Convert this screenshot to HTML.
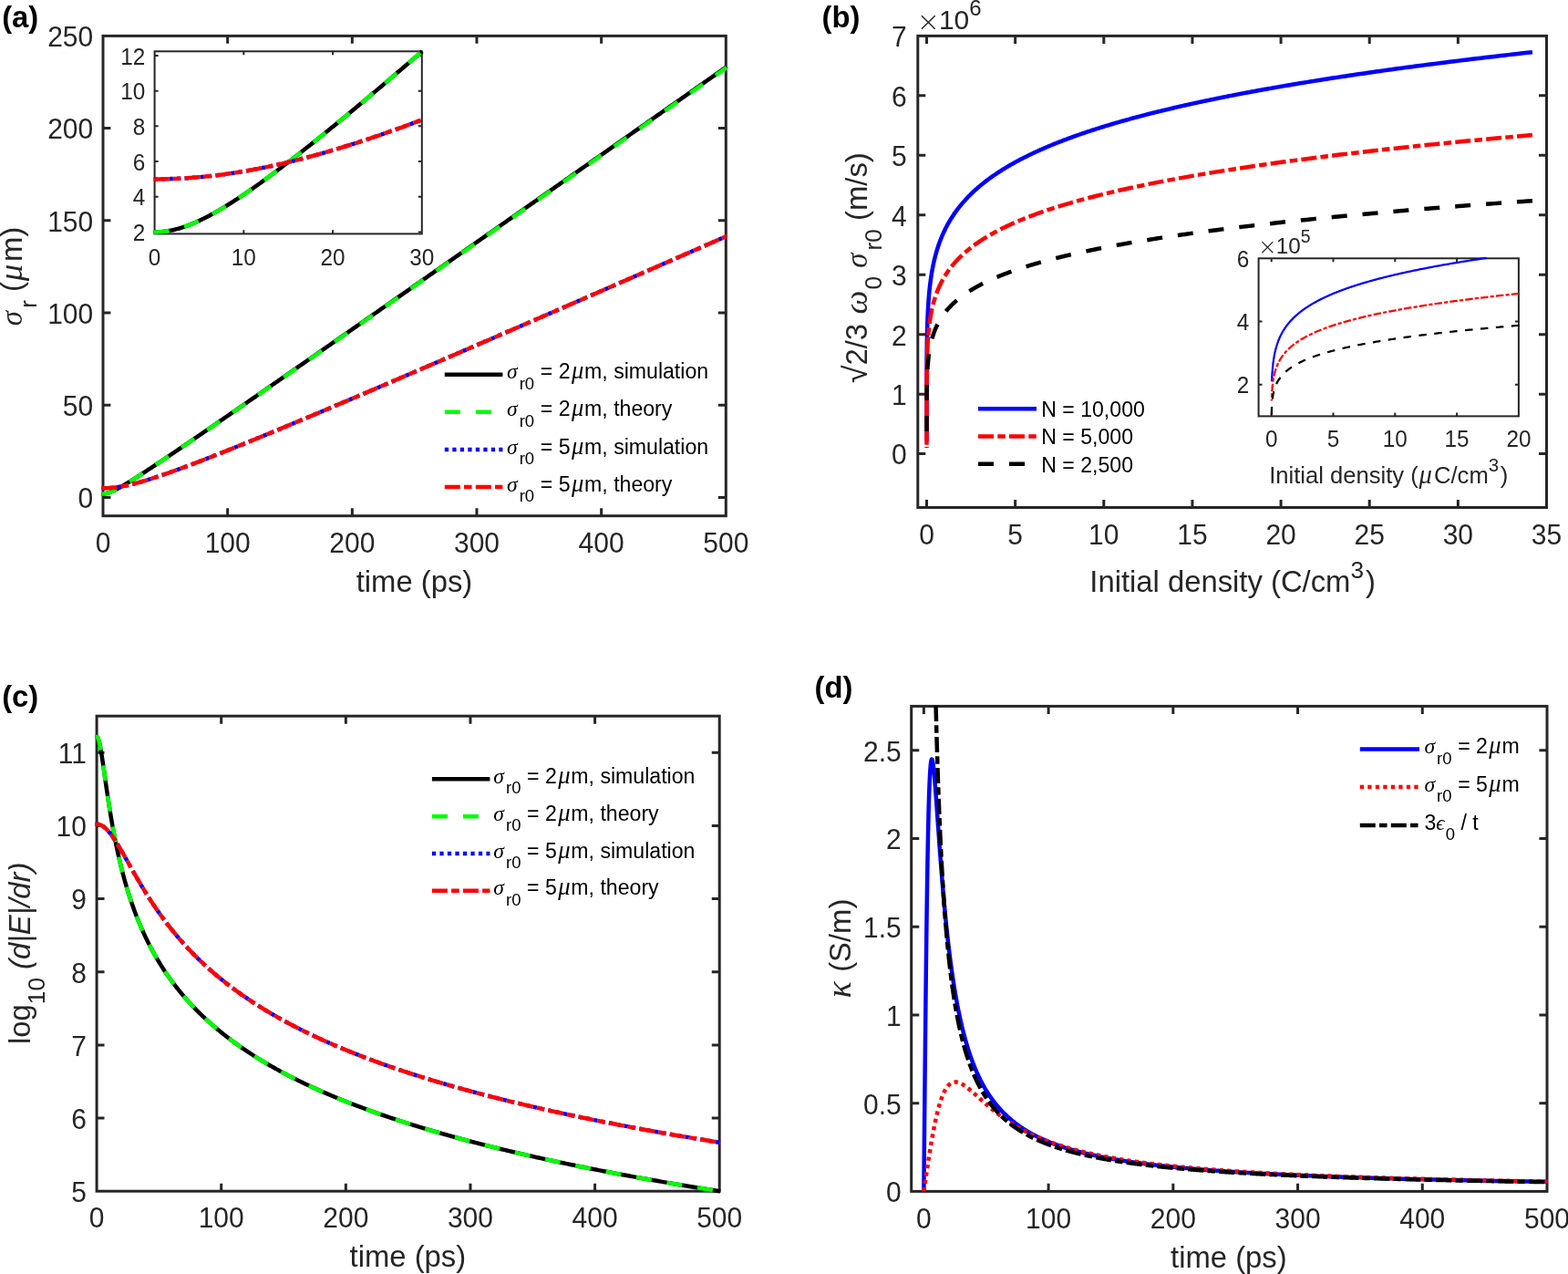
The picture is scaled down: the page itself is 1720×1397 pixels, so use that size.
<!DOCTYPE html>
<html lang="en">
<head>
<meta charset="utf-8">
<title>Coulomb explosion dynamics: four-panel figure</title>
<style>
html,body{margin:0;padding:0;background:#fff}
body{width:1720px;height:1397px;overflow:hidden}
svg{display:block;font-family:"Liberation Sans", sans-serif}
</style>
</head>
<body>
<svg width="1720" height="1397" viewBox="0 0 1720 1397">
<rect width="1720" height="1397" fill="#fff"/>
<path d="M249.66 565.7v-8.43M249.66 39.4v8.43M386.32 565.7v-8.43M386.32 39.4v8.43M522.98 565.7v-8.43M522.98 39.4v8.43M659.64 565.7v-8.43M659.64 39.4v8.43M113 545.46h8.43M796.3 545.46h-8.43M113 444.25h8.43M796.3 444.25h-8.43M113 343.03h8.43M796.3 343.03h-8.43M113 241.82h8.43M796.3 241.82h-8.43M113 140.61h8.43M796.3 140.61h-8.43" stroke="#262626" stroke-width="3" fill="none"/>
<rect x="113" y="39.4" width="683.3" height="526.3" fill="none" stroke="#262626" stroke-width="3"/>
<polyline points="111.5,541.41 113,541.41 113.15,541.41 113.29,541.41 113.44,541.4 113.58,541.4 113.73,541.39 113.88,541.39 114.02,541.38 114.17,541.37 114.32,541.36 114.46,541.34 114.61,541.33 114.76,541.31 114.91,541.3 115.05,541.28 115.2,541.26 115.35,541.24 115.5,541.22 115.65,541.2 115.8,541.17 115.95,541.15 116.1,541.12 116.25,541.09 116.4,541.06 116.56,541.03 116.71,541 116.86,540.97 117.02,540.93 117.17,540.9 117.33,540.86 117.48,540.82 117.64,540.78 117.8,540.74 117.96,540.7 118.11,540.65 118.27,540.61 118.43,540.56 118.59,540.51 118.76,540.46 118.92,540.41 119.08,540.36 119.25,540.31 119.41,540.25 119.58,540.2 119.74,540.14 119.91,540.08 120.08,540.02 120.25,539.96 120.42,539.9 120.59,539.84 120.76,539.77 120.94,539.71 121.11,539.64 121.29,539.57 121.46,539.5 121.64,539.43 121.82,539.36 122,539.28 122.18,539.21 122.36,539.13 122.55,539.05 122.73,538.97 122.92,538.89 123.1,538.81 123.29,538.73 123.48,538.64 123.67,538.56 123.86,538.47 124.05,538.38 124.25,538.29 124.44,538.2 124.64,538.11 124.83,538.01 125.03,537.92 125.23,537.82 125.43,537.72 125.64,537.63 125.84,537.53 126.05,537.42 126.25,537.32 126.46,537.22 126.67,537.11 126.88,537.01 127.09,536.9 127.3,536.79 127.52,536.68 127.73,536.56 127.95,536.45 128.17,536.34 128.39,536.22 128.61,536.1 128.83,535.99 129.06,535.87 129.28,535.74 129.51,535.62 129.74,535.5 129.97,535.37 130.2,535.25 130.43,535.12 130.66,534.99 130.9,534.86 131.14,534.73 131.37,534.59 131.61,534.46 131.86,534.32 132.1,534.19 132.34,534.05 132.59,533.91 132.84,533.77 133.08,533.63 133.34,533.48 133.59,533.34 133.84,533.19 134.1,533.05 134.35,532.9 134.61,532.75 134.87,532.6 135.13,532.44 135.39,532.29 135.66,532.13 135.92,531.98 136.19,531.82 136.46,531.66 136.73,531.5 137,531.34 137.27,531.18 137.55,531.01 137.82,530.85 138.1,530.68 138.38,530.51 138.66,530.34 138.95,530.17 139.23,530 139.52,529.82 139.81,529.65 140.09,529.47 140.39,529.29 140.68,529.12 140.97,528.94 141.27,528.75 141.56,528.57 141.86,528.39 142.16,528.2 142.47,528.02 142.77,527.83 143.08,527.64 143.38,527.45 143.69,527.26 144,527.06 144.31,526.87 144.63,526.67 144.94,526.47 145.26,526.28 145.58,526.08 145.9,525.88 146.22,525.67 146.54,525.47 146.87,525.26 147.2,525.06 147.52,524.85 147.85,524.64 148.19,524.43 148.52,524.22 148.86,524.01 149.19,523.79 149.53,523.58 149.87,523.36 150.21,523.14 150.56,522.92 150.9,522.7 151.25,522.48 151.6,522.26 151.95,522.03 152.3,521.81 152.65,521.58 153.01,521.35 153.37,521.12 153.72,520.89 154.08,520.66 154.45,520.42 154.81,520.19 155.18,519.95 155.54,519.71 155.91,519.47 156.28,519.23 156.66,518.99 157.03,518.75 157.41,518.51 157.78,518.26 158.16,518.01 158.54,517.76 158.93,517.51 159.31,517.26 159.7,517.01 160.08,516.76 160.47,516.5 160.86,516.25 161.26,515.99 161.65,515.73 162.05,515.47 162.45,515.21 162.85,514.95 163.25,514.68 163.65,514.42 164.06,514.15 164.46,513.88 164.87,513.61 165.28,513.34 165.69,513.07 166.11,512.8 166.52,512.52 166.94,512.25 167.36,511.97 167.78,511.69 168.2,511.41 168.63,511.13 169.05,510.85 169.48,510.57 169.91,510.28 170.34,510 170.77,509.71 171.21,509.42 171.65,509.13 172.08,508.84 172.52,508.54 172.97,508.25 173.41,507.96 173.85,507.66 174.3,507.36 174.75,507.06 175.2,506.76 175.65,506.46 176.11,506.16 176.56,505.85 177.02,505.55 177.48,505.24 177.94,504.93 178.4,504.62 178.87,504.31 179.33,504 179.8,503.68 180.27,503.37 180.74,503.05 181.22,502.73 181.69,502.41 182.17,502.09 182.65,501.77 183.13,501.45 183.61,501.13 184.09,500.8 184.58,500.47 185.07,500.14 185.56,499.82 186.05,499.48 186.54,499.15 187.03,498.82 187.53,498.48 188.03,498.15 188.53,497.81 189.03,497.47 189.53,497.13 190.04,496.79 190.55,496.45 191.05,496.1 191.57,495.76 192.08,495.41 192.59,495.07 193.11,494.72 193.63,494.37 194.14,494.01 194.67,493.66 195.19,493.31 195.71,492.95 196.24,492.59 196.77,492.24 197.3,491.88 197.83,491.52 198.36,491.15 198.9,490.79 199.44,490.42 199.98,490.06 200.52,489.69 201.06,489.32 201.6,488.95 202.15,488.58 202.7,488.21 203.25,487.83 203.8,487.46 204.35,487.08 204.91,486.7 205.47,486.33 206.03,485.94 206.59,485.56 207.15,485.18 207.71,484.8 208.28,484.41 208.85,484.02 209.42,483.63 209.99,483.24 210.56,482.85 211.13,482.46 211.71,482.07 212.29,481.67 212.87,481.28 213.45,480.88 214.04,480.48 214.62,480.08 215.21,479.68 215.8,479.27 216.39,478.87 216.98,478.47 217.58,478.06 218.17,477.65 218.77,477.24 219.37,476.83 219.97,476.42 220.58,476.01 221.18,475.59 221.79,475.17 222.4,474.76 223.01,474.34 223.62,473.92 224.24,473.5 224.86,473.08 225.47,472.65 226.09,472.23 226.72,471.8 227.34,471.37 227.96,470.94 228.59,470.51 229.22,470.08 229.85,469.65 230.48,469.21 231.12,468.78 231.75,468.34 232.39,467.9 233.03,467.46 233.67,467.02 234.32,466.58 234.96,466.14 235.61,465.69 236.26,465.25 236.91,464.8 237.56,464.35 238.22,463.9 238.87,463.45 239.53,463 240.19,462.54 240.85,462.09 241.51,461.63 242.18,461.17 242.85,460.71 243.52,460.25 244.19,459.79 244.86,459.33 245.53,458.87 246.21,458.4 246.89,457.93 247.57,457.46 248.25,456.99 248.93,456.52 249.62,456.05 250.3,455.58 250.99,455.1 251.68,454.63 252.37,454.15 253.07,453.67 253.76,453.19 254.46,452.71 255.16,452.23 255.86,451.74 256.57,451.26 257.27,450.77 257.98,450.28 258.69,449.79 259.4,449.3 260.11,448.81 260.82,448.32 261.54,447.82 262.26,447.33 262.98,446.83 263.7,446.33 264.42,445.83 265.15,445.33 265.87,444.83 266.6,444.32 267.33,443.82 268.07,443.31 268.8,442.81 269.54,442.3 270.27,441.79 271.01,441.27 271.76,440.76 272.5,440.25 273.24,439.73 273.99,439.22 274.74,438.7 275.49,438.18 276.24,437.66 277,437.14 277.75,436.61 278.51,436.09 279.27,435.56 280.03,435.03 280.79,434.51 281.56,433.98 282.33,433.44 283.1,432.91 283.87,432.38 284.64,431.84 285.41,431.31 286.19,430.77 286.97,430.23 287.75,429.69 288.53,429.15 289.31,428.6 290.1,428.06 290.88,427.51 291.67,426.97 292.46,426.42 293.26,425.87 294.05,425.32 294.85,424.77 295.64,424.21 296.44,423.66 297.24,423.1 298.05,422.55 298.85,421.99 299.66,421.43 300.47,420.87 301.28,420.3 302.09,419.74 302.91,419.17 303.72,418.61 304.54,418.04 305.36,417.47 306.18,416.9 307.01,416.33 307.83,415.75 308.66,415.18 309.49,414.6 310.32,414.03 311.15,413.45 311.99,412.87 312.82,412.29 313.66,411.71 314.5,411.12 315.34,410.54 316.19,409.95 317.03,409.36 317.88,408.78 318.73,408.19 319.58,407.59 320.43,407 321.29,406.41 322.14,405.81 323,405.21 323.86,404.62 324.72,404.02 325.59,403.42 326.45,402.81 327.32,402.21 328.19,401.61 329.06,401 329.93,400.39 330.81,399.79 331.68,399.18 332.56,398.56 333.44,397.95 334.33,397.34 335.21,396.72 336.09,396.11 336.98,395.49 337.87,394.87 338.76,394.25 339.66,393.63 340.55,393.01 341.45,392.38 342.35,391.76 343.25,391.13 344.15,390.5 345.05,389.87 345.96,389.24 346.87,388.61 347.78,387.98 348.69,387.34 349.6,386.7 350.52,386.07 351.43,385.43 352.35,384.79 353.27,384.15 354.19,383.51 355.12,382.86 356.04,382.22 356.97,381.57 357.9,380.92 358.83,380.27 359.77,379.62 360.7,378.97 361.64,378.32 362.58,377.66 363.52,377.01 364.46,376.35 365.41,375.69 366.35,375.03 367.3,374.37 368.25,373.71 369.2,373.05 370.16,372.38 371.11,371.72 372.07,371.05 373.03,370.38 373.99,369.71 374.95,369.04 375.91,368.37 376.88,367.69 377.85,367.02 378.82,366.34 379.79,365.66 380.77,364.98 381.74,364.3 382.72,363.62 383.7,362.94 384.68,362.25 385.66,361.57 386.65,360.88 387.63,360.19 388.62,359.5 389.61,358.81 390.6,358.12 391.6,357.42 392.59,356.73 393.59,356.03 394.59,355.34 395.59,354.64 396.59,353.94 397.6,353.24 398.61,352.53 399.62,351.83 400.63,351.12 401.64,350.42 402.65,349.71 403.67,349 404.69,348.29 405.71,347.58 406.73,346.86 407.75,346.15 408.78,345.43 409.8,344.72 410.83,344 411.86,343.28 412.89,342.56 413.93,341.83 414.97,341.11 416,340.38 417.04,339.66 418.09,338.93 419.13,338.2 420.17,337.47 421.22,336.74 422.27,336.01 423.32,335.27 424.37,334.54 425.43,333.8 426.49,333.06 427.54,332.32 428.6,331.58 429.67,330.84 430.73,330.1 431.79,329.35 432.86,328.61 433.93,327.86 435,327.11 436.08,326.36 437.15,325.61 438.23,324.86 439.31,324.1 440.39,323.35 441.47,322.59 442.55,321.83 443.64,321.07 444.73,320.31 445.82,319.55 446.91,318.79 448,318.02 449.09,317.26 450.19,316.49 451.29,315.72 452.39,314.95 453.49,314.18 454.6,313.41 455.7,312.64 456.81,311.86 457.92,311.09 459.03,310.31 460.15,309.53 461.26,308.75 462.38,307.97 463.5,307.18 464.62,306.4 465.74,305.62 466.87,304.83 467.99,304.04 469.12,303.25 470.25,302.46 471.38,301.67 472.52,300.88 473.65,300.08 474.79,299.29 475.93,298.49 477.07,297.69 478.21,296.89 479.36,296.09 480.5,295.29 481.65,294.48 482.8,293.68 483.95,292.87 485.11,292.06 486.26,291.26 487.42,290.45 488.58,289.63 489.74,288.82 490.91,288.01 492.07,287.19 493.24,286.37 494.41,285.56 495.58,284.74 496.75,283.92 497.92,283.09 499.1,282.27 500.28,281.45 501.46,280.62 502.64,279.79 503.82,278.96 505.01,278.14 506.2,277.3 507.38,276.47 508.58,275.64 509.77,274.8 510.96,273.97 512.16,273.13 513.36,272.29 514.56,271.45 515.76,270.61 516.96,269.76 518.17,268.92 519.38,268.07 520.58,267.23 521.8,266.38 523.01,265.53 524.22,264.68 525.44,263.83 526.66,262.97 527.88,262.12 529.1,261.26 530.33,260.41 531.55,259.55 532.78,258.69 534.01,257.83 535.24,256.96 536.47,256.1 537.71,255.23 538.94,254.37 540.18,253.5 541.42,252.63 542.67,251.76 543.91,250.89 545.16,250.01 546.4,249.14 547.65,248.26 548.91,247.39 550.16,246.51 551.42,245.63 552.67,244.75 553.93,243.87 555.19,242.98 556.46,242.1 557.72,241.21 558.99,240.32 560.25,239.44 561.52,238.55 562.8,237.65 564.07,236.76 565.35,235.87 566.62,234.97 567.9,234.07 569.18,233.18 570.47,232.28 571.75,231.38 573.04,230.48 574.33,229.57 575.62,228.67 576.91,227.76 578.2,226.85 579.5,225.95 580.8,225.04 582.1,224.13 583.4,223.21 584.7,222.3 586.01,221.38 587.31,220.47 588.62,219.55 589.93,218.63 591.25,217.71 592.56,216.79 593.88,215.87 595.19,214.94 596.51,214.02 597.84,213.09 599.16,212.16 600.49,211.23 601.81,210.3 603.14,209.37 604.47,208.44 605.81,207.5 607.14,206.57 608.48,205.63 609.82,204.69 611.16,203.75 612.5,202.81 613.84,201.87 615.19,200.92 616.53,199.98 617.88,199.03 619.24,198.08 620.59,197.13 621.94,196.18 623.3,195.23 624.66,194.28 626.02,193.32 627.38,192.37 628.75,191.41 630.11,190.45 631.48,189.49 632.85,188.53 634.22,187.57 635.59,186.61 636.97,185.64 638.35,184.68 639.73,183.71 641.11,182.74 642.49,181.77 643.87,180.8 645.26,179.83 646.65,178.85 648.04,177.88 649.43,176.9 650.82,175.92 652.22,174.94 653.62,173.96 655.02,172.98 656.42,172 657.82,171.01 659.23,170.03 660.63,169.04 662.04,168.05 663.45,167.06 664.86,166.07 666.28,165.08 667.69,164.09 669.11,163.09 670.53,162.1 671.95,161.1 673.38,160.1 674.8,159.1 676.23,158.1 677.66,157.09 679.09,156.09 680.52,155.08 681.95,154.08 683.39,153.07 684.83,152.06 686.27,151.05 687.71,150.04 689.15,149.02 690.6,148.01 692.05,146.99 693.5,145.98 694.95,144.96 696.4,143.94 697.85,142.92 699.31,141.9 700.77,140.87 702.23,139.85 703.69,138.82 705.16,137.79 706.62,136.76 708.09,135.73 709.56,134.7 711.03,133.67 712.5,132.63 713.98,131.6 715.46,130.56 716.93,129.52 718.41,128.48 719.9,127.44 721.38,126.4 722.87,125.36 724.36,124.31 725.84,123.27 727.34,122.22 728.83,121.17 730.33,120.12 731.82,119.07 733.32,118.02 734.82,116.96 736.33,115.91 737.83,114.85 739.34,113.79 740.84,112.74 742.35,111.68 743.87,110.61 745.38,109.55 746.9,108.49 748.41,107.42 749.93,106.35 751.45,105.29 752.98,104.22 754.5,103.14 756.03,102.07 757.56,101 759.09,99.92 760.62,98.85 762.15,97.77 763.69,96.69 765.23,95.61 766.77,94.53 768.31,93.45 769.85,92.36 771.4,91.28 772.95,90.19 774.49,89.1 776.05,88.01 777.6,86.92 779.15,85.83 780.71,84.74 782.27,83.64 783.83,82.55 785.39,81.45 786.95,80.35 788.52,79.25 790.09,78.15 791.65,77.05 793.23,75.95 794.8,74.84 796.3,73.79 797.2,73.15" fill="none" stroke="#000000" stroke-width="4.5" stroke-linejoin="round"/>
<polyline points="111.5,541.41 113,541.41 113.15,541.41 113.29,541.41 113.44,541.4 113.58,541.4 113.73,541.39 113.88,541.39 114.02,541.38 114.17,541.37 114.32,541.36 114.46,541.34 114.61,541.33 114.76,541.32 114.91,541.3 115.05,541.28 115.2,541.26 115.35,541.24 115.5,541.22 115.65,541.2 115.8,541.17 115.95,541.15 116.1,541.12 116.25,541.09 116.4,541.06 116.56,541.03 116.71,541 116.86,540.97 117.02,540.93 117.17,540.9 117.33,540.86 117.48,540.82 117.64,540.78 117.8,540.74 117.96,540.7 118.11,540.65 118.27,540.61 118.43,540.56 118.59,540.51 118.76,540.47 118.92,540.41 119.08,540.36 119.25,540.31 119.41,540.26 119.58,540.2 119.74,540.14 119.91,540.09 120.08,540.03 120.25,539.96 120.42,539.9 120.59,539.84 120.76,539.77 120.94,539.71 121.11,539.64 121.29,539.57 121.46,539.5 121.64,539.43 121.82,539.36 122,539.29 122.18,539.21 122.36,539.13 122.55,539.06 122.73,538.98 122.92,538.9 123.1,538.81 123.29,538.73 123.48,538.65 123.67,538.56 123.86,538.47 124.05,538.39 124.25,538.3 124.44,538.21 124.64,538.11 124.83,538.02 125.03,537.93 125.23,537.83 125.43,537.73 125.64,537.63 125.84,537.53 126.05,537.43 126.25,537.33 126.46,537.22 126.67,537.12 126.88,537.01 127.09,536.91 127.3,536.8 127.52,536.69 127.73,536.57 127.95,536.46 128.17,536.35 128.39,536.23 128.61,536.11 128.83,536 129.06,535.88 129.28,535.75 129.51,535.63 129.74,535.51 129.97,535.38 130.2,535.26 130.43,535.13 130.66,535 130.9,534.87 131.14,534.74 131.37,534.61 131.61,534.47 131.86,534.34 132.1,534.2 132.34,534.06 132.59,533.92 132.84,533.78 133.08,533.64 133.34,533.5 133.59,533.35 133.84,533.21 134.1,533.06 134.35,532.91 134.61,532.76 134.87,532.61 135.13,532.46 135.39,532.31 135.66,532.15 135.92,531.99 136.19,531.84 136.46,531.68 136.73,531.52 137,531.36 137.27,531.19 137.55,531.03 137.82,530.86 138.1,530.7 138.38,530.53 138.66,530.36 138.95,530.19 139.23,530.02 139.52,529.84 139.81,529.67 140.09,529.49 140.39,529.32 140.68,529.14 140.97,528.96 141.27,528.78 141.56,528.59 141.86,528.41 142.16,528.23 142.47,528.04 142.77,527.85 143.08,527.66 143.38,527.47 143.69,527.28 144,527.09 144.31,526.89 144.63,526.7 144.94,526.5 145.26,526.3 145.58,526.1 145.9,525.9 146.22,525.7 146.54,525.5 146.87,525.29 147.2,525.09 147.52,524.88 147.85,524.67 148.19,524.46 148.52,524.25 148.86,524.04 149.19,523.82 149.53,523.61 149.87,523.39 150.21,523.18 150.56,522.96 150.9,522.74 151.25,522.51 151.6,522.29 151.95,522.07 152.3,521.84 152.65,521.61 153.01,521.39 153.37,521.16 153.72,520.93 154.08,520.69 154.45,520.46 154.81,520.23 155.18,519.99 155.54,519.75 155.91,519.51 156.28,519.27 156.66,519.03 157.03,518.79 157.41,518.55 157.78,518.3 158.16,518.05 158.54,517.81 158.93,517.56 159.31,517.31 159.7,517.06 160.08,516.8 160.47,516.55 160.86,516.29 161.26,516.04 161.65,515.78 162.05,515.52 162.45,515.26 162.85,514.99 163.25,514.73 163.65,514.47 164.06,514.2 164.46,513.93 164.87,513.66 165.28,513.39 165.69,513.12 166.11,512.85 166.52,512.58 166.94,512.3 167.36,512.02 167.78,511.75 168.2,511.47 168.63,511.19 169.05,510.91 169.48,510.62 169.91,510.34 170.34,510.05 170.77,509.77 171.21,509.48 171.65,509.19 172.08,508.9 172.52,508.6 172.97,508.31 173.41,508.02 173.85,507.72 174.3,507.42 174.75,507.12 175.2,506.82 175.65,506.52 176.11,506.22 176.56,505.91 177.02,505.61 177.48,505.3 177.94,504.99 178.4,504.69 178.87,504.38 179.33,504.06 179.8,503.75 180.27,503.44 180.74,503.12 181.22,502.8 181.69,502.48 182.17,502.16 182.65,501.84 183.13,501.52 183.61,501.2 184.09,500.87 184.58,500.55 185.07,500.22 185.56,499.89 186.05,499.56 186.54,499.23 187.03,498.9 187.53,498.56 188.03,498.23 188.53,497.89 189.03,497.55 189.53,497.21 190.04,496.87 190.55,496.53 191.05,496.19 191.57,495.84 192.08,495.5 192.59,495.15 193.11,494.8 193.63,494.45 194.14,494.1 194.67,493.75 195.19,493.39 195.71,493.04 196.24,492.68 196.77,492.32 197.3,491.97 197.83,491.61 198.36,491.24 198.9,490.88 199.44,490.52 199.98,490.15 200.52,489.78 201.06,489.42 201.6,489.05 202.15,488.68 202.7,488.3 203.25,487.93 203.8,487.56 204.35,487.18 204.91,486.8 205.47,486.42 206.03,486.04 206.59,485.66 207.15,485.28 207.71,484.9 208.28,484.51 208.85,484.13 209.42,483.74 209.99,483.35 210.56,482.96 211.13,482.57 211.71,482.17 212.29,481.78 212.87,481.38 213.45,480.99 214.04,480.59 214.62,480.19 215.21,479.79 215.8,479.39 216.39,478.98 216.98,478.58 217.58,478.17 218.17,477.77 218.77,477.36 219.37,476.95 219.97,476.54 220.58,476.12 221.18,475.71 221.79,475.29 222.4,474.88 223.01,474.46 223.62,474.04 224.24,473.62 224.86,473.2 225.47,472.78 226.09,472.35 226.72,471.93 227.34,471.5 227.96,471.07 228.59,470.64 229.22,470.21 229.85,469.78 230.48,469.34 231.12,468.91 231.75,468.47 232.39,468.04 233.03,467.6 233.67,467.16 234.32,466.72 234.96,466.27 235.61,465.83 236.26,465.38 236.91,464.94 237.56,464.49 238.22,464.04 238.87,463.59 239.53,463.14 240.19,462.69 240.85,462.23 241.51,461.78 242.18,461.32 242.85,460.86 243.52,460.4 244.19,459.94 244.86,459.48 245.53,459.01 246.21,458.55 246.89,458.08 247.57,457.62 248.25,457.15 248.93,456.68 249.62,456.2 250.3,455.73 250.99,455.26 251.68,454.78 252.37,454.31 253.07,453.83 253.76,453.35 254.46,452.87 255.16,452.39 255.86,451.9 256.57,451.42 257.27,450.93 257.98,450.45 258.69,449.96 259.4,449.47 260.11,448.98 260.82,448.48 261.54,447.99 262.26,447.5 262.98,447 263.7,446.5 264.42,446 265.15,445.5 265.87,445 266.6,444.5 267.33,444 268.07,443.49 268.8,442.98 269.54,442.48 270.27,441.97 271.01,441.46 271.76,440.94 272.5,440.43 273.24,439.92 273.99,439.4 274.74,438.88 275.49,438.36 276.24,437.84 277,437.32 277.75,436.8 278.51,436.28 279.27,435.75 280.03,435.23 280.79,434.7 281.56,434.17 282.33,433.64 283.1,433.11 283.87,432.57 284.64,432.04 285.41,431.5 286.19,430.97 286.97,430.43 287.75,429.89 288.53,429.35 289.31,428.81 290.1,428.26 290.88,427.72 291.67,427.17 292.46,426.63 293.26,426.08 294.05,425.53 294.85,424.98 295.64,424.42 296.44,423.87 297.24,423.32 298.05,422.76 298.85,422.2 299.66,421.64 300.47,421.08 301.28,420.52 302.09,419.96 302.91,419.39 303.72,418.83 304.54,418.26 305.36,417.69 306.18,417.12 307.01,416.55 307.83,415.98 308.66,415.41 309.49,414.83 310.32,414.26 311.15,413.68 311.99,413.1 312.82,412.52 313.66,411.94 314.5,411.36 315.34,410.77 316.19,410.19 317.03,409.6 317.88,409.01 318.73,408.42 319.58,407.83 320.43,407.24 321.29,406.65 322.14,406.06 323,405.46 323.86,404.86 324.72,404.26 325.59,403.67 326.45,403.06 327.32,402.46 328.19,401.86 329.06,401.25 329.93,400.65 330.81,400.04 331.68,399.43 332.56,398.82 333.44,398.21 334.33,397.6 335.21,396.98 336.09,396.37 336.98,395.75 337.87,395.13 338.76,394.52 339.66,393.89 340.55,393.27 341.45,392.65 342.35,392.03 343.25,391.4 344.15,390.77 345.05,390.14 345.96,389.51 346.87,388.88 347.78,388.25 348.69,387.62 349.6,386.98 350.52,386.35 351.43,385.71 352.35,385.07 353.27,384.43 354.19,383.79 355.12,383.15 356.04,382.5 356.97,381.86 357.9,381.21 358.83,380.56 359.77,379.91 360.7,379.26 361.64,378.61 362.58,377.96 363.52,377.3 364.46,376.65 365.41,375.99 366.35,375.33 367.3,374.67 368.25,374.01 369.2,373.35 370.16,372.69 371.11,372.02 372.07,371.35 373.03,370.69 373.99,370.02 374.95,369.35 375.91,368.68 376.88,368 377.85,367.33 378.82,366.65 379.79,365.98 380.77,365.3 381.74,364.62 382.72,363.94 383.7,363.26 384.68,362.57 385.66,361.89 386.65,361.2 387.63,360.52 388.62,359.83 389.61,359.14 390.6,358.45 391.6,357.76 392.59,357.06 393.59,356.37 394.59,355.67 395.59,354.97 396.59,354.27 397.6,353.57 398.61,352.87 399.62,352.17 400.63,351.47 401.64,350.76 402.65,350.05 403.67,349.35 404.69,348.64 405.71,347.93 406.73,347.21 407.75,346.5 408.78,345.79 409.8,345.07 410.83,344.35 411.86,343.63 412.89,342.91 413.93,342.19 414.97,341.47 416,340.75 417.04,340.02 418.09,339.29 419.13,338.57 420.17,337.84 421.22,337.11 422.27,336.38 423.32,335.64 424.37,334.91 425.43,334.17 426.49,333.44 427.54,332.7 428.6,331.96 429.67,331.22 430.73,330.48 431.79,329.73 432.86,328.99 433.93,328.24 435,327.5 436.08,326.75 437.15,326 438.23,325.25 439.31,324.49 440.39,323.74 441.47,322.98 442.55,322.23 443.64,321.47 444.73,320.71 445.82,319.95 446.91,319.19 448,318.43 449.09,317.66 450.19,316.9 451.29,316.13 452.39,315.36 453.49,314.59 454.6,313.82 455.7,313.05 456.81,312.27 457.92,311.5 459.03,310.72 460.15,309.95 461.26,309.17 462.38,308.39 463.5,307.61 464.62,306.82 465.74,306.04 466.87,305.25 467.99,304.47 469.12,303.68 470.25,302.89 471.38,302.1 472.52,301.31 473.65,300.52 474.79,299.72 475.93,298.93 477.07,298.13 478.21,297.33 479.36,296.53 480.5,295.73 481.65,294.93 482.8,294.12 483.95,293.32 485.11,292.51 486.26,291.71 487.42,290.9 488.58,290.09 489.74,289.28 490.91,288.46 492.07,287.65 493.24,286.83 494.41,286.02 495.58,285.2 496.75,284.38 497.92,283.56 499.1,282.74 500.28,281.91 501.46,281.09 502.64,280.26 503.82,279.44 505.01,278.61 506.2,277.78 507.38,276.95 508.58,276.12 509.77,275.28 510.96,274.45 512.16,273.61 513.36,272.77 514.56,271.93 515.76,271.09 516.96,270.25 518.17,269.41 519.38,268.57 520.58,267.72 521.8,266.87 523.01,266.03 524.22,265.18 525.44,264.33 526.66,263.47 527.88,262.62 529.1,261.77 530.33,260.91 531.55,260.05 532.78,259.2 534.01,258.34 535.24,257.47 536.47,256.61 537.71,255.75 538.94,254.88 540.18,254.02 541.42,253.15 542.67,252.28 543.91,251.41 545.16,250.54 546.4,249.67 547.65,248.79 548.91,247.92 550.16,247.04 551.42,246.16 552.67,245.28 553.93,244.4 555.19,243.52 556.46,242.64 557.72,241.75 558.99,240.87 560.25,239.98 561.52,239.09 562.8,238.2 564.07,237.31 565.35,236.42 566.62,235.52 567.9,234.63 569.18,233.73 570.47,232.83 571.75,231.94 573.04,231.03 574.33,230.13 575.62,229.23 576.91,228.33 578.2,227.42 579.5,226.51 580.8,225.61 582.1,224.7 583.4,223.79 584.7,222.87 586.01,221.96 587.31,221.05 588.62,220.13 589.93,219.21 591.25,218.29 592.56,217.37 593.88,216.45 595.19,215.53 596.51,214.61 597.84,213.68 599.16,212.75 600.49,211.83 601.81,210.9 603.14,209.97 604.47,209.04 605.81,208.1 607.14,207.17 608.48,206.23 609.82,205.3 611.16,204.36 612.5,203.42 613.84,202.48 615.19,201.54 616.53,200.59 617.88,199.65 619.24,198.7 620.59,197.75 621.94,196.81 623.3,195.86 624.66,194.9 626.02,193.95 627.38,193 628.75,192.04 630.11,191.09 631.48,190.13 632.85,189.17 634.22,188.21 635.59,187.25 636.97,186.28 638.35,185.32 639.73,184.35 641.11,183.39 642.49,182.42 643.87,181.45 645.26,180.48 646.65,179.51 648.04,178.53 649.43,177.56 650.82,176.58 652.22,175.6 653.62,174.62 655.02,173.64 656.42,172.66 657.82,171.68 659.23,170.7 660.63,169.71 662.04,168.72 663.45,167.74 664.86,166.75 666.28,165.76 667.69,164.77 669.11,163.77 670.53,162.78 671.95,161.78 673.38,160.78 674.8,159.79 676.23,158.79 677.66,157.79 679.09,156.78 680.52,155.78 681.95,154.78 683.39,153.77 684.83,152.76 686.27,151.75 687.71,150.74 689.15,149.73 690.6,148.72 692.05,147.7 693.5,146.69 694.95,145.67 696.4,144.65 697.85,143.64 699.31,142.61 700.77,141.59 702.23,140.57 703.69,139.54 705.16,138.52 706.62,137.49 708.09,136.46 709.56,135.43 711.03,134.4 712.5,133.37 713.98,132.34 715.46,131.3 716.93,130.27 718.41,129.23 719.9,128.19 721.38,127.15 722.87,126.11 724.36,125.06 725.84,124.02 727.34,122.97 728.83,121.93 730.33,120.88 731.82,119.83 733.32,118.78 734.82,117.73 736.33,116.67 737.83,115.62 739.34,114.56 740.84,113.51 742.35,112.45 743.87,111.39 745.38,110.33 746.9,109.27 748.41,108.2 749.93,107.14 751.45,106.07 752.98,105 754.5,103.93 756.03,102.86 757.56,101.79 759.09,100.72 760.62,99.64 762.15,98.57 763.69,97.49 765.23,96.41 766.77,95.33 768.31,94.25 769.85,93.17 771.4,92.09 772.95,91 774.49,89.92 776.05,88.83 777.6,87.74 779.15,86.65 780.71,85.56 782.27,84.47 783.83,83.37 785.39,82.28 786.95,81.18 788.52,80.09 790.09,78.99 791.65,77.89 793.23,76.78 794.8,75.68 796.3,74.63 797.2,74" fill="none" stroke="#00ff00" stroke-width="4.5" stroke-linejoin="round" stroke-dasharray="17 17"/>
<polyline points="111.5,535.34 113,535.34 113.28,535.34 113.56,535.34 113.83,535.33 114.11,535.33 114.39,535.33 114.67,535.32 114.95,535.32 115.23,535.31 115.51,535.31 115.78,535.3 116.06,535.29 116.34,535.28 116.62,535.27 116.9,535.26 117.18,535.25 117.46,535.24 117.74,535.23 118.02,535.21 118.3,535.2 118.58,535.18 118.86,535.17 119.14,535.15 119.42,535.14 119.7,535.12 119.98,535.1 120.27,535.08 120.55,535.06 120.83,535.04 121.11,535.02 121.4,534.99 121.68,534.97 121.96,534.95 122.25,534.92 122.53,534.9 122.81,534.87 123.1,534.84 123.38,534.82 123.67,534.79 123.96,534.76 124.24,534.73 124.53,534.7 124.82,534.66 125.1,534.63 125.39,534.6 125.68,534.57 125.97,534.53 126.26,534.5 126.55,534.46 126.84,534.42 127.13,534.38 127.42,534.35 127.71,534.31 128,534.27 128.3,534.23 128.59,534.18 128.88,534.14 129.18,534.1 129.47,534.06 129.77,534.01 130.07,533.97 130.36,533.92 130.66,533.87 130.96,533.83 131.26,533.78 131.56,533.73 131.86,533.68 132.16,533.63 132.46,533.58 132.76,533.52 133.06,533.47 133.37,533.42 133.67,533.36 133.97,533.31 134.28,533.25 134.59,533.19 134.89,533.14 135.2,533.08 135.51,533.02 135.82,532.96 136.13,532.9 136.44,532.84 136.75,532.78 137.06,532.71 137.37,532.65 137.69,532.59 138,532.52 138.31,532.45 138.63,532.39 138.95,532.32 139.26,532.25 139.58,532.18 139.9,532.11 140.22,532.04 140.54,531.97 140.86,531.9 141.19,531.83 141.51,531.75 141.83,531.68 142.16,531.6 142.49,531.53 142.81,531.45 143.14,531.37 143.47,531.3 143.8,531.22 144.13,531.14 144.46,531.06 144.79,530.98 145.13,530.89 145.46,530.81 145.8,530.73 146.13,530.64 146.47,530.56 146.81,530.47 147.15,530.39 147.49,530.3 147.83,530.21 148.17,530.12 148.51,530.03 148.86,529.94 149.2,529.85 149.55,529.76 149.89,529.67 150.24,529.58 150.59,529.48 150.94,529.39 151.29,529.29 151.65,529.19 152,529.1 152.35,529 152.71,528.9 153.06,528.8 153.42,528.7 153.78,528.6 154.14,528.5 154.5,528.4 154.86,528.29 155.23,528.19 155.59,528.08 155.96,527.98 156.32,527.87 156.69,527.77 157.06,527.66 157.43,527.55 157.8,527.44 158.17,527.33 158.54,527.22 158.92,527.11 159.29,527 159.67,526.88 160.05,526.77 160.42,526.65 160.8,526.54 161.19,526.42 161.57,526.31 161.95,526.19 162.34,526.07 162.72,525.95 163.11,525.83 163.5,525.71 163.89,525.59 164.28,525.47 164.67,525.34 165.06,525.22 165.45,525.09 165.85,524.97 166.25,524.84 166.64,524.72 167.04,524.59 167.44,524.46 167.85,524.33 168.25,524.2 168.65,524.07 169.06,523.94 169.46,523.81 169.87,523.67 170.28,523.54 170.69,523.41 171.1,523.27 171.51,523.13 171.93,523 172.34,522.86 172.76,522.72 173.18,522.58 173.6,522.44 174.02,522.3 174.44,522.16 174.86,522.02 175.28,521.88 175.71,521.73 176.14,521.59 176.57,521.44 176.99,521.3 177.42,521.15 177.86,521 178.29,520.86 178.72,520.71 179.16,520.56 179.6,520.41 180.04,520.26 180.48,520.1 180.92,519.95 181.36,519.8 181.8,519.64 182.25,519.49 182.69,519.33 183.14,519.18 183.59,519.02 184.04,518.86 184.49,518.7 184.95,518.54 185.4,518.38 185.86,518.22 186.31,518.06 186.77,517.9 187.23,517.73 187.69,517.57 188.16,517.4 188.62,517.24 189.09,517.07 189.55,516.9 190.02,516.74 190.49,516.57 190.96,516.4 191.43,516.23 191.91,516.06 192.38,515.89 192.86,515.71 193.34,515.54 193.81,515.37 194.3,515.19 194.78,515.02 195.26,514.84 195.75,514.66 196.23,514.48 196.72,514.31 197.21,514.13 197.7,513.95 198.19,513.77 198.68,513.58 199.18,513.4 199.67,513.22 200.17,513.03 200.67,512.85 201.17,512.66 201.67,512.48 202.17,512.29 202.68,512.1 203.18,511.91 203.69,511.73 204.2,511.54 204.71,511.34 205.22,511.15 205.74,510.96 206.25,510.77 206.77,510.57 207.28,510.38 207.8,510.18 208.32,509.99 208.84,509.79 209.37,509.59 209.89,509.39 210.42,509.2 210.95,509 211.47,508.79 212,508.59 212.54,508.39 213.07,508.19 213.6,507.98 214.14,507.78 214.68,507.57 215.22,507.37 215.76,507.16 216.3,506.95 216.84,506.75 217.39,506.54 217.93,506.33 218.48,506.12 219.03,505.91 219.58,505.69 220.13,505.48 220.69,505.27 221.24,505.05 221.8,504.84 222.36,504.62 222.92,504.4 223.48,504.19 224.04,503.97 224.61,503.75 225.17,503.53 225.74,503.31 226.31,503.09 226.88,502.87 227.45,502.64 228.02,502.42 228.6,502.2 229.17,501.97 229.75,501.74 230.33,501.52 230.91,501.29 231.49,501.06 232.08,500.83 232.66,500.6 233.25,500.37 233.84,500.14 234.43,499.91 235.02,499.68 235.61,499.44 236.2,499.21 236.8,498.98 237.4,498.74 237.99,498.5 238.59,498.27 239.2,498.03 239.8,497.79 240.4,497.55 241.01,497.31 241.62,497.07 242.23,496.83 242.84,496.58 243.45,496.34 244.06,496.1 244.68,495.85 245.3,495.61 245.91,495.36 246.53,495.11 247.16,494.86 247.78,494.62 248.4,494.37 249.03,494.12 249.66,493.87 250.29,493.61 250.92,493.36 251.55,493.11 252.18,492.85 252.82,492.6 253.45,492.34 254.09,492.09 254.73,491.83 255.37,491.57 256.02,491.31 256.66,491.05 257.31,490.79 257.95,490.53 258.6,490.27 259.25,490.01 259.91,489.75 260.56,489.48 261.21,489.22 261.87,488.95 262.53,488.69 263.19,488.42 263.85,488.15 264.51,487.88 265.18,487.61 265.84,487.34 266.51,487.07 267.18,486.8 267.85,486.53 268.52,486.26 269.2,485.98 269.87,485.71 270.55,485.43 271.23,485.16 271.91,484.88 272.59,484.6 273.27,484.32 273.96,484.04 274.64,483.76 275.33,483.48 276.02,483.2 276.71,482.92 277.4,482.64 278.1,482.35 278.79,482.07 279.49,481.78 280.19,481.5 280.89,481.21 281.59,480.92 282.3,480.64 283,480.35 283.71,480.06 284.42,479.77 285.13,479.47 285.84,479.18 286.55,478.89 287.26,478.6 287.98,478.3 288.7,478.01 289.42,477.71 290.14,477.41 290.86,477.12 291.58,476.82 292.31,476.52 293.04,476.22 293.77,475.92 294.5,475.62 295.23,475.32 295.96,475.01 296.7,474.71 297.43,474.41 298.17,474.1 298.91,473.79 299.65,473.49 300.39,473.18 301.14,472.87 301.88,472.56 302.63,472.25 303.38,471.94 304.13,471.63 304.88,471.32 305.64,471.01 306.39,470.69 307.15,470.38 307.91,470.07 308.67,469.75 309.43,469.43 310.2,469.12 310.96,468.8 311.73,468.48 312.5,468.16 313.27,467.84 314.04,467.52 314.81,467.2 315.58,466.87 316.36,466.55 317.14,466.23 317.92,465.9 318.7,465.58 319.48,465.25 320.27,464.92 321.05,464.6 321.84,464.27 322.63,463.94 323.42,463.61 324.21,463.28 325,462.94 325.8,462.61 326.6,462.28 327.39,461.94 328.19,461.61 329,461.27 329.8,460.94 330.6,460.6 331.41,460.26 332.22,459.92 333.03,459.59 333.84,459.25 334.65,458.9 335.47,458.56 336.28,458.22 337.1,457.88 337.92,457.53 338.74,457.19 339.57,456.84 340.39,456.5 341.22,456.15 342.04,455.8 342.87,455.45 343.7,455.1 344.53,454.76 345.37,454.4 346.2,454.05 347.04,453.7 347.88,453.35 348.72,452.99 349.56,452.64 350.41,452.28 351.25,451.93 352.1,451.57 352.95,451.21 353.8,450.86 354.65,450.5 355.5,450.14 356.36,449.78 357.21,449.41 358.07,449.05 358.93,448.69 359.79,448.33 360.65,447.96 361.52,447.6 362.38,447.23 363.25,446.86 364.12,446.5 364.99,446.13 365.86,445.76 366.74,445.39 367.61,445.02 368.49,444.65 369.37,444.27 370.25,443.9 371.13,443.53 372.02,443.15 372.9,442.78 373.79,442.4 374.68,442.03 375.57,441.65 376.46,441.27 377.36,440.89 378.25,440.51 379.15,440.13 380.05,439.75 380.95,439.37 381.85,438.99 382.75,438.6 383.66,438.22 384.56,437.83 385.47,437.45 386.38,437.06 387.29,436.67 388.21,436.29 389.12,435.9 390.04,435.51 390.95,435.12 391.87,434.73 392.8,434.33 393.72,433.94 394.64,433.55 395.57,433.15 396.5,432.76 397.43,432.36 398.36,431.97 399.29,431.57 400.22,431.17 401.16,430.77 402.1,430.37 403.04,429.97 403.98,429.57 404.92,429.17 405.86,428.77 406.81,428.36 407.76,427.96 408.71,427.56 409.66,427.15 410.61,426.74 411.56,426.34 412.52,425.93 413.48,425.52 414.43,425.11 415.39,424.7 416.36,424.29 417.32,423.88 418.29,423.47 419.25,423.05 420.22,422.64 421.19,422.22 422.16,421.81 423.14,421.39 424.11,420.97 425.09,420.56 426.07,420.14 427.05,419.72 428.03,419.3 429.01,418.88 430,418.46 430.98,418.03 431.97,417.61 432.96,417.19 433.95,416.76 434.95,416.34 435.94,415.91 436.94,415.48 437.94,415.06 438.93,414.63 439.94,414.2 440.94,413.77 441.94,413.34 442.95,412.91 443.96,412.47 444.97,412.04 445.98,411.61 446.99,411.17 448.01,410.74 449.02,410.3 450.04,409.87 451.06,409.43 452.08,408.99 453.1,408.55 454.13,408.11 455.15,407.67 456.18,407.23 457.21,406.79 458.24,406.34 459.27,405.9 460.31,405.46 461.34,405.01 462.38,404.56 463.42,404.12 464.46,403.67 465.5,403.22 466.55,402.77 467.59,402.32 468.64,401.87 469.69,401.42 470.74,400.97 471.79,400.52 472.85,400.06 473.9,399.61 474.96,399.15 476.02,398.7 477.08,398.24 478.14,397.78 479.2,397.33 480.27,396.87 481.34,396.41 482.4,395.95 483.47,395.49 484.55,395.02 485.62,394.56 486.7,394.1 487.77,393.63 488.85,393.17 489.93,392.7 491.01,392.24 492.1,391.77 493.18,391.3 494.27,390.83 495.36,390.36 496.45,389.89 497.54,389.42 498.63,388.95 499.73,388.48 500.82,388 501.92,387.53 503.02,387.05 504.12,386.58 505.23,386.1 506.33,385.63 507.44,385.15 508.55,384.67 509.66,384.19 510.77,383.71 511.88,383.23 513,382.75 514.11,382.26 515.23,381.78 516.35,381.3 517.47,380.81 518.6,380.33 519.72,379.84 520.85,379.35 521.98,378.86 523.11,378.38 524.24,377.89 525.37,377.4 526.51,376.91 527.64,376.41 528.78,375.92 529.92,375.43 531.06,374.93 532.2,374.44 533.35,373.94 534.5,373.45 535.64,372.95 536.79,372.45 537.95,371.96 539.1,371.46 540.25,370.96 541.41,370.46 542.57,369.95 543.73,369.45 544.89,368.95 546.05,368.44 547.22,367.94 548.38,367.43 549.55,366.93 550.72,366.42 551.89,365.91 553.06,365.41 554.24,364.9 555.41,364.39 556.59,363.88 557.77,363.36 558.95,362.85 560.14,362.34 561.32,361.83 562.51,361.31 563.69,360.8 564.88,360.28 566.07,359.76 567.27,359.25 568.46,358.73 569.66,358.21 570.86,357.69 572.05,357.17 573.26,356.65 574.46,356.12 575.66,355.6 576.87,355.08 578.08,354.55 579.29,354.03 580.5,353.5 581.71,352.98 582.92,352.45 584.14,351.92 585.36,351.39 586.58,350.86 587.8,350.33 589.02,349.8 590.25,349.27 591.47,348.73 592.7,348.2 593.93,347.67 595.16,347.13 596.39,346.6 597.63,346.06 598.86,345.52 600.1,344.98 601.34,344.45 602.58,343.91 603.82,343.37 605.07,342.82 606.31,342.28 607.56,341.74 608.81,341.2 610.06,340.65 611.31,340.11 612.57,339.56 613.82,339.01 615.08,338.47 616.34,337.92 617.6,337.37 618.86,336.82 620.13,336.27 621.39,335.72 622.66,335.17 623.93,334.62 625.2,334.06 626.48,333.51 627.75,332.95 629.03,332.4 630.3,331.84 631.58,331.28 632.86,330.73 634.15,330.17 635.43,329.61 636.72,329.05 638,328.49 639.29,327.93 640.58,327.36 641.88,326.8 643.17,326.24 644.47,325.67 645.76,325.11 647.06,324.54 648.36,323.97 649.67,323.4 650.97,322.84 652.28,322.27 653.58,321.7 654.89,321.13 656.21,320.55 657.52,319.98 658.83,319.41 660.15,318.83 661.47,318.26 662.78,317.68 664.11,317.11 665.43,316.53 666.75,315.95 668.08,315.37 669.41,314.8 670.74,314.22 672.07,313.63 673.4,313.05 674.73,312.47 676.07,311.89 677.41,311.3 678.75,310.72 680.09,310.13 681.43,309.55 682.77,308.96 684.12,308.37 685.47,307.79 686.82,307.2 688.17,306.61 689.52,306.02 690.88,305.42 692.23,304.83 693.59,304.24 694.95,303.65 696.31,303.05 697.67,302.46 699.04,301.86 700.4,301.26 701.77,300.67 703.14,300.07 704.51,299.47 705.88,298.87 707.26,298.27 708.63,297.67 710.01,297.06 711.39,296.46 712.77,295.86 714.15,295.25 715.54,294.65 716.93,294.04 718.31,293.44 719.7,292.83 721.09,292.22 722.49,291.61 723.88,291 725.28,290.39 726.67,289.78 728.07,289.17 729.48,288.56 730.88,287.94 732.28,287.33 733.69,286.71 735.1,286.1 736.51,285.48 737.92,284.86 739.33,284.25 740.75,283.63 742.16,283.01 743.58,282.39 745,281.77 746.42,281.14 747.84,280.52 749.27,279.9 750.69,279.27 752.12,278.65 753.55,278.02 754.98,277.4 756.42,276.77 757.85,276.14 759.29,275.51 760.72,274.88 762.16,274.25 763.61,273.62 765.05,272.99 766.49,272.36 767.94,271.72 769.39,271.09 770.84,270.45 772.29,269.82 773.74,269.18 775.2,268.55 776.65,267.91 778.11,267.27 779.57,266.63 781.03,265.99 782.49,265.35 783.96,264.71 785.43,264.06 786.89,263.42 788.36,262.78 789.84,262.13 791.31,261.49 792.78,260.84 794.26,260.19 795.74,259.55 796.3,259.3 797.2,258.91" fill="none" stroke="#0000ff" stroke-width="4.5" stroke-linejoin="round" stroke-dasharray="4.25 4.25"/>
<polyline points="111.5,535.34 113,535.34 113.28,535.34 113.56,535.34 113.83,535.33 114.11,535.33 114.39,535.33 114.67,535.32 114.95,535.32 115.23,535.31 115.51,535.31 115.78,535.3 116.06,535.29 116.34,535.28 116.62,535.27 116.9,535.26 117.18,535.25 117.46,535.24 117.74,535.23 118.02,535.21 118.3,535.2 118.58,535.18 118.86,535.17 119.14,535.15 119.42,535.14 119.7,535.12 119.98,535.1 120.27,535.08 120.55,535.06 120.83,535.04 121.11,535.02 121.4,534.99 121.68,534.97 121.96,534.95 122.25,534.92 122.53,534.9 122.81,534.87 123.1,534.84 123.38,534.82 123.67,534.79 123.96,534.76 124.24,534.73 124.53,534.7 124.82,534.66 125.1,534.63 125.39,534.6 125.68,534.57 125.97,534.53 126.26,534.5 126.55,534.46 126.84,534.42 127.13,534.38 127.42,534.35 127.71,534.31 128,534.27 128.3,534.23 128.59,534.18 128.88,534.14 129.18,534.1 129.47,534.06 129.77,534.01 130.07,533.97 130.36,533.92 130.66,533.87 130.96,533.83 131.26,533.78 131.56,533.73 131.86,533.68 132.16,533.63 132.46,533.58 132.76,533.52 133.06,533.47 133.37,533.42 133.67,533.36 133.97,533.31 134.28,533.25 134.59,533.19 134.89,533.14 135.2,533.08 135.51,533.02 135.82,532.96 136.13,532.9 136.44,532.84 136.75,532.78 137.06,532.71 137.37,532.65 137.69,532.59 138,532.52 138.31,532.45 138.63,532.39 138.95,532.32 139.26,532.25 139.58,532.18 139.9,532.11 140.22,532.04 140.54,531.97 140.86,531.9 141.19,531.83 141.51,531.75 141.83,531.68 142.16,531.6 142.49,531.53 142.81,531.45 143.14,531.37 143.47,531.3 143.8,531.22 144.13,531.14 144.46,531.06 144.79,530.98 145.13,530.89 145.46,530.81 145.8,530.73 146.13,530.64 146.47,530.56 146.81,530.47 147.15,530.39 147.49,530.3 147.83,530.21 148.17,530.12 148.51,530.03 148.86,529.94 149.2,529.85 149.55,529.76 149.89,529.67 150.24,529.58 150.59,529.48 150.94,529.39 151.29,529.29 151.65,529.19 152,529.1 152.35,529 152.71,528.9 153.06,528.8 153.42,528.7 153.78,528.6 154.14,528.5 154.5,528.4 154.86,528.29 155.23,528.19 155.59,528.08 155.96,527.98 156.32,527.87 156.69,527.77 157.06,527.66 157.43,527.55 157.8,527.44 158.17,527.33 158.54,527.22 158.92,527.11 159.29,527 159.67,526.88 160.05,526.77 160.42,526.65 160.8,526.54 161.19,526.42 161.57,526.31 161.95,526.19 162.34,526.07 162.72,525.95 163.11,525.83 163.5,525.71 163.89,525.59 164.28,525.47 164.67,525.34 165.06,525.22 165.45,525.09 165.85,524.97 166.25,524.84 166.64,524.72 167.04,524.59 167.44,524.46 167.85,524.33 168.25,524.2 168.65,524.07 169.06,523.94 169.46,523.81 169.87,523.67 170.28,523.54 170.69,523.41 171.1,523.27 171.51,523.13 171.93,523 172.34,522.86 172.76,522.72 173.18,522.58 173.6,522.44 174.02,522.3 174.44,522.16 174.86,522.02 175.28,521.88 175.71,521.73 176.14,521.59 176.57,521.44 176.99,521.3 177.42,521.15 177.86,521 178.29,520.86 178.72,520.71 179.16,520.56 179.6,520.41 180.04,520.26 180.48,520.1 180.92,519.95 181.36,519.8 181.8,519.64 182.25,519.49 182.69,519.33 183.14,519.18 183.59,519.02 184.04,518.86 184.49,518.7 184.95,518.54 185.4,518.38 185.86,518.22 186.31,518.06 186.77,517.9 187.23,517.73 187.69,517.57 188.16,517.4 188.62,517.24 189.09,517.07 189.55,516.9 190.02,516.74 190.49,516.57 190.96,516.4 191.43,516.23 191.91,516.06 192.38,515.89 192.86,515.71 193.34,515.54 193.81,515.37 194.3,515.19 194.78,515.02 195.26,514.84 195.75,514.66 196.23,514.48 196.72,514.31 197.21,514.13 197.7,513.95 198.19,513.77 198.68,513.58 199.18,513.4 199.67,513.22 200.17,513.03 200.67,512.85 201.17,512.66 201.67,512.48 202.17,512.29 202.68,512.1 203.18,511.91 203.69,511.73 204.2,511.54 204.71,511.34 205.22,511.15 205.74,510.96 206.25,510.77 206.77,510.57 207.28,510.38 207.8,510.18 208.32,509.99 208.84,509.79 209.37,509.59 209.89,509.39 210.42,509.2 210.95,509 211.47,508.79 212,508.59 212.54,508.39 213.07,508.19 213.6,507.98 214.14,507.78 214.68,507.57 215.22,507.37 215.76,507.16 216.3,506.95 216.84,506.75 217.39,506.54 217.93,506.33 218.48,506.12 219.03,505.91 219.58,505.69 220.13,505.48 220.69,505.27 221.24,505.05 221.8,504.84 222.36,504.62 222.92,504.4 223.48,504.19 224.04,503.97 224.61,503.75 225.17,503.53 225.74,503.31 226.31,503.09 226.88,502.87 227.45,502.64 228.02,502.42 228.6,502.2 229.17,501.97 229.75,501.74 230.33,501.52 230.91,501.29 231.49,501.06 232.08,500.83 232.66,500.6 233.25,500.37 233.84,500.14 234.43,499.91 235.02,499.68 235.61,499.44 236.2,499.21 236.8,498.98 237.4,498.74 237.99,498.5 238.59,498.27 239.2,498.03 239.8,497.79 240.4,497.55 241.01,497.31 241.62,497.07 242.23,496.83 242.84,496.58 243.45,496.34 244.06,496.1 244.68,495.85 245.3,495.61 245.91,495.36 246.53,495.11 247.16,494.86 247.78,494.62 248.4,494.37 249.03,494.12 249.66,493.87 250.29,493.61 250.92,493.36 251.55,493.11 252.18,492.85 252.82,492.6 253.45,492.34 254.09,492.09 254.73,491.83 255.37,491.57 256.02,491.31 256.66,491.05 257.31,490.79 257.95,490.53 258.6,490.27 259.25,490.01 259.91,489.75 260.56,489.48 261.21,489.22 261.87,488.95 262.53,488.69 263.19,488.42 263.85,488.15 264.51,487.88 265.18,487.61 265.84,487.34 266.51,487.07 267.18,486.8 267.85,486.53 268.52,486.26 269.2,485.98 269.87,485.71 270.55,485.43 271.23,485.16 271.91,484.88 272.59,484.6 273.27,484.32 273.96,484.04 274.64,483.76 275.33,483.48 276.02,483.2 276.71,482.92 277.4,482.64 278.1,482.35 278.79,482.07 279.49,481.78 280.19,481.5 280.89,481.21 281.59,480.92 282.3,480.64 283,480.35 283.71,480.06 284.42,479.77 285.13,479.47 285.84,479.18 286.55,478.89 287.26,478.6 287.98,478.3 288.7,478.01 289.42,477.71 290.14,477.41 290.86,477.12 291.58,476.82 292.31,476.52 293.04,476.22 293.77,475.92 294.5,475.62 295.23,475.32 295.96,475.01 296.7,474.71 297.43,474.41 298.17,474.1 298.91,473.79 299.65,473.49 300.39,473.18 301.14,472.87 301.88,472.56 302.63,472.25 303.38,471.94 304.13,471.63 304.88,471.32 305.64,471.01 306.39,470.69 307.15,470.38 307.91,470.07 308.67,469.75 309.43,469.43 310.2,469.12 310.96,468.8 311.73,468.48 312.5,468.16 313.27,467.84 314.04,467.52 314.81,467.2 315.58,466.87 316.36,466.55 317.14,466.23 317.92,465.9 318.7,465.58 319.48,465.25 320.27,464.92 321.05,464.6 321.84,464.27 322.63,463.94 323.42,463.61 324.21,463.28 325,462.94 325.8,462.61 326.6,462.28 327.39,461.94 328.19,461.61 329,461.27 329.8,460.94 330.6,460.6 331.41,460.26 332.22,459.92 333.03,459.59 333.84,459.25 334.65,458.9 335.47,458.56 336.28,458.22 337.1,457.88 337.92,457.53 338.74,457.19 339.57,456.84 340.39,456.5 341.22,456.15 342.04,455.8 342.87,455.45 343.7,455.1 344.53,454.76 345.37,454.4 346.2,454.05 347.04,453.7 347.88,453.35 348.72,452.99 349.56,452.64 350.41,452.28 351.25,451.93 352.1,451.57 352.95,451.21 353.8,450.86 354.65,450.5 355.5,450.14 356.36,449.78 357.21,449.41 358.07,449.05 358.93,448.69 359.79,448.33 360.65,447.96 361.52,447.6 362.38,447.23 363.25,446.86 364.12,446.5 364.99,446.13 365.86,445.76 366.74,445.39 367.61,445.02 368.49,444.65 369.37,444.27 370.25,443.9 371.13,443.53 372.02,443.15 372.9,442.78 373.79,442.4 374.68,442.03 375.57,441.65 376.46,441.27 377.36,440.89 378.25,440.51 379.15,440.13 380.05,439.75 380.95,439.37 381.85,438.99 382.75,438.6 383.66,438.22 384.56,437.83 385.47,437.45 386.38,437.06 387.29,436.67 388.21,436.29 389.12,435.9 390.04,435.51 390.95,435.12 391.87,434.73 392.8,434.33 393.72,433.94 394.64,433.55 395.57,433.15 396.5,432.76 397.43,432.36 398.36,431.97 399.29,431.57 400.22,431.17 401.16,430.77 402.1,430.37 403.04,429.97 403.98,429.57 404.92,429.17 405.86,428.77 406.81,428.36 407.76,427.96 408.71,427.56 409.66,427.15 410.61,426.74 411.56,426.34 412.52,425.93 413.48,425.52 414.43,425.11 415.39,424.7 416.36,424.29 417.32,423.88 418.29,423.47 419.25,423.05 420.22,422.64 421.19,422.22 422.16,421.81 423.14,421.39 424.11,420.97 425.09,420.56 426.07,420.14 427.05,419.72 428.03,419.3 429.01,418.88 430,418.46 430.98,418.03 431.97,417.61 432.96,417.19 433.95,416.76 434.95,416.34 435.94,415.91 436.94,415.48 437.94,415.06 438.93,414.63 439.94,414.2 440.94,413.77 441.94,413.34 442.95,412.91 443.96,412.47 444.97,412.04 445.98,411.61 446.99,411.17 448.01,410.74 449.02,410.3 450.04,409.87 451.06,409.43 452.08,408.99 453.1,408.55 454.13,408.11 455.15,407.67 456.18,407.23 457.21,406.79 458.24,406.34 459.27,405.9 460.31,405.46 461.34,405.01 462.38,404.56 463.42,404.12 464.46,403.67 465.5,403.22 466.55,402.77 467.59,402.32 468.64,401.87 469.69,401.42 470.74,400.97 471.79,400.52 472.85,400.06 473.9,399.61 474.96,399.15 476.02,398.7 477.08,398.24 478.14,397.78 479.2,397.33 480.27,396.87 481.34,396.41 482.4,395.95 483.47,395.49 484.55,395.02 485.62,394.56 486.7,394.1 487.77,393.63 488.85,393.17 489.93,392.7 491.01,392.24 492.1,391.77 493.18,391.3 494.27,390.83 495.36,390.36 496.45,389.89 497.54,389.42 498.63,388.95 499.73,388.48 500.82,388 501.92,387.53 503.02,387.05 504.12,386.58 505.23,386.1 506.33,385.63 507.44,385.15 508.55,384.67 509.66,384.19 510.77,383.71 511.88,383.23 513,382.75 514.11,382.26 515.23,381.78 516.35,381.3 517.47,380.81 518.6,380.33 519.72,379.84 520.85,379.35 521.98,378.86 523.11,378.38 524.24,377.89 525.37,377.4 526.51,376.91 527.64,376.41 528.78,375.92 529.92,375.43 531.06,374.93 532.2,374.44 533.35,373.94 534.5,373.45 535.64,372.95 536.79,372.45 537.95,371.96 539.1,371.46 540.25,370.96 541.41,370.46 542.57,369.95 543.73,369.45 544.89,368.95 546.05,368.44 547.22,367.94 548.38,367.43 549.55,366.93 550.72,366.42 551.89,365.91 553.06,365.41 554.24,364.9 555.41,364.39 556.59,363.88 557.77,363.36 558.95,362.85 560.14,362.34 561.32,361.83 562.51,361.31 563.69,360.8 564.88,360.28 566.07,359.76 567.27,359.25 568.46,358.73 569.66,358.21 570.86,357.69 572.05,357.17 573.26,356.65 574.46,356.12 575.66,355.6 576.87,355.08 578.08,354.55 579.29,354.03 580.5,353.5 581.71,352.98 582.92,352.45 584.14,351.92 585.36,351.39 586.58,350.86 587.8,350.33 589.02,349.8 590.25,349.27 591.47,348.73 592.7,348.2 593.93,347.67 595.16,347.13 596.39,346.6 597.63,346.06 598.86,345.52 600.1,344.98 601.34,344.45 602.58,343.91 603.82,343.37 605.07,342.82 606.31,342.28 607.56,341.74 608.81,341.2 610.06,340.65 611.31,340.11 612.57,339.56 613.82,339.01 615.08,338.47 616.34,337.92 617.6,337.37 618.86,336.82 620.13,336.27 621.39,335.72 622.66,335.17 623.93,334.62 625.2,334.06 626.48,333.51 627.75,332.95 629.03,332.4 630.3,331.84 631.58,331.28 632.86,330.73 634.15,330.17 635.43,329.61 636.72,329.05 638,328.49 639.29,327.93 640.58,327.36 641.88,326.8 643.17,326.24 644.47,325.67 645.76,325.11 647.06,324.54 648.36,323.97 649.67,323.4 650.97,322.84 652.28,322.27 653.58,321.7 654.89,321.13 656.21,320.55 657.52,319.98 658.83,319.41 660.15,318.83 661.47,318.26 662.78,317.68 664.11,317.11 665.43,316.53 666.75,315.95 668.08,315.37 669.41,314.8 670.74,314.22 672.07,313.63 673.4,313.05 674.73,312.47 676.07,311.89 677.41,311.3 678.75,310.72 680.09,310.13 681.43,309.55 682.77,308.96 684.12,308.37 685.47,307.79 686.82,307.2 688.17,306.61 689.52,306.02 690.88,305.42 692.23,304.83 693.59,304.24 694.95,303.65 696.31,303.05 697.67,302.46 699.04,301.86 700.4,301.26 701.77,300.67 703.14,300.07 704.51,299.47 705.88,298.87 707.26,298.27 708.63,297.67 710.01,297.06 711.39,296.46 712.77,295.86 714.15,295.25 715.54,294.65 716.93,294.04 718.31,293.44 719.7,292.83 721.09,292.22 722.49,291.61 723.88,291 725.28,290.39 726.67,289.78 728.07,289.17 729.48,288.56 730.88,287.94 732.28,287.33 733.69,286.71 735.1,286.1 736.51,285.48 737.92,284.86 739.33,284.25 740.75,283.63 742.16,283.01 743.58,282.39 745,281.77 746.42,281.14 747.84,280.52 749.27,279.9 750.69,279.27 752.12,278.65 753.55,278.02 754.98,277.4 756.42,276.77 757.85,276.14 759.29,275.51 760.72,274.88 762.16,274.25 763.61,273.62 765.05,272.99 766.49,272.36 767.94,271.72 769.39,271.09 770.84,270.45 772.29,269.82 773.74,269.18 775.2,268.55 776.65,267.91 778.11,267.27 779.57,266.63 781.03,265.99 782.49,265.35 783.96,264.71 785.43,264.06 786.89,263.42 788.36,262.78 789.84,262.13 791.31,261.49 792.78,260.84 794.26,260.19 795.74,259.55 796.3,259.3 797.2,258.91" fill="none" stroke="#ff0000" stroke-width="4.5" stroke-linejoin="round" stroke-dasharray="17 4.25 8.5 4.25"/>
<text transform="translate(113 606.1) scale(1 1.045)" font-size="30" text-anchor="middle" fill="#262626">0</text>
<text transform="translate(249.66 606.1) scale(1 1.045)" font-size="30" text-anchor="middle" fill="#262626">100</text>
<text transform="translate(386.32 606.1) scale(1 1.045)" font-size="30" text-anchor="middle" fill="#262626">200</text>
<text transform="translate(522.98 606.1) scale(1 1.045)" font-size="30" text-anchor="middle" fill="#262626">300</text>
<text transform="translate(659.64 606.1) scale(1 1.045)" font-size="30" text-anchor="middle" fill="#262626">400</text>
<text transform="translate(796.3 606.1) scale(1 1.045)" font-size="30" text-anchor="middle" fill="#262626">500</text>
<text transform="translate(102.2 557.31) scale(1 1.045)" font-size="30" text-anchor="end" fill="#262626">0</text>
<text transform="translate(102.2 456.1) scale(1 1.045)" font-size="30" text-anchor="end" fill="#262626">50</text>
<text transform="translate(102.2 354.88) scale(1 1.045)" font-size="30" text-anchor="end" fill="#262626">100</text>
<text transform="translate(102.2 253.67) scale(1 1.045)" font-size="30" text-anchor="end" fill="#262626">150</text>
<text transform="translate(102.2 152.46) scale(1 1.045)" font-size="30" text-anchor="end" fill="#262626">200</text>
<text transform="translate(102.2 51.25) scale(1 1.045)" font-size="30" text-anchor="end" fill="#262626">250</text>
<text x="454.5" y="649" font-size="32.8" text-anchor="middle" fill="#262626" xml:space="preserve">time (ps)</text>
<text x="23.5" y="303" font-size="32.8" text-anchor="middle" fill="#262626" transform="rotate(-90 23.5 303)" xml:space="preserve"><tspan font-style="italic" font-family='"Liberation Serif", "DejaVu Serif", serif' font-size="32.8">σ</tspan><tspan dy="16.4" dx="3.28" font-size="26.24">r</tspan><tspan dy="-16.4"> (</tspan><tspan dx="0.82" font-style="italic" font-family='"Liberation Serif", "DejaVu Serif", serif' font-size="36.74">μ</tspan><tspan dx="2.79">m)</tspan></text>
<text x="2.2" y="30.4" font-size="32.8" text-anchor="start" fill="#000" font-weight="bold" xml:space="preserve">(a)</text>
<path d="M487.8 410.7H551.4" stroke="#000000" stroke-width="4.5" fill="none"/>
<text x="556" y="415.32" font-size="23.1" text-anchor="start" fill="#000" xml:space="preserve"><tspan font-style="italic" font-family='"Liberation Serif", "DejaVu Serif", serif' font-size="23.56">σ</tspan><tspan dy="11.55" dx="2.08" font-size="18.48">r0</tspan><tspan dy="-11.55" dx="0.23"> = 2</tspan><tspan dx="1.39" font-style="italic" font-family='"Liberation Serif", "DejaVu Serif", serif' font-size="26.57">μ</tspan><tspan dx="0.81">m, simulation</tspan></text>
<path d="M487.8 451.8H551.4" stroke="#00ff00" stroke-width="4.5" fill="none" stroke-dasharray="17 17"/>
<text x="556" y="456.42" font-size="23.1" text-anchor="start" fill="#000" xml:space="preserve"><tspan font-style="italic" font-family='"Liberation Serif", "DejaVu Serif", serif' font-size="23.56">σ</tspan><tspan dy="11.55" dx="2.08" font-size="18.48">r0</tspan><tspan dy="-11.55" dx="0.23"> = 2</tspan><tspan dx="1.39" font-style="italic" font-family='"Liberation Serif", "DejaVu Serif", serif' font-size="26.57">μ</tspan><tspan dx="0.81">m, theory</tspan></text>
<path d="M487.8 492.9H551.4" stroke="#0000ff" stroke-width="4.5" fill="none" stroke-dasharray="4.25 4.25"/>
<text x="556" y="497.52" font-size="23.1" text-anchor="start" fill="#000" xml:space="preserve"><tspan font-style="italic" font-family='"Liberation Serif", "DejaVu Serif", serif' font-size="23.56">σ</tspan><tspan dy="11.55" dx="2.08" font-size="18.48">r0</tspan><tspan dy="-11.55" dx="0.23"> = 5</tspan><tspan dx="1.39" font-style="italic" font-family='"Liberation Serif", "DejaVu Serif", serif' font-size="26.57">μ</tspan><tspan dx="0.81">m, simulation</tspan></text>
<path d="M487.8 533.9H551.4" stroke="#ff0000" stroke-width="4.5" fill="none" stroke-dasharray="17 4.25 8.5 4.25"/>
<text x="556" y="538.52" font-size="23.1" text-anchor="start" fill="#000" xml:space="preserve"><tspan font-style="italic" font-family='"Liberation Serif", "DejaVu Serif", serif' font-size="23.56">σ</tspan><tspan dy="11.55" dx="2.08" font-size="18.48">r0</tspan><tspan dy="-11.55" dx="0.23"> = 5</tspan><tspan dx="1.39" font-style="italic" font-family='"Liberation Serif", "DejaVu Serif", serif' font-size="26.57">μ</tspan><tspan dx="0.81">m, theory</tspan></text>
<rect x="169.6" y="56.3" width="293.2" height="200.1" fill="#fff"/>
<path d="M267.33 256.4v-4.03M267.33 56.3v4.03M365.07 256.4v-4.03M365.07 56.3v4.03M169.6 254.46h4.03M462.8 254.46h-4.03M169.6 215.76h4.03M462.8 215.76h-4.03M169.6 177.06h4.03M462.8 177.06h-4.03M169.6 138.35h4.03M462.8 138.35h-4.03M169.6 99.65h4.03M462.8 99.65h-4.03M169.6 60.94h4.03M462.8 60.94h-4.03" stroke="#262626" stroke-width="2" fill="none"/>
<rect x="169.6" y="56.3" width="293.2" height="200.1" fill="none" stroke="#262626" stroke-width="2"/>
<polyline points="168.6,254.46 169.6,254.46 170.64,254.46 171.69,254.44 172.73,254.41 173.78,254.36 174.82,254.31 175.87,254.24 176.92,254.16 177.97,254.06 179.02,253.96 180.07,253.84 181.12,253.71 182.18,253.56 183.23,253.41 184.29,253.24 185.35,253.06 186.42,252.86 187.49,252.66 188.55,252.44 189.63,252.2 190.7,251.96 191.78,251.7 192.86,251.43 193.95,251.15 195.04,250.86 196.13,250.55 197.23,250.23 198.33,249.9 199.44,249.56 200.55,249.2 201.66,248.83 202.78,248.45 203.91,248.05 205.04,247.65 206.17,247.23 207.31,246.79 208.46,246.35 209.61,245.89 210.77,245.42 211.93,244.94 213.1,244.45 214.27,243.94 215.45,243.42 216.64,242.89 217.83,242.34 219.03,241.78 220.24,241.21 221.45,240.63 222.67,240.04 223.9,239.43 225.13,238.81 226.37,238.18 227.62,237.53 228.87,236.88 230.14,236.21 231.41,235.52 232.69,234.83 233.97,234.12 235.26,233.4 236.57,232.67 237.87,231.92 239.19,231.16 240.52,230.39 241.85,229.61 243.19,228.82 244.54,228.01 245.9,227.19 247.27,226.36 248.65,225.51 250.03,224.65 251.42,223.78 252.83,222.9 254.24,222 255.66,221.1 257.09,220.18 258.52,219.24 259.97,218.3 261.43,217.34 262.89,216.37 264.37,215.39 265.85,214.39 267.35,213.38 268.85,212.36 270.37,211.33 271.89,210.28 273.42,209.22 274.96,208.15 276.52,207.07 278.08,205.97 279.65,204.87 281.23,203.74 282.82,202.61 284.43,201.47 286.04,200.31 287.66,199.14 289.29,197.95 290.93,196.76 292.59,195.55 294.25,194.33 295.92,193.09 297.61,191.85 299.3,190.59 301.01,189.32 302.72,188.03 304.45,186.74 306.19,185.43 307.93,184.11 309.69,182.77 311.46,181.43 313.24,180.07 315.03,178.7 316.83,177.31 318.64,175.92 320.46,174.51 322.3,173.09 324.14,171.65 326,170.21 327.86,168.75 329.74,167.28 331.63,165.79 333.53,164.3 335.44,162.79 337.36,161.26 339.29,159.73 341.24,158.18 343.19,156.62 345.16,155.05 347.14,153.47 349.13,151.87 351.13,150.26 353.14,148.64 355.16,147.01 357.19,145.36 359.24,143.7 361.3,142.03 363.37,140.34 365.45,138.65 367.54,136.94 369.64,135.22 371.76,133.48 373.88,131.73 376.02,129.97 378.17,128.2 380.33,126.42 382.5,124.62 384.69,122.81 386.88,120.99 389.09,119.15 391.31,117.31 393.54,115.45 395.79,113.58 398.04,111.69 400.31,109.79 402.59,107.88 404.88,105.96 407.18,104.03 409.49,102.08 411.82,100.12 414.15,98.15 416.5,96.16 418.87,94.16 421.24,92.15 423.62,90.13 426.02,88.1 428.43,86.05 430.85,83.99 433.28,81.92 435.73,79.83 438.19,77.73 440.66,75.62 443.14,73.5 445.63,71.36 448.13,69.22 450.65,67.06 453.18,64.88 455.72,62.7 458.28,60.5 460.84,58.29 463.2,56.26" fill="none" stroke="#000000" stroke-width="4.5" stroke-linejoin="round"/>
<polyline points="168.6,254.46 169.6,254.46 170.64,254.46 171.69,254.44 172.73,254.41 173.78,254.36 174.82,254.31 175.87,254.24 176.92,254.16 177.97,254.06 179.02,253.96 180.07,253.84 181.12,253.71 182.18,253.56 183.23,253.41 184.29,253.24 185.35,253.06 186.42,252.86 187.49,252.66 188.55,252.44 189.63,252.2 190.7,251.96 191.78,251.7 192.86,251.43 193.95,251.15 195.04,250.86 196.13,250.55 197.23,250.23 198.33,249.9 199.44,249.56 200.55,249.2 201.66,248.83 202.78,248.45 203.91,248.05 205.04,247.65 206.17,247.23 207.31,246.79 208.46,246.35 209.61,245.89 210.77,245.42 211.93,244.94 213.1,244.45 214.27,243.94 215.45,243.42 216.64,242.89 217.83,242.34 219.03,241.78 220.24,241.21 221.45,240.63 222.67,240.04 223.9,239.43 225.13,238.81 226.37,238.18 227.62,237.53 228.87,236.88 230.14,236.21 231.41,235.52 232.69,234.83 233.97,234.12 235.26,233.4 236.57,232.67 237.87,231.92 239.19,231.16 240.52,230.39 241.85,229.61 243.19,228.82 244.54,228.01 245.9,227.19 247.27,226.36 248.65,225.51 250.03,224.65 251.42,223.78 252.83,222.9 254.24,222 255.66,221.1 257.09,220.18 258.52,219.24 259.97,218.3 261.43,217.34 262.89,216.37 264.37,215.39 265.85,214.39 267.35,213.38 268.85,212.36 270.37,211.33 271.89,210.28 273.42,209.22 274.96,208.15 276.52,207.07 278.08,205.97 279.65,204.87 281.23,203.74 282.82,202.61 284.43,201.47 286.04,200.31 287.66,199.14 289.29,197.95 290.93,196.76 292.59,195.55 294.25,194.33 295.92,193.09 297.61,191.85 299.3,190.59 301.01,189.32 302.72,188.03 304.45,186.74 306.19,185.43 307.93,184.11 309.69,182.77 311.46,181.43 313.24,180.07 315.03,178.7 316.83,177.31 318.64,175.92 320.46,174.51 322.3,173.09 324.14,171.65 326,170.21 327.86,168.75 329.74,167.28 331.63,165.79 333.53,164.3 335.44,162.79 337.36,161.26 339.29,159.73 341.24,158.18 343.19,156.62 345.16,155.05 347.14,153.47 349.13,151.87 351.13,150.26 353.14,148.64 355.16,147.01 357.19,145.36 359.24,143.7 361.3,142.03 363.37,140.34 365.45,138.65 367.54,136.94 369.64,135.22 371.76,133.48 373.88,131.73 376.02,129.97 378.17,128.2 380.33,126.42 382.5,124.62 384.69,122.81 386.88,120.99 389.09,119.15 391.31,117.31 393.54,115.45 395.79,113.58 398.04,111.69 400.31,109.79 402.59,107.88 404.88,105.96 407.18,104.03 409.49,102.08 411.82,100.12 414.15,98.15 416.5,96.16 418.87,94.16 421.24,92.15 423.62,90.13 426.02,88.1 428.43,86.05 430.85,83.99 433.28,81.92 435.73,79.83 438.19,77.73 440.66,75.62 443.14,73.5 445.63,71.36 448.13,69.22 450.65,67.06 453.18,64.88 455.72,62.7 458.28,60.5 460.84,58.29 463.2,56.26" fill="none" stroke="#00ff00" stroke-width="4.5" stroke-linejoin="round" stroke-dasharray="17 17"/>
<polyline points="168.6,196.41 169.6,196.41 171.59,196.41 173.58,196.39 175.57,196.38 177.56,196.35 179.55,196.32 181.54,196.28 183.54,196.23 185.53,196.18 187.52,196.11 189.51,196.04 191.51,195.97 193.5,195.88 195.5,195.79 197.5,195.7 199.49,195.59 201.49,195.48 203.49,195.36 205.49,195.23 207.5,195.09 209.5,194.95 211.51,194.8 213.51,194.65 215.52,194.48 217.53,194.31 219.55,194.13 221.56,193.95 223.58,193.75 225.6,193.55 227.62,193.35 229.64,193.13 231.66,192.91 233.69,192.68 235.72,192.44 237.75,192.2 239.79,191.95 241.82,191.69 243.86,191.42 245.9,191.15 247.95,190.87 250,190.58 252.05,190.29 254.1,189.99 256.16,189.68 258.22,189.36 260.28,189.04 262.35,188.7 264.42,188.37 266.49,188.02 268.56,187.67 270.64,187.31 272.73,186.94 274.81,186.56 276.91,186.18 279,185.79 281.1,185.4 283.2,184.99 285.31,184.58 287.42,184.16 289.53,183.74 291.65,183.3 293.77,182.86 295.9,182.41 298.03,181.96 300.17,181.5 302.31,181.03 304.45,180.55 306.6,180.07 308.76,179.57 310.91,179.08 313.08,178.57 315.25,178.06 317.42,177.54 319.6,177.01 321.78,176.47 323.97,175.93 326.16,175.38 328.36,174.82 330.56,174.26 332.77,173.69 334.99,173.11 337.21,172.52 339.43,171.93 341.66,171.33 343.9,170.72 346.14,170.1 348.39,169.48 350.64,168.85 352.9,168.22 355.16,167.57 357.43,166.92 359.71,166.26 361.99,165.59 364.28,164.92 366.57,164.24 368.87,163.55 371.18,162.86 373.49,162.15 375.81,161.44 378.14,160.73 380.47,160 382.8,159.27 385.15,158.53 387.5,157.78 389.86,157.03 392.22,156.27 394.59,155.5 396.97,154.73 399.35,153.94 401.74,153.15 404.14,152.36 406.54,151.55 408.96,150.74 411.37,149.92 413.8,149.09 416.23,148.26 418.67,147.42 421.12,146.57 423.57,145.72 426.03,144.85 428.5,143.98 430.97,143.11 433.45,142.22 435.94,141.33 438.44,140.43 440.94,139.52 443.45,138.61 445.97,137.69 448.5,136.76 451.03,135.82 453.58,134.88 456.13,133.93 458.68,132.97 461.25,132.01 463.2,131.27" fill="none" stroke="#0000ff" stroke-width="4.5" stroke-linejoin="round" stroke-dasharray="4.25 4.25"/>
<polyline points="168.6,196.41 169.6,196.41 171.59,196.41 173.58,196.39 175.57,196.38 177.56,196.35 179.55,196.32 181.54,196.28 183.54,196.23 185.53,196.18 187.52,196.11 189.51,196.04 191.51,195.97 193.5,195.88 195.5,195.79 197.5,195.7 199.49,195.59 201.49,195.48 203.49,195.36 205.49,195.23 207.5,195.09 209.5,194.95 211.51,194.8 213.51,194.65 215.52,194.48 217.53,194.31 219.55,194.13 221.56,193.95 223.58,193.75 225.6,193.55 227.62,193.35 229.64,193.13 231.66,192.91 233.69,192.68 235.72,192.44 237.75,192.2 239.79,191.95 241.82,191.69 243.86,191.42 245.9,191.15 247.95,190.87 250,190.58 252.05,190.29 254.1,189.99 256.16,189.68 258.22,189.36 260.28,189.04 262.35,188.7 264.42,188.37 266.49,188.02 268.56,187.67 270.64,187.31 272.73,186.94 274.81,186.56 276.91,186.18 279,185.79 281.1,185.4 283.2,184.99 285.31,184.58 287.42,184.16 289.53,183.74 291.65,183.3 293.77,182.86 295.9,182.41 298.03,181.96 300.17,181.5 302.31,181.03 304.45,180.55 306.6,180.07 308.76,179.57 310.91,179.08 313.08,178.57 315.25,178.06 317.42,177.54 319.6,177.01 321.78,176.47 323.97,175.93 326.16,175.38 328.36,174.82 330.56,174.26 332.77,173.69 334.99,173.11 337.21,172.52 339.43,171.93 341.66,171.33 343.9,170.72 346.14,170.1 348.39,169.48 350.64,168.85 352.9,168.22 355.16,167.57 357.43,166.92 359.71,166.26 361.99,165.59 364.28,164.92 366.57,164.24 368.87,163.55 371.18,162.86 373.49,162.15 375.81,161.44 378.14,160.73 380.47,160 382.8,159.27 385.15,158.53 387.5,157.78 389.86,157.03 392.22,156.27 394.59,155.5 396.97,154.73 399.35,153.94 401.74,153.15 404.14,152.36 406.54,151.55 408.96,150.74 411.37,149.92 413.8,149.09 416.23,148.26 418.67,147.42 421.12,146.57 423.57,145.72 426.03,144.85 428.5,143.98 430.97,143.11 433.45,142.22 435.94,141.33 438.44,140.43 440.94,139.52 443.45,138.61 445.97,137.69 448.5,136.76 451.03,135.82 453.58,134.88 456.13,133.93 458.68,132.97 461.25,132.01 463.2,131.27" fill="none" stroke="#ff0000" stroke-width="4.5" stroke-linejoin="round" stroke-dasharray="17 4.25 8.5 4.25"/>
<text transform="translate(169.6 291.3) scale(1 1.045)" font-size="24.3" text-anchor="middle" fill="#262626">0</text>
<text transform="translate(267.33 291.3) scale(1 1.045)" font-size="24.3" text-anchor="middle" fill="#262626">10</text>
<text transform="translate(365.07 291.3) scale(1 1.045)" font-size="24.3" text-anchor="middle" fill="#262626">20</text>
<text transform="translate(462.8 291.3) scale(1 1.045)" font-size="24.3" text-anchor="middle" fill="#262626">30</text>
<text transform="translate(159.2 264.06) scale(1 1.045)" font-size="24.3" text-anchor="end" fill="#262626">2</text>
<text transform="translate(159.2 225.36) scale(1 1.045)" font-size="24.3" text-anchor="end" fill="#262626">4</text>
<text transform="translate(159.2 186.66) scale(1 1.045)" font-size="24.3" text-anchor="end" fill="#262626">6</text>
<text transform="translate(159.2 147.95) scale(1 1.045)" font-size="24.3" text-anchor="end" fill="#262626">8</text>
<text transform="translate(159.2 109.25) scale(1 1.045)" font-size="24.3" text-anchor="end" fill="#262626">10</text>
<text transform="translate(159.2 70.54) scale(1 1.045)" font-size="24.3" text-anchor="end" fill="#262626">12</text>
<path d="M1016.51 556.5v-8.5M1016.51 39.4v8.5M1113.65 556.5v-8.5M1113.65 39.4v8.5M1210.8 556.5v-8.5M1210.8 39.4v8.5M1307.94 556.5v-8.5M1307.94 39.4v8.5M1405.08 556.5v-8.5M1405.08 39.4v8.5M1502.22 556.5v-8.5M1502.22 39.4v8.5M1599.36 556.5v-8.5M1599.36 39.4v8.5M1006.8 497.59h8.5M1696.5 497.59h-8.5M1006.8 432.13h8.5M1696.5 432.13h-8.5M1006.8 366.68h8.5M1696.5 366.68h-8.5M1006.8 301.22h8.5M1696.5 301.22h-8.5M1006.8 235.77h8.5M1696.5 235.77h-8.5M1006.8 170.31h8.5M1696.5 170.31h-8.5M1006.8 104.86h8.5M1696.5 104.86h-8.5" stroke="#262626" stroke-width="3" fill="none"/>
<rect x="1006.8" y="39.4" width="689.7" height="517.1" fill="none" stroke="#262626" stroke-width="3"/>
<polyline points="1680.96,57.19 1675.66,57.77 1670.39,58.36 1665.15,58.95 1659.95,59.54 1654.78,60.13 1649.63,60.72 1644.52,61.31 1639.44,61.9 1634.39,62.49 1629.38,63.08 1624.39,63.67 1619.43,64.26 1614.5,64.85 1609.61,65.45 1604.74,66.04 1599.9,66.63 1595.1,67.23 1590.32,67.82 1585.57,68.41 1580.86,69.01 1576.17,69.61 1571.51,70.2 1566.88,70.8 1562.28,71.39 1557.71,71.99 1553.16,72.59 1548.65,73.19 1544.16,73.79 1539.71,74.38 1535.28,74.98 1530.88,75.58 1526.5,76.18 1522.16,76.78 1517.84,77.38 1513.55,77.99 1509.29,78.59 1505.06,79.19 1500.85,79.79 1496.67,80.4 1492.52,81 1488.39,81.6 1484.29,82.21 1480.22,82.81 1476.17,83.42 1472.16,84.02 1468.16,84.63 1464.2,85.24 1460.26,85.84 1456.34,86.45 1452.46,87.06 1448.59,87.67 1444.76,88.28 1440.95,88.89 1437.16,89.5 1433.4,90.11 1429.67,90.72 1425.96,91.33 1422.27,91.94 1418.61,92.55 1414.98,93.16 1411.37,93.78 1407.78,94.39 1404.22,95 1400.68,95.62 1397.17,96.23 1393.68,96.85 1390.22,97.46 1386.78,98.08 1383.36,98.7 1379.97,99.31 1376.6,99.93 1373.26,100.55 1369.93,101.17 1366.63,101.79 1363.36,102.41 1360.1,103.03 1356.87,103.65 1353.67,104.27 1350.48,104.89 1347.32,105.51 1344.18,106.14 1341.07,106.76 1337.97,107.38 1334.9,108.01 1331.85,108.63 1328.82,109.26 1325.81,109.88 1322.83,110.51 1319.86,111.13 1316.92,111.76 1314,112.39 1311.1,113.02 1308.23,113.65 1305.37,114.28 1302.54,114.91 1299.72,115.54 1296.93,116.17 1294.15,116.8 1291.4,117.43 1288.67,118.06 1285.96,118.69 1283.27,119.33 1280.6,119.96 1277.95,120.6 1275.32,121.23 1272.7,121.87 1270.11,122.5 1267.54,123.14 1264.99,123.78 1262.46,124.41 1259.95,125.05 1257.45,125.69 1254.98,126.33 1252.52,126.97 1250.09,127.61 1247.67,128.25 1245.27,128.89 1242.89,129.53 1240.53,130.18 1238.19,130.82 1235.86,131.46 1233.56,132.11 1231.27,132.75 1229,133.4 1226.75,134.04 1224.51,134.69 1222.3,135.34 1220.1,135.99 1217.92,136.63 1215.76,137.28 1213.61,137.93 1211.48,138.58 1209.37,139.23 1207.28,139.88 1205.2,140.54 1203.14,141.19 1201.1,141.84 1199.08,142.5 1197.07,143.15 1195.08,143.81 1193.1,144.46 1191.14,145.12 1189.2,145.77 1187.27,146.43 1185.36,147.09 1183.47,147.75 1181.59,148.41 1179.72,149.07 1177.88,149.73 1176.05,150.39 1174.23,151.05 1172.43,151.71 1170.65,152.37 1168.88,153.04 1167.12,153.7 1165.39,154.37 1163.66,155.03 1161.95,155.7 1160.26,156.37 1158.58,157.03 1156.92,157.7 1155.27,158.37 1153.63,159.04 1152.01,159.71 1150.41,160.38 1148.82,161.05 1147.24,161.72 1145.67,162.4 1144.13,163.07 1142.59,163.74 1141.07,164.42 1139.56,165.09 1138.07,165.77 1136.59,166.45 1135.12,167.12 1133.67,167.8 1132.23,168.48 1130.8,169.16 1129.39,169.84 1127.99,170.52 1126.6,171.2 1125.23,171.89 1123.87,172.57 1122.52,173.25 1121.18,173.94 1119.86,174.62 1118.55,175.31 1117.25,176 1115.97,176.68 1114.69,177.37 1113.43,178.06 1112.19,178.75 1110.95,179.44 1109.72,180.13 1108.51,180.82 1107.31,181.52 1106.12,182.21 1104.95,182.91 1103.78,183.6 1102.63,184.3 1101.48,184.99 1100.35,185.69 1099.23,186.39 1098.12,187.09 1097.03,187.79 1095.94,188.49 1094.87,189.19 1093.8,189.89 1092.75,190.59 1091.71,191.3 1090.67,192 1089.65,192.71 1088.64,193.41 1087.64,194.12 1086.65,194.83 1085.67,195.54 1084.7,196.25 1083.75,196.96 1082.8,197.67 1081.86,198.38 1080.93,199.09 1080.01,199.81 1079.1,200.52 1078.2,201.24 1077.31,201.95 1076.44,202.67 1075.57,203.39 1074.7,204.11 1073.85,204.83 1073.01,205.55 1072.18,206.27 1071.36,206.99 1070.54,207.71 1069.74,208.44 1068.94,209.16 1068.15,209.89 1067.38,210.62 1066.61,211.34 1065.85,212.07 1065.1,212.8 1064.35,213.53 1063.62,214.27 1062.89,215 1062.17,215.73 1061.47,216.47 1060.76,217.2 1060.07,217.94 1059.39,218.68 1058.71,219.41 1058.04,220.15 1057.38,220.89 1056.73,221.63 1056.08,222.38 1055.45,223.12 1054.82,223.86 1054.2,224.61 1053.58,225.36 1052.98,226.1 1052.38,226.85 1051.79,227.6 1051.2,228.35 1050.62,229.1 1050.05,229.86 1049.49,230.61 1048.94,231.36 1048.39,232.12 1047.85,232.88 1047.31,233.64 1046.79,234.39 1046.26,235.15 1045.75,235.92 1045.24,236.68 1044.74,237.44 1044.25,238.21 1043.76,238.97 1043.28,239.74 1042.8,240.51 1042.34,241.28 1041.87,242.05 1041.42,242.82 1040.97,243.59 1040.52,244.36 1040.09,245.14 1039.66,245.91 1039.23,246.69 1038.81,247.47 1038.4,248.25 1037.99,249.03 1037.59,249.81 1037.19,250.6 1036.8,251.38 1036.41,252.17 1036.03,252.96 1035.66,253.74 1035.29,254.53 1034.93,255.32 1034.57,256.12 1034.21,256.91 1033.87,257.71 1033.52,258.5 1033.19,259.3 1032.85,260.1 1032.53,260.9 1032.2,261.7 1031.89,262.5 1031.57,263.31 1031.26,264.11 1030.96,264.92 1030.66,265.73 1030.37,266.54 1030.08,267.35 1029.79,268.16 1029.51,268.98 1029.24,269.79 1028.97,270.61 1028.7,271.43 1028.44,272.25 1028.18,273.07 1027.92,273.89 1027.67,274.72 1027.43,275.55 1027.19,276.37 1026.95,277.2 1026.71,278.03 1026.48,278.87 1026.26,279.7 1026.04,280.54 1025.82,281.37 1025.6,282.21 1025.39,283.05 1025.19,283.89 1024.98,284.74 1024.78,285.58 1024.59,286.43 1024.39,287.28 1024.2,288.13 1024.02,288.98 1023.84,289.84 1023.66,290.69 1023.48,291.55 1023.31,292.41 1023.14,293.27 1022.97,294.13 1022.81,295 1022.65,295.87 1022.49,296.73 1022.34,297.6 1022.19,298.48 1022.04,299.35 1021.9,300.23 1021.75,301.11 1021.61,301.99 1021.48,302.87 1021.34,303.75 1021.21,304.64 1021.09,305.53 1020.96,306.42 1020.84,307.31 1020.72,308.2 1020.6,309.1 1020.48,310 1020.37,310.9 1020.26,311.8 1020.15,312.71 1020.05,313.61 1019.94,314.52 1019.84,315.44 1019.74,316.35 1019.64,317.27 1019.55,318.19 1019.46,319.11 1019.37,320.03 1019.28,320.96 1019.19,321.88 1019.11,322.82 1019.03,323.75 1018.95,324.68 1018.87,325.62 1018.79,326.56 1018.72,327.51 1018.65,328.45 1018.58,329.4 1018.51,330.35 1018.44,331.31 1018.37,332.27 1018.31,333.23 1018.25,334.19 1018.19,335.15 1018.13,336.12 1018.07,337.09 1018.01,338.07 1017.96,339.04 1017.91,340.02 1017.86,341.01 1017.81,341.99 1017.76,342.98 1017.71,343.98 1017.66,344.97 1017.62,345.97 1017.58,346.97 1017.54,347.98 1017.49,348.99 1017.46,350 1017.42,351.02 1017.38,352.04 1017.34,353.06 1017.31,354.09 1017.28,355.12 1017.24,356.15 1017.21,357.19 1017.18,358.23 1017.15,359.28 1017.12,360.33 1017.1,361.38 1017.07,362.44 1017.04,363.5 1017.02,364.57 1016.99,365.64 1016.97,366.71 1016.95,367.79 1016.93,368.88 1016.91,369.97 1016.89,371.06 1016.87,372.16 1016.85,373.26 1016.83,374.37 1016.82,375.48 1016.8,376.6 1016.78,377.72 1016.77,378.85 1016.76,379.98 1016.74,381.12 1016.73,382.27 1016.72,383.42 1016.7,384.57 1016.69,385.73 1016.68,386.9 1016.67,388.08 1016.66,389.26 1016.65,390.44 1016.64,391.64 1016.63,392.84 1016.63,394.05 1016.62,395.26 1016.61,396.48 1016.6,397.71 1016.6,398.95 1016.59,400.19 1016.59,401.45 1016.58,402.71 1016.58,403.98 1016.57,405.25 1016.57,406.54 1016.56,407.84 1016.56,409.14 1016.55,410.46 1016.55,411.78 1016.55,413.12 1016.54,414.47 1016.54,415.82 1016.54,417.19 1016.54,418.57 1016.53,419.96 1016.53,421.37 1016.53,422.79 1016.53,424.22 1016.53,425.66 1016.53,427.12 1016.52,428.6 1016.52,430.09 1016.52,431.6 1016.52,433.13 1016.52,434.67 1016.52,436.23 1016.52,437.82 1016.52,439.42 1016.52,441.05 1016.52,442.7 1016.52,444.37 1016.52,446.08 1016.52,447.81 1016.52,449.57 1016.51,451.36 1016.51,453.19 1016.51,455.06 1016.51,456.97 1016.51,458.93 1016.51,460.93 1016.51,462.99 1016.51,465.11 1016.51,467.3 1016.51,469.56 1016.51,471.91 1016.51,474.34 1016.51,476.84 1016.51,479.37 1016.51,481.68 1016.51,483.27 1016.51,483.81 1016.51,483.85" fill="none" stroke="#0000ff" stroke-width="4.5" stroke-linejoin="round"/>
<polyline points="1680.96,148.04 1675.66,148.51 1670.39,148.97 1665.15,149.44 1659.95,149.91 1654.78,150.38 1649.63,150.84 1644.52,151.31 1639.44,151.78 1634.39,152.25 1629.38,152.72 1624.39,153.19 1619.43,153.66 1614.5,154.13 1609.61,154.6 1604.74,155.07 1599.9,155.54 1595.1,156.01 1590.32,156.48 1585.57,156.95 1580.86,157.43 1576.17,157.9 1571.51,158.37 1566.88,158.84 1562.28,159.32 1557.71,159.79 1553.16,160.27 1548.65,160.74 1544.16,161.22 1539.71,161.69 1535.28,162.17 1530.88,162.64 1526.5,163.12 1522.16,163.6 1517.84,164.07 1513.55,164.55 1509.29,165.03 1505.06,165.51 1500.85,165.98 1496.67,166.46 1492.52,166.94 1488.39,167.42 1484.29,167.9 1480.22,168.38 1476.17,168.86 1472.16,169.34 1468.16,169.82 1464.2,170.3 1460.26,170.79 1456.34,171.27 1452.46,171.75 1448.59,172.23 1444.76,172.72 1440.95,173.2 1437.16,173.68 1433.4,174.17 1429.67,174.65 1425.96,175.14 1422.27,175.62 1418.61,176.11 1414.98,176.6 1411.37,177.08 1407.78,177.57 1404.22,178.06 1400.68,178.54 1397.17,179.03 1393.68,179.52 1390.22,180.01 1386.78,180.5 1383.36,180.99 1379.97,181.48 1376.6,181.97 1373.26,182.46 1369.93,182.95 1366.63,183.44 1363.36,183.93 1360.1,184.43 1356.87,184.92 1353.67,185.41 1350.48,185.91 1347.32,186.4 1344.18,186.89 1341.07,187.39 1337.97,187.88 1334.9,188.38 1331.85,188.87 1328.82,189.37 1325.81,189.87 1322.83,190.36 1319.86,190.86 1316.92,191.36 1314,191.86 1311.1,192.35 1308.23,192.85 1305.37,193.35 1302.54,193.85 1299.72,194.35 1296.93,194.85 1294.15,195.35 1291.4,195.86 1288.67,196.36 1285.96,196.86 1283.27,197.36 1280.6,197.87 1277.95,198.37 1275.32,198.87 1272.7,199.38 1270.11,199.88 1267.54,200.39 1264.99,200.89 1262.46,201.4 1259.95,201.91 1257.45,202.41 1254.98,202.92 1252.52,203.43 1250.09,203.94 1247.67,204.45 1245.27,204.95 1242.89,205.46 1240.53,205.97 1238.19,206.48 1235.86,207 1233.56,207.51 1231.27,208.02 1229,208.53 1226.75,209.04 1224.51,209.56 1222.3,210.07 1220.1,210.58 1217.92,211.1 1215.76,211.61 1213.61,212.13 1211.48,212.65 1209.37,213.16 1207.28,213.68 1205.2,214.2 1203.14,214.71 1201.1,215.23 1199.08,215.75 1197.07,216.27 1195.08,216.79 1193.1,217.31 1191.14,217.83 1189.2,218.35 1187.27,218.87 1185.36,219.4 1183.47,219.92 1181.59,220.44 1179.72,220.97 1177.88,221.49 1176.05,222.01 1174.23,222.54 1172.43,223.07 1170.65,223.59 1168.88,224.12 1167.12,224.65 1165.39,225.17 1163.66,225.7 1161.95,226.23 1160.26,226.76 1158.58,227.29 1156.92,227.82 1155.27,228.35 1153.63,228.88 1152.01,229.41 1150.41,229.95 1148.82,230.48 1147.24,231.01 1145.67,231.55 1144.13,232.08 1142.59,232.62 1141.07,233.15 1139.56,233.69 1138.07,234.22 1136.59,234.76 1135.12,235.3 1133.67,235.84 1132.23,236.38 1130.8,236.92 1129.39,237.46 1127.99,238 1126.6,238.54 1125.23,239.08 1123.87,239.62 1122.52,240.16 1121.18,240.71 1119.86,241.25 1118.55,241.8 1117.25,242.34 1115.97,242.89 1114.69,243.43 1113.43,243.98 1112.19,244.53 1110.95,245.08 1109.72,245.62 1108.51,246.17 1107.31,246.72 1106.12,247.27 1104.95,247.82 1103.78,248.38 1102.63,248.93 1101.48,249.48 1100.35,250.03 1099.23,250.59 1098.12,251.14 1097.03,251.7 1095.94,252.26 1094.87,252.81 1093.8,253.37 1092.75,253.93 1091.71,254.49 1090.67,255.04 1089.65,255.6 1088.64,256.16 1087.64,256.73 1086.65,257.29 1085.67,257.85 1084.7,258.41 1083.75,258.98 1082.8,259.54 1081.86,260.11 1080.93,260.67 1080.01,261.24 1079.1,261.81 1078.2,262.37 1077.31,262.94 1076.44,263.51 1075.57,264.08 1074.7,264.65 1073.85,265.22 1073.01,265.8 1072.18,266.37 1071.36,266.94 1070.54,267.52 1069.74,268.09 1068.94,268.67 1068.15,269.24 1067.38,269.82 1066.61,270.4 1065.85,270.98 1065.1,271.55 1064.35,272.13 1063.62,272.72 1062.89,273.3 1062.17,273.88 1061.47,274.46 1060.76,275.05 1060.07,275.63 1059.39,276.22 1058.71,276.8 1058.04,277.39 1057.38,277.98 1056.73,278.56 1056.08,279.15 1055.45,279.74 1054.82,280.33 1054.2,280.93 1053.58,281.52 1052.98,282.11 1052.38,282.71 1051.79,283.3 1051.2,283.9 1050.62,284.49 1050.05,285.09 1049.49,285.69 1048.94,286.29 1048.39,286.89 1047.85,287.49 1047.31,288.09 1046.79,288.69 1046.26,289.29 1045.75,289.9 1045.24,290.5 1044.74,291.11 1044.25,291.72 1043.76,292.32 1043.28,292.93 1042.8,293.54 1042.34,294.15 1041.87,294.76 1041.42,295.38 1040.97,295.99 1040.52,296.6 1040.09,297.22 1039.66,297.84 1039.23,298.45 1038.81,299.07 1038.4,299.69 1037.99,300.31 1037.59,300.93 1037.19,301.55 1036.8,302.17 1036.41,302.8 1036.03,303.42 1035.66,304.05 1035.29,304.68 1034.93,305.3 1034.57,305.93 1034.21,306.56 1033.87,307.19 1033.52,307.83 1033.19,308.46 1032.85,309.09 1032.53,309.73 1032.2,310.36 1031.89,311 1031.57,311.64 1031.26,312.28 1030.96,312.92 1030.66,313.56 1030.37,314.21 1030.08,314.85 1029.79,315.49 1029.51,316.14 1029.24,316.79 1028.97,317.44 1028.7,318.09 1028.44,318.74 1028.18,319.39 1027.92,320.04 1027.67,320.7 1027.43,321.35 1027.19,322.01 1026.95,322.67 1026.71,323.33 1026.48,323.99 1026.26,324.65 1026.04,325.31 1025.82,325.98 1025.6,326.64 1025.39,327.31 1025.19,327.98 1024.98,328.65 1024.78,329.32 1024.59,329.99 1024.39,330.67 1024.2,331.34 1024.02,332.02 1023.84,332.7 1023.66,333.38 1023.48,334.06 1023.31,334.74 1023.14,335.42 1022.97,336.11 1022.81,336.79 1022.65,337.48 1022.49,338.17 1022.34,338.86 1022.19,339.55 1022.04,340.25 1021.9,340.94 1021.75,341.64 1021.61,342.34 1021.48,343.04 1021.34,343.74 1021.21,344.44 1021.09,345.15 1020.96,345.86 1020.84,346.56 1020.72,347.27 1020.6,347.98 1020.48,348.7 1020.37,349.41 1020.26,350.13 1020.15,350.85 1020.05,351.57 1019.94,352.29 1019.84,353.01 1019.74,353.74 1019.64,354.47 1019.55,355.2 1019.46,355.93 1019.37,356.66 1019.28,357.4 1019.19,358.13 1019.11,358.87 1019.03,359.61 1018.95,360.36 1018.87,361.1 1018.79,361.85 1018.72,362.6 1018.65,363.35 1018.58,364.1 1018.51,364.86 1018.44,365.61 1018.37,366.37 1018.31,367.13 1018.25,367.9 1018.19,368.66 1018.13,369.43" fill="none" stroke="#ff0000" stroke-width="4.5" stroke-linejoin="round" stroke-dasharray="17 4.25 8.5 4.25"/>
<polyline points="1018.13,369.43 1018.07,370.2 1018.01,370.98 1017.96,371.75 1017.91,372.53 1017.86,373.31 1017.81,374.09 1017.76,374.88 1017.71,375.67 1017.66,376.46 1017.62,377.25 1017.58,378.05 1017.54,378.84 1017.49,379.65 1017.46,380.45 1017.42,381.26 1017.38,382.06 1017.34,382.88 1017.31,383.69 1017.28,384.51 1017.24,385.33 1017.21,386.15 1017.18,386.98 1017.15,387.81 1017.12,388.64 1017.1,389.48 1017.07,390.32 1017.04,391.16 1017.02,392.01 1016.99,392.86 1016.97,393.71 1016.95,394.57 1016.93,395.43 1016.91,396.29 1016.89,397.16 1016.87,398.03 1016.85,398.91 1016.83,399.79 1016.82,400.67 1016.8,401.56 1016.78,402.45 1016.77,403.34 1016.76,404.24 1016.74,405.15 1016.73,406.06 1016.72,406.97 1016.7,407.89 1016.69,408.81 1016.68,409.74 1016.67,410.67 1016.66,411.61 1016.65,412.55 1016.64,413.5 1016.63,414.45 1016.63,415.41 1016.62,416.37 1016.61,417.34 1016.6,418.32 1016.6,419.3 1016.59,420.29 1016.59,421.28 1016.58,422.28 1016.58,423.29 1016.57,424.3 1016.57,425.33 1016.56,426.35 1016.56,427.39 1016.55,428.43 1016.55,429.49 1016.55,430.55 1016.54,431.61 1016.54,432.69 1016.54,433.78 1016.54,434.87 1016.53,435.98 1016.53,437.09 1016.53,438.22 1016.53,439.36 1016.53,440.5 1016.53,441.66 1016.52,442.83 1016.52,444.02 1016.52,445.21 1016.52,446.43 1016.52,447.65 1016.52,448.89 1016.52,450.15 1016.52,451.42 1016.52,452.71 1016.52,454.02 1016.52,455.35 1016.52,456.71 1016.52,458.08 1016.52,459.48 1016.51,460.9 1016.51,462.35 1016.51,463.84 1016.51,465.35 1016.51,466.91 1016.51,468.5 1016.51,470.14 1016.51,471.82 1016.51,473.56 1016.51,475.37 1016.51,477.24 1016.51,479.2 1016.51,481.24 1016.51,483.36 1016.51,485.45 1016.51,487.13 1016.51,487.82 1016.51,487.87" fill="none" stroke="#ff0000" stroke-width="4.5" stroke-linejoin="round"/>
<polyline points="1680.96,220.15 1675.66,220.52 1670.39,220.89 1665.15,221.26 1659.95,221.63 1654.78,222.01 1649.63,222.38 1644.52,222.75 1639.44,223.12 1634.39,223.49 1629.38,223.86 1624.39,224.24 1619.43,224.61 1614.5,224.98 1609.61,225.36 1604.74,225.73 1599.9,226.1 1595.1,226.48 1590.32,226.85 1585.57,227.23 1580.86,227.6 1576.17,227.98 1571.51,228.35 1566.88,228.73 1562.28,229.1 1557.71,229.48 1553.16,229.86 1548.65,230.23 1544.16,230.61 1539.71,230.99 1535.28,231.36 1530.88,231.74 1526.5,232.12 1522.16,232.5 1517.84,232.88 1513.55,233.26 1509.29,233.64 1505.06,234.01 1500.85,234.39 1496.67,234.77 1492.52,235.15 1488.39,235.53 1484.29,235.92 1480.22,236.3 1476.17,236.68 1472.16,237.06 1468.16,237.44 1464.2,237.82 1460.26,238.21 1456.34,238.59 1452.46,238.97 1448.59,239.35 1444.76,239.74 1440.95,240.12 1437.16,240.51 1433.4,240.89 1429.67,241.28 1425.96,241.66 1422.27,242.05 1418.61,242.43 1414.98,242.82 1411.37,243.2 1407.78,243.59 1404.22,243.98 1400.68,244.36 1397.17,244.75 1393.68,245.14 1390.22,245.53 1386.78,245.91 1383.36,246.3 1379.97,246.69 1376.6,247.08 1373.26,247.47 1369.93,247.86 1366.63,248.25 1363.36,248.64 1360.1,249.03 1356.87,249.42 1353.67,249.81 1350.48,250.21 1347.32,250.6 1344.18,250.99 1341.07,251.38 1337.97,251.77 1334.9,252.17 1331.85,252.56 1328.82,252.96 1325.81,253.35 1322.83,253.74 1319.86,254.14 1316.92,254.53 1314,254.93 1311.1,255.32 1308.23,255.72 1305.37,256.12 1302.54,256.51 1299.72,256.91 1296.93,257.31 1294.15,257.71 1291.4,258.1 1288.67,258.5 1285.96,258.9 1283.27,259.3 1280.6,259.7 1277.95,260.1 1275.32,260.5 1272.7,260.9 1270.11,261.3 1267.54,261.7 1264.99,262.1 1262.46,262.5 1259.95,262.91 1257.45,263.31 1254.98,263.71 1252.52,264.11 1250.09,264.52 1247.67,264.92 1245.27,265.33 1242.89,265.73 1240.53,266.13 1238.19,266.54 1235.86,266.95 1233.56,267.35 1231.27,267.76 1229,268.16 1226.75,268.57 1224.51,268.98 1222.3,269.39 1220.1,269.79 1217.92,270.2 1215.76,270.61 1213.61,271.02 1211.48,271.43 1209.37,271.84 1207.28,272.25 1205.2,272.66 1203.14,273.07 1201.1,273.48 1199.08,273.89 1197.07,274.31 1195.08,274.72 1193.1,275.13 1191.14,275.55 1189.2,275.96 1187.27,276.37 1185.36,276.79 1183.47,277.2 1181.59,277.62 1179.72,278.03 1177.88,278.45 1176.05,278.87 1174.23,279.28 1172.43,279.7 1170.65,280.12 1168.88,280.54 1167.12,280.95 1165.39,281.37 1163.66,281.79 1161.95,282.21 1160.26,282.63 1158.58,283.05 1156.92,283.47 1155.27,283.89 1153.63,284.32 1152.01,284.74 1150.41,285.16 1148.82,285.58 1147.24,286.01 1145.67,286.43 1144.13,286.86 1142.59,287.28 1141.07,287.7 1139.56,288.13 1138.07,288.56 1136.59,288.98 1135.12,289.41 1133.67,289.84 1132.23,290.26 1130.8,290.69 1129.39,291.12 1127.99,291.55 1126.6,291.98 1125.23,292.41 1123.87,292.84 1122.52,293.27 1121.18,293.7 1119.86,294.13 1118.55,294.57 1117.25,295 1115.97,295.43 1114.69,295.87 1113.43,296.3 1112.19,296.73 1110.95,297.17 1109.72,297.6 1108.51,298.04 1107.31,298.48 1106.12,298.91 1104.95,299.35 1103.78,299.79 1102.63,300.23 1101.48,300.67 1100.35,301.11 1099.23,301.55 1098.12,301.99 1097.03,302.43 1095.94,302.87 1094.87,303.31 1093.8,303.75 1092.75,304.19 1091.71,304.64 1090.67,305.08 1089.65,305.53 1088.64,305.97 1087.64,306.42 1086.65,306.86 1085.67,307.31 1084.7,307.76 1083.75,308.2 1082.8,308.65 1081.86,309.1 1080.93,309.55 1080.01,310 1079.1,310.45 1078.2,310.9 1077.31,311.35 1076.44,311.8 1075.57,312.25 1074.7,312.71 1073.85,313.16 1073.01,313.61 1072.18,314.07 1071.36,314.52 1070.54,314.98 1069.74,315.44 1068.94,315.89 1068.15,316.35 1067.38,316.81 1066.61,317.27 1065.85,317.73 1065.1,318.19 1064.35,318.65 1063.62,319.11 1062.89,319.57 1062.17,320.03 1061.47,320.49 1060.76,320.96 1060.07,321.42 1059.39,321.88 1058.71,322.35 1058.04,322.82 1057.38,323.28 1056.73,323.75 1056.08,324.22 1055.45,324.68 1054.82,325.15 1054.2,325.62 1053.58,326.09 1052.98,326.56 1052.38,327.04 1051.79,327.51 1051.2,327.98 1050.62,328.45 1050.05,328.93 1049.49,329.4 1048.94,329.88 1048.39,330.35 1047.85,330.83 1047.31,331.31 1046.79,331.79 1046.26,332.27 1045.75,332.75 1045.24,333.23 1044.74,333.71 1044.25,334.19 1043.76,334.67 1043.28,335.15 1042.8,335.64 1042.34,336.12 1041.87,336.61 1041.42,337.09 1040.97,337.58 1040.52,338.07 1040.09,338.56 1039.66,339.04 1039.23,339.53 1038.81,340.02 1038.4,340.52 1037.99,341.01 1037.59,341.5 1037.19,341.99 1036.8,342.49 1036.41,342.98 1036.03,343.48 1035.66,343.98 1035.29,344.47 1034.93,344.97 1034.57,345.47 1034.21,345.97 1033.87,346.47 1033.52,346.97 1033.19,347.48 1032.85,347.98 1032.53,348.48 1032.2,348.99 1031.89,349.49 1031.57,350 1031.26,350.51 1030.96,351.02 1030.66,351.53 1030.37,352.04 1030.08,352.55 1029.79,353.06 1029.51,353.57 1029.24,354.09 1028.97,354.6 1028.7,355.12 1028.44,355.63 1028.18,356.15 1027.92,356.67 1027.67,357.19 1027.43,357.71 1027.19,358.23 1026.95,358.75 1026.71,359.28 1026.48,359.8 1026.26,360.33 1026.04,360.85 1025.82,361.38 1025.6,361.91 1025.39,362.44 1025.19,362.97 1024.98,363.5 1024.78,364.03 1024.59,364.57 1024.39,365.1 1024.2,365.64 1024.02,366.18 1023.84,366.71 1023.66,367.25 1023.48,367.79 1023.31,368.33 1023.14,368.88 1022.97,369.42 1022.81,369.97 1022.65,370.51 1022.49,371.06 1022.34,371.61 1022.19,372.16 1022.04,372.71 1021.9,373.26 1021.75,373.81 1021.61,374.37 1021.48,374.92 1021.34,375.48 1021.21,376.04 1021.09,376.6 1020.96,377.16 1020.84,377.72 1020.72,378.28 1020.6,378.85 1020.48,379.41 1020.37,379.98 1020.26,380.55 1020.15,381.12 1020.05,381.69 1019.94,382.27 1019.84,382.84 1019.74,383.42 1019.64,383.99 1019.55,384.57 1019.46,385.15 1019.37,385.73 1019.28,386.32 1019.19,386.9 1019.11,387.49 1019.03,388.08 1018.95,388.67 1018.87,389.26 1018.79,389.85 1018.72,390.44 1018.65,391.04 1018.58,391.64 1018.51,392.24 1018.44,392.84 1018.37,393.44 1018.31,394.05 1018.25,394.65 1018.19,395.26 1018.13,395.87 1018.07,396.48 1018.01,397.1 1017.96,397.71 1017.91,398.33 1017.86,398.95 1017.81,399.57 1017.76,400.19 1017.71,400.82 1017.66,401.45 1017.62,402.08 1017.58,402.71 1017.54,403.34 1017.49,403.98 1017.46,404.62 1017.42,405.26 1017.38,405.9 1017.34,406.54 1017.31,407.19 1017.28,407.84 1017.24,408.49 1017.21,409.14 1017.18,409.8 1017.15,410.46 1017.12,411.12 1017.1,411.78 1017.07,412.45 1017.04,413.12 1017.02,413.79 1016.99,414.47 1016.97,415.14 1016.95,415.82 1016.93,416.51 1016.91,417.19 1016.89,417.88 1016.87,418.57 1016.85,419.27 1016.83,419.96 1016.82,420.67 1016.8,421.37 1016.78,422.08 1016.77,422.79 1016.76,423.5 1016.74,424.22 1016.73,424.94 1016.72,425.66 1016.7,426.39 1016.69,427.13 1016.68,427.86 1016.67,428.6 1016.66,429.34 1016.65,430.09 1016.64,430.84 1016.63,431.6 1016.63,432.36 1016.62,433.13 1016.61,433.9 1016.6,434.67 1016.6,435.45 1016.59,436.23 1016.59,437.02 1016.58,437.82 1016.58,438.62 1016.57,439.42 1016.57,440.23 1016.56,441.05 1016.56,441.87 1016.55,442.7 1016.55,443.54 1016.55,444.38 1016.54,445.22 1016.54,446.08 1016.54,446.94 1016.54,447.81 1016.53,448.69 1016.53,449.57 1016.53,450.47 1016.53,451.37 1016.53,452.28 1016.53,453.2 1016.52,454.13 1016.52,455.07 1016.52,456.02 1016.52,456.98 1016.52,457.95 1016.52,458.94 1016.52,459.94 1016.52,460.95 1016.52,461.97 1016.52,463.01 1016.52,464.07 1016.52,465.14 1016.52,466.23 1016.52,467.34 1016.51,468.47 1016.51,469.62 1016.51,470.8 1016.51,472.01 1016.51,473.24 1016.51,474.5 1016.51,475.8 1016.51,477.14 1016.51,478.53 1016.51,479.96 1016.51,481.46 1016.51,483.02 1016.51,484.66 1016.51,486.39 1016.51,488.18 1016.51,489.81 1016.51,490.64 1016.51,490.72" fill="none" stroke="#000000" stroke-width="4.5" stroke-linejoin="round" stroke-dasharray="17 17"/>
<text transform="translate(1016.51 596.5) scale(1 1.045)" font-size="30" text-anchor="middle" fill="#262626">0</text>
<text transform="translate(1113.65 596.5) scale(1 1.045)" font-size="30" text-anchor="middle" fill="#262626">5</text>
<text transform="translate(1210.8 596.5) scale(1 1.045)" font-size="30" text-anchor="middle" fill="#262626">10</text>
<text transform="translate(1307.94 596.5) scale(1 1.045)" font-size="30" text-anchor="middle" fill="#262626">15</text>
<text transform="translate(1405.08 596.5) scale(1 1.045)" font-size="30" text-anchor="middle" fill="#262626">20</text>
<text transform="translate(1502.22 596.5) scale(1 1.045)" font-size="30" text-anchor="middle" fill="#262626">25</text>
<text transform="translate(1599.36 596.5) scale(1 1.045)" font-size="30" text-anchor="middle" fill="#262626">30</text>
<text transform="translate(1696.5 596.5) scale(1 1.045)" font-size="30" text-anchor="middle" fill="#262626">35</text>
<text transform="translate(994.6 509.44) scale(1 1.045)" font-size="30" text-anchor="end" fill="#262626">0</text>
<text transform="translate(994.6 443.98) scale(1 1.045)" font-size="30" text-anchor="end" fill="#262626">1</text>
<text transform="translate(994.6 378.53) scale(1 1.045)" font-size="30" text-anchor="end" fill="#262626">2</text>
<text transform="translate(994.6 313.07) scale(1 1.045)" font-size="30" text-anchor="end" fill="#262626">3</text>
<text transform="translate(994.6 247.62) scale(1 1.045)" font-size="30" text-anchor="end" fill="#262626">4</text>
<text transform="translate(994.6 182.16) scale(1 1.045)" font-size="30" text-anchor="end" fill="#262626">5</text>
<text transform="translate(994.6 116.71) scale(1 1.045)" font-size="30" text-anchor="end" fill="#262626">6</text>
<text transform="translate(994.6 51.25) scale(1 1.045)" font-size="30" text-anchor="end" fill="#262626">7</text>
<text x="1005.45" y="33.7" font-size="30.6" fill="#262626" font-weight="200" style='font-family:"DejaVu Sans",sans-serif'>×</text>
<text x="1029.9" y="31.9" font-size="30" text-anchor="start" fill="#262626" xml:space="preserve"><tspan>10</tspan><tspan dy="-15" font-size="24">6</tspan></text>
<text x="1352.1" y="648.6" font-size="32.8" text-anchor="middle" fill="#262626" xml:space="preserve"><tspan>Initial density (C/cm</tspan><tspan dy="-14.92" font-size="26.24">3</tspan><tspan dy="14.92" dx="1.97">)</tspan></text>
<text x="951.1" y="293.8" font-size="32.8" text-anchor="middle" fill="#262626" transform="rotate(-90 951.1 293.8)" xml:space="preserve"><tspan font-size="36.08">√</tspan><tspan>2/3 </tspan><tspan dx="1.31" font-style="italic" font-family='"Liberation Serif", "DejaVu Serif", serif' font-size="36.74">ω</tspan><tspan dy="16.4" dx="0.98" font-size="26.24">0</tspan><tspan dy="-16.4"> </tspan><tspan font-style="italic" font-family='"Liberation Serif", "DejaVu Serif", serif' font-size="32.8">σ</tspan><tspan dy="16.4" dx="3.28" font-size="26.24">r0</tspan><tspan dy="-16.4"> (m/s)</tspan></text>
<text x="901.5" y="30.2" font-size="32.8" text-anchor="start" fill="#000" font-weight="bold" xml:space="preserve">(b)</text>
<path d="M1073 448.2H1137" stroke="#0000ff" stroke-width="4.5" fill="none"/>
<text x="1142.2" y="457.09" font-size="23.1" text-anchor="start" fill="#000" xml:space="preserve"><tspan>N = 10,000</tspan></text>
<path d="M1073 478.5H1137" stroke="#ff0000" stroke-width="4.5" fill="none" stroke-dasharray="17 4.25 8.5 4.25"/>
<text x="1142.2" y="487.39" font-size="23.1" text-anchor="start" fill="#000" xml:space="preserve"><tspan>N = 5,000</tspan></text>
<path d="M1073 508.7H1137" stroke="#000000" stroke-width="4.5" fill="none" stroke-dasharray="17 17"/>
<text x="1142.2" y="517.59" font-size="23.1" text-anchor="start" fill="#000" xml:space="preserve"><tspan>N = 2,500</tspan></text>
<rect x="1380.6" y="283.3" width="285.3" height="173.1" fill="#fff"/>
<path d="M1394.7 456.4v-3.95M1394.7 283.3v3.95M1462.5 456.4v-3.95M1462.5 283.3v3.95M1530.3 456.4v-3.95M1530.3 283.3v3.95M1598.1 456.4v-3.95M1598.1 283.3v3.95M1380.6 421.78h3.95M1665.9 421.78h-3.95M1380.6 352.54h3.95M1665.9 352.54h-3.95" stroke="#262626" stroke-width="2" fill="none"/>
<rect x="1380.6" y="283.3" width="285.3" height="173.1" fill="none" stroke="#262626" stroke-width="2"/>
<polyline points="1630.63,282.9 1628.91,283.15 1626.96,283.44 1625.03,283.73 1623.11,284.02 1621.2,284.31 1619.3,284.6 1617.41,284.89 1615.54,285.18 1613.68,285.47 1611.83,285.76 1609.99,286.05 1608.16,286.34 1606.35,286.63 1604.54,286.93 1602.75,287.22 1600.97,287.51 1599.2,287.8 1597.45,288.09 1595.7,288.38 1593.97,288.68 1592.24,288.97 1590.53,289.26 1588.83,289.56 1587.14,289.85 1585.46,290.14 1583.79,290.44 1582.14,290.73 1580.49,291.02 1578.85,291.32 1577.23,291.61 1575.62,291.91 1574.01,292.2 1572.42,292.5 1570.84,292.79 1569.27,293.09 1567.71,293.39 1566.16,293.68 1564.62,293.98 1563.09,294.28 1561.58,294.57 1560.07,294.87 1558.57,295.17 1557.08,295.46 1555.61,295.76 1554.14,296.06 1552.68,296.36 1551.23,296.66 1549.8,296.95 1548.37,297.25 1546.95,297.55 1545.55,297.85 1544.15,298.15 1542.76,298.45 1541.38,298.75 1540.01,299.05 1538.65,299.35 1537.31,299.65 1535.97,299.95 1534.64,300.25 1533.31,300.55 1532,300.86 1530.7,301.16 1529.41,301.46 1528.13,301.76 1526.85,302.06 1525.59,302.37 1524.33,302.67 1523.08,302.97 1521.85,303.28 1520.62,303.58 1519.4,303.88 1518.19,304.19 1516.98,304.49 1515.79,304.8 1514.61,305.1 1513.43,305.41 1512.26,305.71 1511.11,306.02 1509.96,306.32 1508.81,306.63 1507.68,306.94 1506.56,307.24 1505.44,307.55 1504.34,307.86 1503.24,308.16 1502.15,308.47 1501.06,308.78 1499.99,309.09 1498.92,309.39 1497.87,309.7 1496.82,310.01 1495.77,310.32 1494.74,310.63 1493.72,310.94 1492.7,311.25 1491.69,311.56 1490.69,311.87 1489.69,312.18 1488.71,312.49 1487.73,312.8 1486.76,313.11 1485.79,313.43 1484.84,313.74 1483.89,314.05 1482.95,314.36 1482.02,314.67 1481.09,314.99 1480.17,315.3 1479.26,315.61 1478.36,315.93 1477.46,316.24 1476.57,316.56 1475.69,316.87 1474.82,317.19 1473.95,317.5 1473.09,317.82 1472.24,318.13 1471.39,318.45 1470.55,318.76 1469.72,319.08 1468.89,319.4 1468.08,319.71 1467.26,320.03 1466.46,320.35 1465.66,320.67 1464.87,320.98 1464.08,321.3 1463.31,321.62 1462.54,321.94 1461.77,322.26 1461.01,322.58 1460.26,322.9 1459.51,323.22 1458.78,323.54 1458.04,323.86 1457.32,324.18 1456.6,324.5 1455.88,324.82 1455.18,325.15 1454.47,325.47 1453.78,325.79 1453.09,326.11 1452.41,326.44 1451.73,326.76 1451.06,327.08 1450.4,327.41 1449.74,327.73 1449.08,328.06 1448.44,328.38 1447.79,328.71 1447.16,329.03 1446.53,329.36 1445.91,329.68 1445.29,330.01 1444.68,330.34 1444.07,330.66 1443.47,330.99 1442.87,331.32 1442.28,331.65 1441.7,331.97 1441.12,332.3 1440.54,332.63 1439.97,332.96 1439.41,333.29 1438.85,333.62 1438.3,333.95 1437.75,334.28 1437.21,334.61 1436.67,334.94 1436.14,335.27 1435.62,335.6 1435.09,335.94 1434.58,336.27 1434.07,336.6 1433.56,336.93 1433.06,337.27 1432.56,337.6 1432.07,337.93 1431.58,338.27 1431.1,338.6 1430.62,338.94 1430.15,339.27 1429.68,339.61 1429.22,339.95 1428.76,340.28 1428.31,340.62 1427.86,340.95 1427.42,341.29 1426.98,341.63 1426.54,341.97 1426.11,342.31 1425.68,342.64 1425.26,342.98 1424.84,343.32 1424.43,343.66 1424.02,344 1423.62,344.34 1423.21,344.68 1422.82,345.02 1422.43,345.36 1422.04,345.71 1421.65,346.05 1421.28,346.39 1420.9,346.73 1420.53,347.08 1420.16,347.42 1419.8,347.76 1419.44,348.11 1419.08,348.45 1418.73,348.8 1418.38,349.14 1418.04,349.49 1417.7,349.83 1417.36,350.18 1417.03,350.53 1416.7,350.87 1416.38,351.22 1416.06,351.57 1415.74,351.91 1415.42,352.26 1415.11,352.61 1414.81,352.96 1414.5,353.31 1414.2,353.66 1413.91,354.01 1413.61,354.36 1413.33,354.71 1413.04,355.06 1412.76,355.41 1412.48,355.77 1412.2,356.12 1411.93,356.47 1411.66,356.82 1411.39,357.18 1411.13,357.53 1410.87,357.88 1410.61,358.24 1410.36,358.59 1410.11,358.95 1409.86,359.3 1409.62,359.66 1409.38,360.01 1409.14,360.37 1408.91,360.73 1408.67,361.08 1408.45,361.44 1408.22,361.8 1408,362.16 1407.78,362.52 1407.56,362.88 1407.34,363.23 1407.13,363.59 1406.92,363.95 1406.72,364.31 1406.51,364.68 1406.31,365.04 1406.11,365.4 1405.92,365.76 1405.72,366.12 1405.53,366.48 1405.35,366.85 1405.16,367.21 1404.98,367.57 1404.8,367.94 1404.62,368.3 1404.44,368.66 1404.27,369.03 1404.1,369.39 1403.93,369.76 1403.77,370.12 1403.6,370.49 1403.44,370.86 1403.28,371.22 1403.13,371.59 1402.97,371.96 1402.82,372.32 1402.67,372.69 1402.52,373.06 1402.38,373.43 1402.24,373.8 1402.09,374.16 1401.96,374.53 1401.82,374.9 1401.68,375.27 1401.55,375.64 1401.42,376.01 1401.29,376.38 1401.17,376.75 1401.04,377.12 1400.92,377.49 1400.8,377.86 1400.68,378.24 1400.56,378.61 1400.45,378.98 1400.33,379.35 1400.22,379.72 1400.11,380.09 1400,380.47 1399.9,380.84 1399.79,381.21 1399.69,381.58 1399.59,381.96 1399.49,382.33 1399.39,382.7 1399.3,383.07 1399.2,383.45 1399.11,383.82 1399.02,384.19 1398.93,384.57 1398.84,384.94 1398.75,385.31 1398.67,385.68 1398.58,386.06 1398.5,386.43 1398.42,386.8 1398.34,387.17 1398.27,387.55 1398.19,387.92 1398.11,388.29 1398.04,388.66 1397.97,389.04 1397.9,389.41 1397.83,389.78 1397.76,390.15 1397.69,390.52 1397.63,390.89 1397.56,391.26 1397.5,391.63 1397.44,392 1397.38,392.37 1397.32,392.73 1397.26,393.1 1397.2,393.47 1397.15,393.83 1397.09,394.2 1397.04,394.57 1396.99,394.93 1396.94,395.29 1396.89,395.66 1396.84,396.02 1396.79,396.38 1396.74,396.74 1396.7,397.1 1396.65,397.46 1396.61,397.81 1396.56,398.17 1396.52,398.53 1396.48,398.88 1396.44,399.23 1396.4,399.58 1396.36,399.93 1396.32,400.28 1396.29,400.63 1396.25,400.97 1396.21,401.32 1396.18,401.66 1396.15,402 1396.11,402.34 1396.08,402.67 1396.05,403.01 1396.02,403.34 1395.99,403.67 1395.96,404 1395.93,404.33 1395.91,404.65 1395.88,404.97 1395.85,405.29 1395.83,405.61 1395.8,405.92 1395.78,406.23 1395.76,406.54 1395.73,406.85 1395.71,407.15 1395.69,407.45 1395.67,407.74 1395.65,408.04 1395.63,408.33 1395.61,408.61 1395.59,408.9 1395.57,409.18 1395.56,409.45 1395.54,409.72 1395.52,409.99 1395.51,410.26 1395.49,410.52 1395.48,410.77 1395.46,411.03 1395.45,411.28 1395.44,411.52 1395.42,411.76 1395.41,411.99 1395.4,412.23 1395.39,412.45 1395.37,412.67 1395.36,412.89 1395.35,413.1 1395.34,413.31 1395.33,413.52 1395.32,413.71 1395.31,413.91 1395.3,414.1 1395.3,414.28 1395.29,414.46 1395.28,414.64 1395.27,414.81 1395.26,414.97 1395.26,415.13 1395.25,415.29 1395.24,415.44 1395.24,415.58 1395.23,415.72 1395.23,415.86 1395.22,415.99 1395.22,416.12 1395.21,416.24 1395.21,416.36 1395.2,416.47 1395.2,416.58 1395.19,416.68 1395.19,416.78 1395.18,416.88 1395.18,416.97 1395.18,417.06 1395.17,417.14 1395.17,417.22 1395.17,417.29 1395.17,417.37 1395.16,417.43 1395.16,417.5 1395.16,417.56 1395.16,417.62 1395.15,417.67 1395.15,417.72 1395.15,417.77 1395.15,417.82 1395.15,417.86 1395.15,417.9 1395.14,417.94 1395.14,417.97 1395.14,418.01 1395.14,418.04 1395.14,418.07 1395.14,418.09 1395.14,418.12 1395.14,418.14 1395.14,418.16 1395.14,418.18 1395.14,418.19 1395.13,418.21 1395.13,418.22 1395.13,418.24 1395.13,418.25 1395.13,418.26 1395.13,418.27 1395.13,418.28 1395.13,418.28 1395.13,418.29 1395.13,418.3 1395.13,418.3 1395.13,418.3 1395.13,418.31 1395.13,418.31 1395.13,418.31 1395.13,418.32 1395.13,418.32 1395.13,418.32 1395.13,418.32 1395.13,418.32 1395.13,418.32 1395.13,418.32 1395.13,418.32 1395.13,418.32 1395.13,418.32 1395.13,418.32 1395.13,418.32 1395.13,418.32 1395.13,418.32 1395.13,418.32 1395.13,418.32 1395.13,418.32" fill="none" stroke="#0000ff" stroke-width="2.25" stroke-linejoin="round"/>
<polyline points="1666.3,321.91 1666.07,321.94 1663.9,322.16 1661.73,322.39 1659.59,322.62 1657.45,322.84 1655.33,323.07 1653.21,323.3 1651.12,323.53 1649.03,323.75 1646.96,323.98 1644.9,324.21 1642.85,324.44 1640.82,324.67 1638.8,324.9 1636.79,325.12 1634.79,325.35 1632.81,325.58 1630.83,325.81 1628.87,326.04 1626.93,326.27 1624.99,326.5 1623.07,326.73 1621.16,326.96 1619.26,327.19 1617.37,327.42 1615.49,327.65 1613.63,327.88 1611.78,328.11 1609.94,328.34 1608.11,328.57 1606.3,328.81 1604.49,329.04 1602.7,329.27 1600.92,329.5 1599.15,329.73 1597.39,329.96 1595.64,330.2 1593.9,330.43 1592.18,330.66 1590.47,330.89 1588.76,331.13 1587.07,331.36 1585.39,331.59 1583.72,331.83 1582.07,332.06 1580.42,332.29 1578.78,332.53 1577.16,332.76 1575.54,333 1573.94,333.23 1572.35,333.47 1570.76,333.7 1569.19,333.93 1567.63,334.17 1566.08,334.41 1564.54,334.64 1563.01,334.88 1561.49,335.11 1559.98,335.35 1558.48,335.58 1556.99,335.82 1555.51,336.06 1554.05,336.29 1552.59,336.53 1551.14,336.77 1549.7,337.01 1548.27,337.24 1546.86,337.48 1545.45,337.72 1544.05,337.96 1542.66,338.19 1541.28,338.43 1539.91,338.67 1538.55,338.91 1537.2,339.15 1535.86,339.39 1534.53,339.63 1533.21,339.87 1531.89,340.11 1530.59,340.35 1529.3,340.59 1528.01,340.83 1526.74,341.07 1525.47,341.31 1524.22,341.55 1522.97,341.79 1521.73,342.03 1520.5,342.27 1519.28,342.51 1518.07,342.76 1516.86,343 1515.67,343.24 1514.48,343.48 1513.31,343.72 1512.14,343.97 1510.98,344.21 1509.83,344.45 1508.69,344.7 1507.55,344.94 1506.43,345.18 1505.31,345.43 1504.21,345.67 1503.11,345.92 1502.01,346.16 1500.93,346.4 1499.86,346.65 1498.79,346.89 1497.73,347.14 1496.68,347.39 1495.64,347.63 1494.6,347.88 1493.58,348.12 1492.56,348.37 1491.55,348.62 1490.55,348.86 1489.55,349.11 1488.56,349.36 1487.58,349.6 1486.61,349.85 1485.65,350.1 1484.69,350.35 1483.74,350.6 1482.8,350.85 1481.87,351.09 1480.94,351.34 1480.02,351.59 1479.11,351.84 1478.21,352.09 1477.31,352.34 1476.42,352.59 1475.54,352.84 1474.66,353.09 1473.8,353.34 1472.94,353.59 1472.08,353.84 1471.23,354.1 1470.4,354.35 1469.56,354.6 1468.74,354.85 1467.92,355.1 1467.11,355.36 1466.3,355.61 1465.5,355.86 1464.71,356.11 1463.92,356.37 1463.15,356.62 1462.37,356.88 1461.61,357.13 1460.85,357.38 1460.1,357.64 1459.35,357.89 1458.61,358.15 1457.88,358.4 1457.15,358.66 1456.43,358.91 1455.72,359.17 1455.01,359.43 1454.31,359.68 1453.61,359.94 1452.92,360.2 1452.24,360.45 1451.56,360.71 1450.89,360.97 1450.22,361.23 1449.56,361.49 1448.91,361.74 1448.26,362 1447.62,362.26 1446.99,362.52 1446.36,362.78 1445.73,363.04 1445.11,363.3 1444.5,363.56 1443.89,363.82 1443.29,364.08 1442.69,364.34 1442.1,364.6 1441.52,364.86 1440.94,365.13 1440.36,365.39 1439.79,365.65 1439.23,365.91 1438.67,366.18 1438.12,366.44 1437.57,366.7 1437.03,366.97 1436.49,367.23 1435.96,367.49 1435.43,367.76 1434.91,368.02 1434.39,368.29 1433.88,368.55 1433.38,368.82 1432.87,369.08 1432.38,369.35 1431.88,369.62 1431.4,369.88 1430.91,370.15 1430.44,370.42 1429.96,370.69 1429.5,370.95 1429.03,371.22 1428.57,371.49 1428.12,371.76 1427.67,372.03 1427.23,372.3 1426.79,372.57 1426.35,372.83 1425.92,373.1 1425.49,373.38 1425.07,373.65 1424.65,373.92 1424.24,374.19 1423.83,374.46 1423.42,374.73 1423.02,375 1422.63,375.28 1422.23,375.55 1421.85,375.82 1421.46,376.09 1421.08,376.37 1420.71,376.64 1420.33,376.92 1419.97,377.19 1419.6,377.46 1419.24,377.74 1418.89,378.02 1418.53,378.29 1418.19,378.57 1417.84,378.84 1417.5,379.12 1417.17,379.4 1416.83,379.67 1416.5,379.95 1416.18,380.23 1415.86,380.51 1415.54,380.79 1415.23,381.07 1414.91,381.34 1414.61,381.62 1414.3,381.9 1414,382.18 1413.71,382.46 1413.41,382.74 1413.13,383.03 1412.84,383.31 1412.56,383.59 1412.28,383.87 1412,384.15 1411.73,384.44 1411.46,384.72 1411.19,385 1410.93,385.29 1410.67,385.57 1410.41,385.86 1410.16,386.14 1409.91,386.42 1409.66,386.71 1409.42,387 1409.18,387.28 1408.94,387.57 1408.7,387.86 1408.47,388.14 1408.24,388.43 1408.01,388.72 1407.79,389.01 1407.57,389.29 1407.35,389.58 1407.14,389.87 1406.93,390.16 1406.72,390.45 1406.51,390.74 1406.31,391.03 1406.11,391.32 1405.91,391.62 1405.71,391.91 1405.52,392.2 1405.33,392.49 1405.14,392.78 1404.95,393.08 1404.77,393.37 1404.59,393.66 1404.41,393.96 1404.24,394.25 1404.06,394.55 1403.89,394.84 1403.73,395.14 1403.56,395.43 1403.4,395.73 1403.24,396.03 1403.08,396.32 1402.92,396.62 1402.77,396.92 1402.61,397.22 1402.46,397.52 1402.32,397.81 1402.17,398.11 1402.03,398.41 1401.89,398.71 1401.75,399.01 1401.61,399.31 1401.48,399.61 1401.34,399.92 1401.21,400.22 1401.08,400.52 1400.96,400.82 1400.83,401.12 1400.71,401.43 1400.59,401.73 1400.47,402.03 1400.35,402.34 1400.24,402.64 1400.12,402.95 1400.01,403.25 1399.9,403.56 1399.79,403.86 1399.69,404.17 1399.58,404.48 1399.48,404.78 1399.38,405.09 1399.28,405.4 1399.18,405.7 1399.08,406.01 1398.99,406.32 1398.9,406.63 1398.81,406.94 1398.72,407.25 1398.63,407.56 1398.54,407.87 1398.46,408.18 1398.37,408.49 1398.29,408.8 1398.21,409.11 1398.13,409.42 1398.05,409.73 1397.98,410.04 1397.9,410.35 1397.83,410.66 1397.76,410.97 1397.69,411.29 1397.62,411.6 1397.55,411.91 1397.48,412.22 1397.42,412.54 1397.35,412.85 1397.29,413.16 1397.23,413.48 1397.17,413.79 1397.11,414.1 1397.05,414.42 1396.99,414.73 1396.94,415.04 1396.88,415.36 1396.83,415.67 1396.77,415.99 1396.72,416.3 1396.67,416.61 1396.62,416.93 1396.58,417.24 1396.53,417.55 1396.48,417.87 1396.44,418.18 1396.39,418.49 1396.35,418.8 1396.31,419.12 1396.27,419.43 1396.23,419.74 1396.19,420.05 1396.15,420.36 1396.11,420.67 1396.07,420.99 1396.04,421.3 1396,421.6 1395.97,421.91 1395.93,422.22 1395.9,422.53 1395.87,422.84 1395.84,423.14 1395.81,423.45 1395.78,423.75 1395.75,424.06 1395.72,424.36 1395.69,424.66 1395.67,424.96 1395.64,425.26 1395.62,425.56 1395.59,425.86 1395.57,426.16 1395.54,426.45 1395.52,426.74 1395.5,427.04 1395.48,427.33 1395.46,427.62 1395.44,427.9 1395.42,428.19 1395.4,428.47 1395.38,428.76 1395.36,429.04 1395.34,429.31 1395.33,429.59 1395.31,429.86 1395.29,430.13 1395.28,430.4 1395.26,430.67 1395.25,430.93 1395.23,431.19 1395.22,431.45 1395.21,431.7 1395.2,431.96 1395.18,432.2 1395.17,432.45 1395.16,432.69 1395.15,432.93 1395.14,433.17 1395.13,433.4 1395.12,433.62 1395.11,433.85 1395.1,434.07 1395.09,434.28 1395.08,434.5 1395.07,434.7 1395.06,434.91 1395.06,435.11 1395.05,435.3 1395.04,435.49 1395.04,435.68 1395.03,435.86 1395.02,436.03 1395.02,436.21 1395.01,436.37 1395.01,436.54 1395,436.69 1395,436.85 1394.99,436.99 1394.99,437.14 1394.98,437.27 1394.98,437.41 1394.97,437.54 1394.97,437.66 1394.97,437.78 1394.96,437.89 1394.96,438 1394.96,438.11 1394.95,438.21 1394.95,438.3 1394.95,438.39 1394.95,438.48 1394.94,438.56 1394.94,438.64 1394.94,438.71 1394.94,438.78 1394.94,438.85 1394.93,438.91 1394.93,438.97 1394.93,439.03 1394.93,439.08 1394.93,439.13 1394.93,439.17 1394.93,439.21 1394.93,439.25 1394.92,439.29 1394.92,439.32 1394.92,439.35 1394.92,439.38 1394.92,439.41 1394.92,439.43 1394.92,439.45 1394.92,439.47 1394.92,439.49 1394.92,439.51 1394.92,439.52 1394.92,439.54 1394.92,439.55 1394.92,439.56 1394.92,439.57 1394.92,439.57 1394.92,439.58 1394.92,439.59 1394.92,439.59 1394.92,439.6 1394.92,439.6 1394.92,439.6 1394.92,439.61 1394.92,439.61 1394.92,439.61 1394.92,439.61 1394.92,439.61 1394.92,439.61 1394.92,439.62 1394.92,439.62 1394.92,439.62 1394.92,439.62 1394.92,439.62 1394.92,439.62 1394.92,439.62 1394.92,439.62 1394.92,439.62 1394.92,439.62" fill="none" stroke="#ff0000" stroke-width="2.25" stroke-linejoin="round" stroke-dasharray="8.5 2.12 4.25 2.12"/>
<polyline points="1666.3,356.8 1666.07,356.82 1663.89,357 1661.73,357.18 1659.58,357.36 1657.44,357.54 1655.32,357.72 1653.21,357.9 1651.11,358.08 1649.02,358.26 1646.95,358.44 1644.89,358.62 1642.84,358.81 1640.81,358.99 1638.78,359.17 1636.77,359.35 1634.78,359.53 1632.79,359.71 1630.82,359.9 1628.86,360.08 1626.91,360.26 1624.97,360.44 1623.05,360.62 1621.14,360.81 1619.24,360.99 1617.35,361.17 1615.47,361.36 1613.61,361.54 1611.76,361.72 1609.92,361.91 1608.09,362.09 1606.27,362.27 1604.46,362.46 1602.67,362.64 1600.89,362.82 1599.12,363.01 1597.36,363.19 1595.61,363.38 1593.87,363.56 1592.15,363.75 1590.43,363.93 1588.73,364.12 1587.04,364.3 1585.36,364.49 1583.69,364.67 1582.03,364.86 1580.38,365.04 1578.75,365.23 1577.12,365.41 1575.51,365.6 1573.9,365.79 1572.31,365.97 1570.72,366.16 1569.15,366.35 1567.59,366.53 1566.04,366.72 1564.5,366.91 1562.97,367.09 1561.45,367.28 1559.94,367.47 1558.44,367.66 1556.95,367.84 1555.47,368.03 1554,368.22 1552.54,368.41 1551.09,368.6 1549.65,368.78 1548.23,368.97 1546.81,369.16 1545.4,369.35 1544,369.54 1542.61,369.73 1541.23,369.92 1539.86,370.11 1538.5,370.3 1537.15,370.49 1535.81,370.68 1534.48,370.87 1533.15,371.06 1531.84,371.25 1530.54,371.44 1529.24,371.63 1527.96,371.82 1526.68,372.01 1525.42,372.2 1524.16,372.39 1522.91,372.58 1521.67,372.78 1520.44,372.97 1519.22,373.16 1518.01,373.35 1516.8,373.54 1515.61,373.74 1514.42,373.93 1513.25,374.12 1512.08,374.31 1510.92,374.51 1509.77,374.7 1508.63,374.89 1507.49,375.09 1506.37,375.28 1505.25,375.47 1504.14,375.67 1503.04,375.86 1501.95,376.06 1500.86,376.25 1499.79,376.45 1498.72,376.64 1497.66,376.84 1496.61,377.03 1495.57,377.23 1494.53,377.42 1493.51,377.62 1492.49,377.81 1491.48,378.01 1490.48,378.2 1489.48,378.4 1488.49,378.6 1487.51,378.79 1486.54,378.99 1485.58,379.19 1484.62,379.38 1483.67,379.58 1482.73,379.78 1481.8,379.98 1480.87,380.17 1479.95,380.37 1479.04,380.57 1478.13,380.77 1477.24,380.97 1476.35,381.17 1475.46,381.36 1474.59,381.56 1473.72,381.76 1472.86,381.96 1472,382.16 1471.16,382.36 1470.32,382.56 1469.48,382.76 1468.66,382.96 1467.84,383.16 1467.03,383.36 1466.22,383.56 1465.42,383.76 1464.63,383.97 1463.84,384.17 1463.06,384.37 1462.29,384.57 1461.53,384.77 1460.77,384.97 1460.01,385.18 1459.27,385.38 1458.53,385.58 1457.79,385.79 1457.07,385.99 1456.35,386.19 1455.63,386.4 1454.92,386.6 1454.22,386.8 1453.53,387.01 1452.84,387.21 1452.15,387.42 1451.48,387.62 1450.8,387.82 1450.14,388.03 1449.48,388.24 1448.82,388.44 1448.18,388.65 1447.53,388.85 1446.9,389.06 1446.27,389.26 1445.64,389.47 1445.02,389.68 1444.41,389.88 1443.8,390.09 1443.2,390.3 1442.6,390.51 1442.01,390.71 1441.43,390.92 1440.85,391.13 1440.27,391.34 1439.7,391.55 1439.14,391.76 1438.58,391.97 1438.03,392.17 1437.48,392.38 1436.94,392.59 1436.4,392.8 1435.87,393.01 1435.34,393.22 1434.82,393.43 1434.3,393.65 1433.79,393.86 1433.28,394.07 1432.78,394.28 1432.28,394.49 1431.79,394.7 1431.3,394.91 1430.82,395.13 1430.34,395.34 1429.87,395.55 1429.4,395.77 1428.94,395.98 1428.48,396.19 1428.03,396.41 1427.58,396.62 1427.13,396.83 1426.69,397.05 1426.25,397.26 1425.82,397.48 1425.4,397.69 1424.97,397.91 1424.56,398.12 1424.14,398.34 1423.73,398.56 1423.33,398.77 1422.93,398.99 1422.53,399.21 1422.14,399.42 1421.75,399.64 1421.36,399.86 1420.98,400.08 1420.61,400.29 1420.24,400.51 1419.87,400.73 1419.5,400.95 1419.14,401.17 1418.79,401.39 1418.44,401.61 1418.09,401.83 1417.74,402.05 1417.4,402.27 1417.07,402.49 1416.73,402.71 1416.41,402.93 1416.08,403.15 1415.76,403.37 1415.44,403.6 1415.13,403.82 1414.82,404.04 1414.51,404.26 1414.2,404.49 1413.9,404.71 1413.61,404.93 1413.31,405.16 1413.03,405.38 1412.74,405.61 1412.46,405.83 1412.18,406.06 1411.9,406.28 1411.63,406.51 1411.36,406.73 1411.09,406.96 1410.83,407.19 1410.57,407.41 1410.31,407.64 1410.06,407.87 1409.81,408.1 1409.56,408.32 1409.32,408.55 1409.07,408.78 1408.84,409.01 1408.6,409.24 1408.37,409.47 1408.14,409.7 1407.91,409.93 1407.69,410.16 1407.47,410.39 1407.25,410.62 1407.04,410.85 1406.82,411.08 1406.61,411.31 1406.41,411.55 1406.2,411.78 1406,412.01 1405.8,412.24 1405.61,412.48 1405.41,412.71 1405.22,412.94 1405.04,413.18 1404.85,413.41 1404.67,413.65 1404.49,413.88 1404.31,414.12 1404.13,414.36 1403.96,414.59 1403.79,414.83 1403.62,415.07 1403.46,415.3 1403.29,415.54 1403.13,415.78 1402.97,416.02 1402.82,416.26 1402.66,416.49 1402.51,416.73 1402.36,416.97 1402.21,417.21 1402.07,417.45 1401.92,417.69 1401.78,417.93 1401.64,418.18 1401.51,418.42 1401.37,418.66 1401.24,418.9 1401.11,419.14 1400.98,419.39 1400.85,419.63 1400.73,419.87 1400.6,420.12 1400.48,420.36 1400.36,420.61 1400.25,420.85 1400.13,421.1 1400.02,421.34 1399.91,421.59 1399.8,421.84 1399.69,422.08 1399.58,422.33 1399.48,422.58 1399.37,422.83 1399.27,423.08 1399.17,423.32 1399.08,423.57 1398.98,423.82 1398.88,424.07 1398.79,424.32 1398.7,424.57 1398.61,424.82 1398.52,425.08 1398.44,425.33 1398.35,425.58 1398.27,425.83 1398.19,426.08 1398.1,426.34 1398.03,426.59 1397.95,426.84 1397.87,427.1 1397.8,427.35 1397.72,427.61 1397.65,427.86 1397.58,428.12 1397.51,428.37 1397.44,428.63 1397.38,428.88 1397.31,429.14 1397.25,429.4 1397.18,429.66 1397.12,429.91 1397.06,430.17 1397,430.43 1396.94,430.69 1396.89,430.95 1396.83,431.21 1396.77,431.47 1396.72,431.73 1396.67,431.99 1396.62,432.25 1396.57,432.51 1396.52,432.77 1396.47,433.03 1396.42,433.29 1396.38,433.55 1396.33,433.81 1396.29,434.08 1396.24,434.34 1396.2,434.6 1396.16,434.86 1396.12,435.13 1396.08,435.39 1396.04,435.65 1396,435.92 1395.97,436.18 1395.93,436.44 1395.89,436.71 1395.86,436.97 1395.83,437.23 1395.79,437.5 1395.76,437.76 1395.73,438.02 1395.7,438.29 1395.67,438.55 1395.64,438.82 1395.61,439.08 1395.59,439.34 1395.56,439.61 1395.53,439.87 1395.51,440.13 1395.48,440.39 1395.46,440.66 1395.44,440.92 1395.41,441.18 1395.39,441.44 1395.37,441.7 1395.35,441.96 1395.33,442.22 1395.31,442.48 1395.29,442.74 1395.27,443 1395.25,443.25 1395.24,443.51 1395.22,443.77 1395.2,444.02 1395.19,444.27 1395.17,444.53 1395.16,444.78 1395.14,445.03 1395.13,445.28 1395.11,445.52 1395.1,445.77 1395.09,446.01 1395.08,446.26 1395.06,446.5 1395.05,446.74 1395.04,446.97 1395.03,447.21 1395.02,447.44 1395.01,447.67 1395,447.9 1394.99,448.13 1394.98,448.35 1394.97,448.57 1394.97,448.79 1394.96,449.01 1394.95,449.22 1394.94,449.43 1394.94,449.64 1394.93,449.84 1394.92,450.04 1394.92,450.23 1394.91,450.43 1394.9,450.61 1394.9,450.8 1394.89,450.98 1394.89,451.15 1394.88,451.33 1394.88,451.49 1394.88,451.66 1394.87,451.82 1394.87,451.97 1394.86,452.12 1394.86,452.26 1394.86,452.4 1394.85,452.54 1394.85,452.67 1394.85,452.79 1394.84,452.92 1394.84,453.03 1394.84,453.14 1394.84,453.25 1394.84,453.35 1394.83,453.45 1394.83,453.54 1394.83,453.62 1394.83,453.71 1394.83,453.79 1394.82,453.86 1394.82,453.93 1394.82,453.99 1394.82,454.06 1394.82,454.11 1394.82,454.17 1394.82,454.22 1394.82,454.26 1394.82,454.3 1394.82,454.34 1394.81,454.38 1394.81,454.41 1394.81,454.44 1394.81,454.47 1394.81,454.5 1394.81,454.52 1394.81,454.54 1394.81,454.56 1394.81,454.57 1394.81,454.59 1394.81,454.6 1394.81,454.61 1394.81,454.62 1394.81,454.63 1394.81,454.64 1394.81,454.65 1394.81,454.65 1394.81,454.66 1394.81,454.66 1394.81,454.66 1394.81,454.67 1394.81,454.67 1394.81,454.67 1394.81,454.67 1394.81,454.67 1394.81,454.67 1394.81,454.67 1394.81,454.67 1394.81,454.67 1394.81,454.67 1394.81,454.67 1394.81,454.67 1394.81,454.67 1394.81,454.67" fill="none" stroke="#000000" stroke-width="2.25" stroke-linejoin="round" stroke-dasharray="8.5 8.5"/>
<text transform="translate(1394.7 489.8) scale(1 1.045)" font-size="24.3" text-anchor="middle" fill="#262626">0</text>
<text transform="translate(1462.5 489.8) scale(1 1.045)" font-size="24.3" text-anchor="middle" fill="#262626">5</text>
<text transform="translate(1530.3 489.8) scale(1 1.045)" font-size="24.3" text-anchor="middle" fill="#262626">10</text>
<text transform="translate(1598.1 489.8) scale(1 1.045)" font-size="24.3" text-anchor="middle" fill="#262626">15</text>
<text transform="translate(1665.9 489.8) scale(1 1.045)" font-size="24.3" text-anchor="middle" fill="#262626">20</text>
<text transform="translate(1370.2 431.38) scale(1 1.045)" font-size="24.3" text-anchor="end" fill="#262626">2</text>
<text transform="translate(1370.2 362.14) scale(1 1.045)" font-size="24.3" text-anchor="end" fill="#262626">4</text>
<text transform="translate(1370.2 292.9) scale(1 1.045)" font-size="24.3" text-anchor="end" fill="#262626">6</text>
<text x="1379.96" y="279.26" font-size="24.79" fill="#262626" font-weight="200" style='font-family:"DejaVu Sans",sans-serif'>×</text>
<text x="1399.77" y="277.8" font-size="24.3" text-anchor="start" fill="#262626" xml:space="preserve"><tspan>10</tspan><tspan dy="-12.15" font-size="19.44">5</tspan></text>
<text x="1523.2" y="530.2" font-size="25.6" text-anchor="middle" fill="#262626" xml:space="preserve"><tspan>Initial density (</tspan><tspan dx="0.64" font-style="italic" font-family='"Liberation Serif", "DejaVu Serif", serif' font-size="28.67">μ</tspan><tspan dx="2.18">C/cm</tspan><tspan dy="-12.8" font-size="20.48">3</tspan><tspan dy="12.8" dx="1.54">)</tspan></text>
<path d="M242.72 1306.2v-8.43M242.72 785.2v8.43M379.34 1306.2v-8.43M379.34 785.2v8.43M515.96 1306.2v-8.43M515.96 785.2v8.43M652.58 1306.2v-8.43M652.58 785.2v8.43M106.1 1226.05h8.43M789.2 1226.05h-8.43M106.1 1145.89h8.43M789.2 1145.89h-8.43M106.1 1065.74h8.43M789.2 1065.74h-8.43M106.1 985.58h8.43M789.2 985.58h-8.43M106.1 905.43h8.43M789.2 905.43h-8.43M106.1 825.28h8.43M789.2 825.28h-8.43" stroke="#262626" stroke-width="3" fill="none"/>
<rect x="106.1" y="785.2" width="683.1" height="521" fill="none" stroke="#262626" stroke-width="3"/>
<polyline points="104.6,808.04 106.1,808.04 106.25,808.06 106.39,808.11 106.54,808.2 106.68,808.31 106.83,808.47 106.98,808.65 107.12,808.87 107.27,809.12 107.42,809.41 107.56,809.72 107.71,810.07 107.86,810.45 108.01,810.87 108.15,811.31 108.3,811.79 108.45,812.29 108.6,812.83 108.75,813.39 108.9,813.99 109.05,814.61 109.2,815.26 109.35,815.94 109.5,816.64 109.66,817.37 109.81,818.13 109.96,818.91 110.12,819.72 110.27,820.55 110.43,821.4 110.58,822.28 110.74,823.17 110.9,824.09 111.05,825.03 111.21,825.99 111.37,826.97 111.53,827.97 111.69,828.99 111.85,830.02 112.02,831.08 112.18,832.14 112.34,833.23 112.51,834.33 112.68,835.44 112.84,836.57 113.01,837.71 113.18,838.87 113.35,840.03 113.52,841.21 113.69,842.4 113.86,843.6 114.04,844.81 114.21,846.03 114.39,847.26 114.56,848.5 114.74,849.75 114.92,851.01 115.1,852.27 115.28,853.54 115.46,854.81 115.64,856.09 115.83,857.38 116.01,858.67 116.2,859.97 116.39,861.27 116.58,862.58 116.77,863.89 116.96,865.2 117.15,866.52 117.34,867.84 117.54,869.16 117.73,870.48 117.93,871.81 118.13,873.13 118.33,874.46 118.53,875.79 118.73,877.12 118.94,878.45 119.14,879.79 119.35,881.12 119.56,882.45 119.76,883.78 119.97,885.11 120.19,886.44 120.4,887.77 120.61,889.1 120.83,890.43 121.05,891.75 121.26,893.08 121.48,894.4 121.7,895.72 121.93,897.04 122.15,898.35 122.38,899.67 122.6,900.98 122.83,902.29 123.06,903.6 123.29,904.9 123.52,906.2 123.76,907.5 123.99,908.79 124.23,910.09 124.47,911.38 124.71,912.66 124.95,913.95 125.19,915.23 125.44,916.5 125.68,917.77 125.93,919.04 126.18,920.31 126.43,921.57 126.68,922.83 126.93,924.08 127.19,925.33 127.45,926.58 127.7,927.82 127.96,929.06 128.22,930.3 128.49,931.53 128.75,932.75 129.02,933.98 129.28,935.2 129.55,936.41 129.82,937.62 130.09,938.83 130.37,940.03 130.64,941.23 130.92,942.42 131.2,943.61 131.48,944.8 131.76,945.98 132.04,947.16 132.32,948.33 132.61,949.5 132.9,950.66 133.19,951.82 133.48,952.98 133.77,954.13 134.06,955.28 134.36,956.42 134.66,957.56 134.96,958.7 135.26,959.83 135.56,960.95 135.86,962.07 136.17,963.19 136.47,964.31 136.78,965.42 137.09,966.52 137.4,967.62 137.72,968.72 138.03,969.81 138.35,970.9 138.67,971.99 138.99,973.07 139.31,974.14 139.63,975.22 139.96,976.28 140.29,977.35 140.61,978.41 140.94,979.47 141.28,980.52 141.61,981.57 141.94,982.61 142.28,983.65 142.62,984.69 142.96,985.72 143.3,986.75 143.65,987.77 143.99,988.79 144.34,989.81 144.69,990.82 145.04,991.83 145.39,992.83 145.74,993.84 146.1,994.83 146.45,995.83 146.81,996.82 147.17,997.8 147.53,998.79 147.9,999.76 148.26,1000.74 148.63,1001.71 149,1002.68 149.37,1003.64 149.74,1004.6 150.12,1005.56 150.49,1006.51 150.87,1007.46 151.25,1008.41 151.63,1009.35 152.01,1010.29 152.4,1011.23 152.78,1012.16 153.17,1013.09 153.56,1014.01 153.95,1014.93 154.34,1015.85 154.74,1016.77 155.13,1017.68 155.53,1018.59 155.93,1019.49 156.33,1020.4 156.74,1021.29 157.14,1022.19 157.55,1023.08 157.96,1023.97 158.37,1024.86 158.78,1025.74 159.19,1026.62 159.61,1027.49 160.03,1028.37 160.44,1029.24 160.86,1030.1 161.29,1030.97 161.71,1031.83 162.14,1032.68 162.56,1033.54 162.99,1034.39 163.42,1035.24 163.86,1036.08 164.29,1036.93 164.73,1037.77 165.17,1038.6 165.61,1039.44 166.05,1040.27 166.49,1041.1 166.94,1041.92 167.38,1042.74 167.83,1043.56 168.28,1044.38 168.73,1045.19 169.19,1046 169.64,1046.81 170.1,1047.62 170.56,1048.42 171.02,1049.22 171.48,1050.02 171.95,1050.81 172.41,1051.6 172.88,1052.39 173.35,1053.18 173.82,1053.96 174.3,1054.74 174.77,1055.52 175.25,1056.3 175.73,1057.07 176.21,1057.84 176.69,1058.61 177.17,1059.38 177.66,1060.14 178.15,1060.9 178.63,1061.66 179.13,1062.42 179.62,1063.17 180.11,1063.92 180.61,1064.67 181.11,1065.42 181.61,1066.16 182.11,1066.9 182.61,1067.64 183.12,1068.38 183.62,1069.11 184.13,1069.84 184.64,1070.57 185.15,1071.3 185.67,1072.03 186.18,1072.75 186.7,1073.47 187.22,1074.19 187.74,1074.9 188.27,1075.62 188.79,1076.33 189.32,1077.04 189.84,1077.74 190.37,1078.45 190.91,1079.15 191.44,1079.85 191.98,1080.55 192.51,1081.25 193.05,1081.94 193.59,1082.63 194.13,1083.32 194.68,1084.01 195.23,1084.7 195.77,1085.38 196.32,1086.06 196.87,1086.74 197.43,1087.42 197.98,1088.1 198.54,1088.77 199.1,1089.44 199.66,1090.11 200.22,1090.78 200.78,1091.44 201.35,1092.11 201.92,1092.77 202.49,1093.43 203.06,1094.09 203.63,1094.74 204.21,1095.4 204.78,1096.05 205.36,1096.7 205.94,1097.35 206.52,1097.99 207.11,1098.64 207.69,1099.28 208.28,1099.92 208.87,1100.56 209.46,1101.2 210.05,1101.84 210.65,1102.47 211.24,1103.1 211.84,1103.73 212.44,1104.36 213.04,1104.99 213.65,1105.61 214.25,1106.23 214.86,1106.86 215.47,1107.48 216.08,1108.09 216.69,1108.71 217.31,1109.32 217.92,1109.94 218.54,1110.55 219.16,1111.16 219.78,1111.77 220.41,1112.37 221.03,1112.98 221.66,1113.58 222.29,1114.18 222.92,1114.78 223.55,1115.38 224.18,1115.97 224.82,1116.57 225.46,1117.16 226.1,1117.75 226.74,1118.34 227.38,1118.93 228.03,1119.52 228.67,1120.1 229.32,1120.69 229.97,1121.27 230.62,1121.85 231.28,1122.43 231.94,1123.01 232.59,1123.58 233.25,1124.16 233.91,1124.73 234.58,1125.3 235.24,1125.87 235.91,1126.44 236.58,1127.01 237.25,1127.58 237.92,1128.14 238.59,1128.7 239.27,1129.26 239.95,1129.82 240.63,1130.38 241.31,1130.94 241.99,1131.5 242.68,1132.05 243.36,1132.6 244.05,1133.16 244.74,1133.71 245.43,1134.26 246.13,1134.8 246.82,1135.35 247.52,1135.89 248.22,1136.44 248.92,1136.98 249.62,1137.52 250.33,1138.06 251.04,1138.6 251.74,1139.13 252.46,1139.67 253.17,1140.2 253.88,1140.74 254.6,1141.27 255.31,1141.8 256.03,1142.33 256.76,1142.86 257.48,1143.38 258.2,1143.91 258.93,1144.43 259.66,1144.95 260.39,1145.48 261.12,1146 261.85,1146.51 262.59,1147.03 263.33,1147.55 264.07,1148.06 264.81,1148.58 265.55,1149.09 266.3,1149.6 267.04,1150.11 267.79,1150.62 268.54,1151.13 269.29,1151.64 270.05,1152.14 270.8,1152.65 271.56,1153.15 272.32,1153.65 273.08,1154.15 273.85,1154.65 274.61,1155.15 275.38,1155.65 276.15,1156.15 276.92,1156.64 277.69,1157.14 278.46,1157.63 279.24,1158.12 280.02,1158.61 280.79,1159.1 281.58,1159.59 282.36,1160.08 283.14,1160.57 283.93,1161.05 284.72,1161.54 285.51,1162.02 286.3,1162.5 287.1,1162.98 287.89,1163.46 288.69,1163.94 289.49,1164.42 290.29,1164.9 291.09,1165.37 291.9,1165.85 292.71,1166.32 293.51,1166.79 294.33,1167.27 295.14,1167.74 295.95,1168.21 296.77,1168.67 297.59,1169.14 298.41,1169.61 299.23,1170.07 300.05,1170.54 300.88,1171 301.7,1171.46 302.53,1171.93 303.36,1172.39 304.19,1172.85 305.03,1173.31 305.86,1173.76 306.7,1174.22 307.54,1174.68 308.38,1175.13 309.23,1175.58 310.07,1176.04 310.92,1176.49 311.77,1176.94 312.62,1177.39 313.47,1177.84 314.33,1178.29 315.18,1178.74 316.04,1179.18 316.9,1179.63 317.76,1180.07 318.62,1180.52 319.49,1180.96 320.36,1181.4 321.23,1181.84 322.1,1182.28 322.97,1182.72 323.84,1183.16 324.72,1183.6 325.6,1184.03 326.48,1184.47 327.36,1184.9 328.24,1185.34 329.13,1185.77 330.02,1186.2 330.91,1186.63 331.8,1187.06 332.69,1187.49 333.58,1187.92 334.48,1188.35 335.38,1188.78 336.28,1189.2 337.18,1189.63 338.08,1190.05 338.99,1190.47 339.9,1190.9 340.81,1191.32 341.72,1191.74 342.63,1192.16 343.55,1192.58 344.46,1193 345.38,1193.42 346.3,1193.83 347.22,1194.25 348.15,1194.67 349.07,1195.08 350,1195.49 350.93,1195.91 351.86,1196.32 352.79,1196.73 353.73,1197.14 354.67,1197.55 355.6,1197.96 356.55,1198.37 357.49,1198.78 358.43,1199.18 359.38,1199.59 360.33,1199.99 361.28,1200.4 362.23,1200.8 363.18,1201.2 364.13,1201.61 365.09,1202.01 366.05,1202.41 367.01,1202.81 367.97,1203.21 368.94,1203.61 369.9,1204 370.87,1204.4 371.84,1204.8 372.81,1205.19 373.79,1205.59 374.76,1205.98 375.74,1206.37 376.72,1206.77 377.7,1207.16 378.68,1207.55 379.67,1207.94 380.65,1208.33 381.64,1208.72 382.63,1209.11 383.62,1209.5 384.62,1209.88 385.61,1210.27 386.61,1210.65 387.61,1211.04 388.61,1211.42 389.61,1211.81 390.62,1212.19 391.62,1212.57 392.63,1212.95 393.64,1213.33 394.65,1213.71 395.67,1214.09 396.68,1214.47 397.7,1214.85 398.72,1215.23 399.74,1215.6 400.76,1215.98 401.79,1216.35 402.82,1216.73 403.84,1217.1 404.87,1217.48 405.91,1217.85 406.94,1218.22 407.98,1218.59 409.01,1218.96 410.05,1219.33 411.1,1219.7 412.14,1220.07 413.18,1220.44 414.23,1220.81 415.28,1221.18 416.33,1221.54 417.38,1221.91 418.44,1222.27 419.49,1222.64 420.55,1223 421.61,1223.36 422.67,1223.73 423.74,1224.09 424.8,1224.45 425.87,1224.81 426.94,1225.17 428.01,1225.53 429.08,1225.89 430.16,1226.25 431.23,1226.61 432.31,1226.96 433.39,1227.32 434.47,1227.68 435.56,1228.03 436.64,1228.39 437.73,1228.74 438.82,1229.09 439.91,1229.45 441,1229.8 442.1,1230.15 443.19,1230.5 444.29,1230.85 445.39,1231.2 446.49,1231.55 447.6,1231.9 448.7,1232.25 449.81,1232.6 450.92,1232.94 452.03,1233.29 453.15,1233.64 454.26,1233.98 455.38,1234.33 456.5,1234.67 457.62,1235.02 458.74,1235.36 459.86,1235.7 460.99,1236.05 462.12,1236.39 463.25,1236.73 464.38,1237.07 465.51,1237.41 466.65,1237.75 467.78,1238.09 468.92,1238.43 470.06,1238.76 471.21,1239.1 472.35,1239.44 473.5,1239.77 474.64,1240.11 475.79,1240.45 476.95,1240.78 478.1,1241.11 479.26,1241.45 480.41,1241.78 481.57,1242.11 482.73,1242.45 483.9,1242.78 485.06,1243.11 486.23,1243.44 487.4,1243.77 488.57,1244.1 489.74,1244.43 490.91,1244.76 492.09,1245.08 493.26,1245.41 494.44,1245.74 495.63,1246.07 496.81,1246.39 497.99,1246.72 499.18,1247.04 500.37,1247.37 501.56,1247.69 502.75,1248.01 503.95,1248.34 505.14,1248.66 506.34,1248.98 507.54,1249.3 508.74,1249.62 509.94,1249.94 511.15,1250.26 512.36,1250.58 513.57,1250.9 514.78,1251.22 515.99,1251.54 517.2,1251.86 518.42,1252.18 519.64,1252.49 520.86,1252.81 522.08,1253.12 523.3,1253.44 524.53,1253.75 525.76,1254.07 526.99,1254.38 528.22,1254.7 529.45,1255.01 530.68,1255.32 531.92,1255.63 533.16,1255.95 534.4,1256.26 535.64,1256.57 536.88,1256.88 538.13,1257.19 539.38,1257.5 540.63,1257.81 541.88,1258.11 543.13,1258.42 544.39,1258.73 545.64,1259.04 546.9,1259.34 548.16,1259.65 549.43,1259.96 550.69,1260.26 551.96,1260.57 553.22,1260.87 554.49,1261.18 555.76,1261.48 557.04,1261.78 558.31,1262.08 559.59,1262.39 560.87,1262.69 562.15,1262.99 563.43,1263.29 564.72,1263.59 566,1263.89 567.29,1264.19 568.58,1264.49 569.87,1264.79 571.17,1265.09 572.46,1265.39 573.76,1265.68 575.06,1265.98 576.36,1266.28 577.66,1266.58 578.97,1266.87 580.27,1267.17 581.58,1267.46 582.89,1267.76 584.21,1268.05 585.52,1268.35 586.84,1268.64 588.15,1268.93 589.47,1269.22 590.79,1269.52 592.12,1269.81 593.44,1270.1 594.77,1270.39 596.1,1270.68 597.43,1270.97 598.76,1271.26 600.1,1271.55 601.43,1271.84 602.77,1272.13 604.11,1272.42 605.45,1272.71 606.79,1272.99 608.14,1273.28 609.49,1273.57 610.84,1273.85 612.19,1274.14 613.54,1274.43 614.89,1274.71 616.25,1275 617.61,1275.28 618.97,1275.56 620.33,1275.85 621.7,1276.13 623.06,1276.41 624.43,1276.7 625.8,1276.98 627.17,1277.26 628.54,1277.54 629.92,1277.82 631.29,1278.1 632.67,1278.39 634.05,1278.67 635.43,1278.94 636.82,1279.22 638.2,1279.5 639.59,1279.78 640.98,1280.06 642.37,1280.34 643.77,1280.61 645.16,1280.89 646.56,1281.17 647.96,1281.44 649.36,1281.72 650.76,1282 652.17,1282.27 653.57,1282.55 654.98,1282.82 656.39,1283.1 657.8,1283.37 659.22,1283.64 660.63,1283.92 662.05,1284.19 663.47,1284.46 664.89,1284.73 666.31,1285 667.74,1285.28 669.16,1285.55 670.59,1285.82 672.02,1286.09 673.45,1286.36 674.89,1286.63 676.32,1286.9 677.76,1287.17 679.2,1287.43 680.64,1287.7 682.09,1287.97 683.53,1288.24 684.98,1288.51 686.43,1288.77 687.88,1289.04 689.33,1289.31 690.78,1289.57 692.24,1289.84 693.7,1290.1 695.16,1290.37 696.62,1290.63 698.08,1290.9 699.55,1291.16 701.01,1291.42 702.48,1291.69 703.95,1291.95 705.43,1292.21 706.9,1292.47 708.38,1292.74 709.86,1293 711.34,1293.26 712.82,1293.52 714.3,1293.78 715.79,1294.04 717.28,1294.3 718.77,1294.56 720.26,1294.82 721.75,1295.08 723.24,1295.34 724.74,1295.6 726.24,1295.85 727.74,1296.11 729.24,1296.37 730.75,1296.63 732.25,1296.88 733.76,1297.14 735.27,1297.4 736.78,1297.65 738.3,1297.91 739.81,1298.16 741.33,1298.42 742.85,1298.67 744.37,1298.93 745.89,1299.18 747.41,1299.44 748.94,1299.69 750.47,1299.94 752,1300.2 753.53,1300.45 755.06,1300.7 756.6,1300.95 758.14,1301.2 759.68,1301.45 761.22,1301.71 762.76,1301.96 764.31,1302.21 765.85,1302.46 767.4,1302.71 768.95,1302.96 770.5,1303.21 772.06,1303.46 773.61,1303.7 775.17,1303.95 776.73,1304.2 778.29,1304.45 779.86,1304.7 781.42,1304.94 782.99,1305.19 784.56,1305.44 786.13,1305.68 787.7,1305.93 789.2,1306.16 790.1,1306.3" fill="none" stroke="#000000" stroke-width="4.5" stroke-linejoin="round"/>
<polyline points="104.6,808.04 106.1,808.04 106.25,808.06 106.39,808.11 106.54,808.2 106.68,808.31 106.83,808.47 106.98,808.65 107.12,808.87 107.27,809.12 107.42,809.41 107.56,809.72 107.71,810.07 107.86,810.45 108.01,810.87 108.15,811.31 108.3,811.79 108.45,812.29 108.6,812.83 108.75,813.39 108.9,813.99 109.05,814.61 109.2,815.26 109.35,815.94 109.5,816.64 109.66,817.37 109.81,818.13 109.96,818.91 110.12,819.72 110.27,820.55 110.43,821.4 110.58,822.28 110.74,823.17 110.9,824.09 111.05,825.03 111.21,825.99 111.37,826.97 111.53,827.97 111.69,828.99 111.85,830.02 112.02,831.08 112.18,832.14 112.34,833.23 112.51,834.33 112.68,835.44 112.84,836.57 113.01,837.71 113.18,838.87 113.35,840.03 113.52,841.21 113.69,842.4 113.86,843.6 114.04,844.81 114.21,846.03 114.39,847.26 114.56,848.5 114.74,849.75 114.92,851.01 115.1,852.27 115.28,853.54 115.46,854.81 115.64,856.09 115.83,857.38 116.01,858.67 116.2,859.97 116.39,861.27 116.58,862.58 116.77,863.89 116.96,865.2 117.15,866.52 117.34,867.84 117.54,869.16 117.73,870.48 117.93,871.81 118.13,873.13 118.33,874.46 118.53,875.79 118.73,877.12 118.94,878.45 119.14,879.79 119.35,881.12 119.56,882.45 119.76,883.78 119.97,885.11 120.19,886.44 120.4,887.77 120.61,889.1 120.83,890.43 121.05,891.75 121.26,893.08 121.48,894.4 121.7,895.72 121.93,897.04 122.15,898.35 122.38,899.67 122.6,900.98 122.83,902.29 123.06,903.6 123.29,904.9 123.52,906.2 123.76,907.5 123.99,908.79 124.23,910.09 124.47,911.38 124.71,912.66 124.95,913.95 125.19,915.23 125.44,916.5 125.68,917.77 125.93,919.04 126.18,920.31 126.43,921.57 126.68,922.83 126.93,924.08 127.19,925.33 127.45,926.58 127.7,927.82 127.96,929.06 128.22,930.3 128.49,931.53 128.75,932.75 129.02,933.98 129.28,935.2 129.55,936.41 129.82,937.62 130.09,938.83 130.37,940.03 130.64,941.23 130.92,942.42 131.2,943.61 131.48,944.8 131.76,945.98 132.04,947.16 132.32,948.33 132.61,949.5 132.9,950.66 133.19,951.82 133.48,952.98 133.77,954.13 134.06,955.28 134.36,956.42 134.66,957.56 134.96,958.7 135.26,959.83 135.56,960.95 135.86,962.07 136.17,963.19 136.47,964.31 136.78,965.42 137.09,966.52 137.4,967.62 137.72,968.72 138.03,969.81 138.35,970.9 138.67,971.99 138.99,973.07 139.31,974.14 139.63,975.22 139.96,976.28 140.29,977.35 140.61,978.41 140.94,979.47 141.28,980.52 141.61,981.57 141.94,982.61 142.28,983.65 142.62,984.69 142.96,985.72 143.3,986.75 143.65,987.77 143.99,988.79 144.34,989.81 144.69,990.82 145.04,991.83 145.39,992.83 145.74,993.84 146.1,994.83 146.45,995.83 146.81,996.82 147.17,997.8 147.53,998.79 147.9,999.76 148.26,1000.74 148.63,1001.71 149,1002.68 149.37,1003.64 149.74,1004.6 150.12,1005.56 150.49,1006.51 150.87,1007.46 151.25,1008.41 151.63,1009.35 152.01,1010.29 152.4,1011.23 152.78,1012.16 153.17,1013.09 153.56,1014.01 153.95,1014.93 154.34,1015.85 154.74,1016.77 155.13,1017.68 155.53,1018.59 155.93,1019.49 156.33,1020.4 156.74,1021.29 157.14,1022.19 157.55,1023.08 157.96,1023.97 158.37,1024.86 158.78,1025.74 159.19,1026.62 159.61,1027.49 160.03,1028.37 160.44,1029.24 160.86,1030.1 161.29,1030.97 161.71,1031.83 162.14,1032.68 162.56,1033.54 162.99,1034.39 163.42,1035.24 163.86,1036.08 164.29,1036.93 164.73,1037.77 165.17,1038.6 165.61,1039.44 166.05,1040.27 166.49,1041.1 166.94,1041.92 167.38,1042.74 167.83,1043.56 168.28,1044.38 168.73,1045.19 169.19,1046 169.64,1046.81 170.1,1047.62 170.56,1048.42 171.02,1049.22 171.48,1050.02 171.95,1050.81 172.41,1051.6 172.88,1052.39 173.35,1053.18 173.82,1053.96 174.3,1054.74 174.77,1055.52 175.25,1056.3 175.73,1057.07 176.21,1057.84 176.69,1058.61 177.17,1059.38 177.66,1060.14 178.15,1060.9 178.63,1061.66 179.13,1062.42 179.62,1063.17 180.11,1063.92 180.61,1064.67 181.11,1065.42 181.61,1066.16 182.11,1066.9 182.61,1067.64 183.12,1068.38 183.62,1069.11 184.13,1069.84 184.64,1070.57 185.15,1071.3 185.67,1072.03 186.18,1072.75 186.7,1073.47 187.22,1074.19 187.74,1074.9 188.27,1075.62 188.79,1076.33 189.32,1077.04 189.84,1077.74 190.37,1078.45 190.91,1079.15 191.44,1079.85 191.98,1080.55 192.51,1081.25 193.05,1081.94 193.59,1082.63 194.13,1083.32 194.68,1084.01 195.23,1084.7 195.77,1085.38 196.32,1086.06 196.87,1086.74 197.43,1087.42 197.98,1088.1 198.54,1088.77 199.1,1089.44 199.66,1090.11 200.22,1090.78 200.78,1091.44 201.35,1092.11 201.92,1092.77 202.49,1093.43 203.06,1094.09 203.63,1094.74 204.21,1095.4 204.78,1096.05 205.36,1096.7 205.94,1097.35 206.52,1097.99 207.11,1098.64 207.69,1099.28 208.28,1099.92 208.87,1100.56 209.46,1101.2 210.05,1101.84 210.65,1102.47 211.24,1103.1 211.84,1103.73 212.44,1104.36 213.04,1104.99 213.65,1105.61 214.25,1106.23 214.86,1106.86 215.47,1107.48 216.08,1108.09 216.69,1108.71 217.31,1109.32 217.92,1109.94 218.54,1110.55 219.16,1111.16 219.78,1111.77 220.41,1112.37 221.03,1112.98 221.66,1113.58 222.29,1114.18 222.92,1114.78 223.55,1115.38 224.18,1115.97 224.82,1116.57 225.46,1117.16 226.1,1117.75 226.74,1118.34 227.38,1118.93 228.03,1119.52 228.67,1120.1 229.32,1120.69 229.97,1121.27 230.62,1121.85 231.28,1122.43 231.94,1123.01 232.59,1123.58 233.25,1124.16 233.91,1124.73 234.58,1125.3 235.24,1125.87 235.91,1126.44 236.58,1127.01 237.25,1127.58 237.92,1128.14 238.59,1128.7 239.27,1129.26 239.95,1129.82 240.63,1130.38 241.31,1130.94 241.99,1131.5 242.68,1132.05 243.36,1132.6 244.05,1133.16 244.74,1133.71 245.43,1134.26 246.13,1134.8 246.82,1135.35 247.52,1135.89 248.22,1136.44 248.92,1136.98 249.62,1137.52 250.33,1138.06 251.04,1138.6 251.74,1139.13 252.46,1139.67 253.17,1140.2 253.88,1140.74 254.6,1141.27 255.31,1141.8 256.03,1142.33 256.76,1142.86 257.48,1143.38 258.2,1143.91 258.93,1144.43 259.66,1144.95 260.39,1145.48 261.12,1146 261.85,1146.51 262.59,1147.03 263.33,1147.55 264.07,1148.06 264.81,1148.58 265.55,1149.09 266.3,1149.6 267.04,1150.11 267.79,1150.62 268.54,1151.13 269.29,1151.64 270.05,1152.14 270.8,1152.65 271.56,1153.15 272.32,1153.65 273.08,1154.15 273.85,1154.65 274.61,1155.15 275.38,1155.65 276.15,1156.15 276.92,1156.64 277.69,1157.14 278.46,1157.63 279.24,1158.12 280.02,1158.61 280.79,1159.1 281.58,1159.59 282.36,1160.08 283.14,1160.57 283.93,1161.05 284.72,1161.54 285.51,1162.02 286.3,1162.5 287.1,1162.98 287.89,1163.46 288.69,1163.94 289.49,1164.42 290.29,1164.9 291.09,1165.37 291.9,1165.85 292.71,1166.32 293.51,1166.79 294.33,1167.27 295.14,1167.74 295.95,1168.21 296.77,1168.67 297.59,1169.14 298.41,1169.61 299.23,1170.07 300.05,1170.54 300.88,1171 301.7,1171.46 302.53,1171.93 303.36,1172.39 304.19,1172.85 305.03,1173.31 305.86,1173.76 306.7,1174.22 307.54,1174.68 308.38,1175.13 309.23,1175.58 310.07,1176.04 310.92,1176.49 311.77,1176.94 312.62,1177.39 313.47,1177.84 314.33,1178.29 315.18,1178.74 316.04,1179.18 316.9,1179.63 317.76,1180.07 318.62,1180.52 319.49,1180.96 320.36,1181.4 321.23,1181.84 322.1,1182.28 322.97,1182.72 323.84,1183.16 324.72,1183.6 325.6,1184.03 326.48,1184.47 327.36,1184.9 328.24,1185.34 329.13,1185.77 330.02,1186.2 330.91,1186.63 331.8,1187.06 332.69,1187.49 333.58,1187.92 334.48,1188.35 335.38,1188.78 336.28,1189.2 337.18,1189.63 338.08,1190.05 338.99,1190.47 339.9,1190.9 340.81,1191.32 341.72,1191.74 342.63,1192.16 343.55,1192.58 344.46,1193 345.38,1193.42 346.3,1193.83 347.22,1194.25 348.15,1194.67 349.07,1195.08 350,1195.49 350.93,1195.91 351.86,1196.32 352.79,1196.73 353.73,1197.14 354.67,1197.55 355.6,1197.96 356.55,1198.37 357.49,1198.78 358.43,1199.18 359.38,1199.59 360.33,1199.99 361.28,1200.4 362.23,1200.8 363.18,1201.2 364.13,1201.61 365.09,1202.01 366.05,1202.41 367.01,1202.81 367.97,1203.21 368.94,1203.61 369.9,1204 370.87,1204.4 371.84,1204.8 372.81,1205.19 373.79,1205.59 374.76,1205.98 375.74,1206.37 376.72,1206.77 377.7,1207.16 378.68,1207.55 379.67,1207.94 380.65,1208.33 381.64,1208.72 382.63,1209.11 383.62,1209.5 384.62,1209.88 385.61,1210.27 386.61,1210.65 387.61,1211.04 388.61,1211.42 389.61,1211.81 390.62,1212.19 391.62,1212.57 392.63,1212.95 393.64,1213.33 394.65,1213.71 395.67,1214.09 396.68,1214.47 397.7,1214.85 398.72,1215.23 399.74,1215.6 400.76,1215.98 401.79,1216.35 402.82,1216.73 403.84,1217.1 404.87,1217.48 405.91,1217.85 406.94,1218.22 407.98,1218.59 409.01,1218.96 410.05,1219.33 411.1,1219.7 412.14,1220.07 413.18,1220.44 414.23,1220.81 415.28,1221.18 416.33,1221.54 417.38,1221.91 418.44,1222.27 419.49,1222.64 420.55,1223 421.61,1223.36 422.67,1223.73 423.74,1224.09 424.8,1224.45 425.87,1224.81 426.94,1225.17 428.01,1225.53 429.08,1225.89 430.16,1226.25 431.23,1226.61 432.31,1226.96 433.39,1227.32 434.47,1227.68 435.56,1228.03 436.64,1228.39 437.73,1228.74 438.82,1229.09 439.91,1229.45 441,1229.8 442.1,1230.15 443.19,1230.5 444.29,1230.85 445.39,1231.2 446.49,1231.55 447.6,1231.9 448.7,1232.25 449.81,1232.6 450.92,1232.94 452.03,1233.29 453.15,1233.64 454.26,1233.98 455.38,1234.33 456.5,1234.67 457.62,1235.02 458.74,1235.36 459.86,1235.7 460.99,1236.05 462.12,1236.39 463.25,1236.73 464.38,1237.07 465.51,1237.41 466.65,1237.75 467.78,1238.09 468.92,1238.43 470.06,1238.76 471.21,1239.1 472.35,1239.44 473.5,1239.77 474.64,1240.11 475.79,1240.45 476.95,1240.78 478.1,1241.11 479.26,1241.45 480.41,1241.78 481.57,1242.11 482.73,1242.45 483.9,1242.78 485.06,1243.11 486.23,1243.44 487.4,1243.77 488.57,1244.1 489.74,1244.43 490.91,1244.76 492.09,1245.08 493.26,1245.41 494.44,1245.74 495.63,1246.07 496.81,1246.39 497.99,1246.72 499.18,1247.04 500.37,1247.37 501.56,1247.69 502.75,1248.01 503.95,1248.34 505.14,1248.66 506.34,1248.98 507.54,1249.3 508.74,1249.62 509.94,1249.94 511.15,1250.26 512.36,1250.58 513.57,1250.9 514.78,1251.22 515.99,1251.54 517.2,1251.86 518.42,1252.18 519.64,1252.49 520.86,1252.81 522.08,1253.12 523.3,1253.44 524.53,1253.75 525.76,1254.07 526.99,1254.38 528.22,1254.7 529.45,1255.01 530.68,1255.32 531.92,1255.63 533.16,1255.95 534.4,1256.26 535.64,1256.57 536.88,1256.88 538.13,1257.19 539.38,1257.5 540.63,1257.81 541.88,1258.11 543.13,1258.42 544.39,1258.73 545.64,1259.04 546.9,1259.34 548.16,1259.65 549.43,1259.96 550.69,1260.26 551.96,1260.57 553.22,1260.87 554.49,1261.18 555.76,1261.48 557.04,1261.78 558.31,1262.08 559.59,1262.39 560.87,1262.69 562.15,1262.99 563.43,1263.29 564.72,1263.59 566,1263.89 567.29,1264.19 568.58,1264.49 569.87,1264.79 571.17,1265.09 572.46,1265.39 573.76,1265.68 575.06,1265.98 576.36,1266.28 577.66,1266.58 578.97,1266.87 580.27,1267.17 581.58,1267.46 582.89,1267.76 584.21,1268.05 585.52,1268.35 586.84,1268.64 588.15,1268.93 589.47,1269.22 590.79,1269.52 592.12,1269.81 593.44,1270.1 594.77,1270.39 596.1,1270.68 597.43,1270.97 598.76,1271.26 600.1,1271.55 601.43,1271.84 602.77,1272.13 604.11,1272.42 605.45,1272.71 606.79,1272.99 608.14,1273.28 609.49,1273.57 610.84,1273.85 612.19,1274.14 613.54,1274.43 614.89,1274.71 616.25,1275 617.61,1275.28 618.97,1275.56 620.33,1275.85 621.7,1276.13 623.06,1276.41 624.43,1276.7 625.8,1276.98 627.17,1277.26 628.54,1277.54 629.92,1277.82 631.29,1278.1 632.67,1278.39 634.05,1278.67 635.43,1278.94 636.82,1279.22 638.2,1279.5 639.59,1279.78 640.98,1280.06 642.37,1280.34 643.77,1280.61 645.16,1280.89 646.56,1281.17 647.96,1281.44 649.36,1281.72 650.76,1282 652.17,1282.27 653.57,1282.55 654.98,1282.82 656.39,1283.1 657.8,1283.37 659.22,1283.64 660.63,1283.92 662.05,1284.19 663.47,1284.46 664.89,1284.73 666.31,1285 667.74,1285.28 669.16,1285.55 670.59,1285.82 672.02,1286.09 673.45,1286.36 674.89,1286.63 676.32,1286.9 677.76,1287.17 679.2,1287.43 680.64,1287.7 682.09,1287.97 683.53,1288.24 684.98,1288.51 686.43,1288.77 687.88,1289.04 689.33,1289.31 690.78,1289.57 692.24,1289.84 693.7,1290.1 695.16,1290.37 696.62,1290.63 698.08,1290.9 699.55,1291.16 701.01,1291.42 702.48,1291.69 703.95,1291.95 705.43,1292.21 706.9,1292.47 708.38,1292.74 709.86,1293 711.34,1293.26 712.82,1293.52 714.3,1293.78 715.79,1294.04 717.28,1294.3 718.77,1294.56 720.26,1294.82 721.75,1295.08 723.24,1295.34 724.74,1295.6 726.24,1295.85 727.74,1296.11 729.24,1296.37 730.75,1296.63 732.25,1296.88 733.76,1297.14 735.27,1297.4 736.78,1297.65 738.3,1297.91 739.81,1298.16 741.33,1298.42 742.85,1298.67 744.37,1298.93 745.89,1299.18 747.41,1299.44 748.94,1299.69 750.47,1299.94 752,1300.2 753.53,1300.45 755.06,1300.7 756.6,1300.95 758.14,1301.2 759.68,1301.45 761.22,1301.71 762.76,1301.96 764.31,1302.21 765.85,1302.46 767.4,1302.71 768.95,1302.96 770.5,1303.21 772.06,1303.46 773.61,1303.7 775.17,1303.95 776.73,1304.2 778.29,1304.45 779.86,1304.7 781.42,1304.94 782.99,1305.19 784.56,1305.44 786.13,1305.68 787.7,1305.93 789.2,1306.16 790.1,1306.3" fill="none" stroke="#00ff00" stroke-width="4.5" stroke-linejoin="round" stroke-dasharray="17 17"/>
<polyline points="104.6,903.73 106.1,903.73 106.38,903.74 106.66,903.75 106.93,903.77 107.21,903.8 107.49,903.83 107.77,903.87 108.05,903.93 108.33,903.98 108.61,904.05 108.88,904.13 109.16,904.21 109.44,904.3 109.72,904.4 110,904.5 110.28,904.61 110.56,904.73 110.84,904.86 111.12,905 111.4,905.14 111.68,905.29 111.96,905.45 112.24,905.62 112.52,905.79 112.8,905.97 113.08,906.16 113.36,906.36 113.65,906.56 113.93,906.77 114.21,906.99 114.49,907.21 114.78,907.44 115.06,907.68 115.34,907.93 115.63,908.18 115.91,908.44 116.2,908.71 116.48,908.98 116.77,909.26 117.05,909.54 117.34,909.84 117.63,910.14 117.91,910.44 118.2,910.76 118.49,911.08 118.78,911.4 119.06,911.73 119.35,912.07 119.64,912.42 119.93,912.77 120.22,913.12 120.52,913.48 120.81,913.85 121.1,914.23 121.39,914.6 121.69,914.99 121.98,915.38 122.27,915.78 122.57,916.18 122.87,916.59 123.16,917 123.46,917.42 123.76,917.84 124.05,918.27 124.35,918.7 124.65,919.14 124.95,919.58 125.25,920.03 125.55,920.48 125.85,920.94 126.16,921.4 126.46,921.87 126.76,922.34 127.07,922.82 127.37,923.3 127.68,923.78 127.99,924.27 128.29,924.76 128.6,925.26 128.91,925.76 129.22,926.27 129.53,926.77 129.84,927.29 130.15,927.8 130.46,928.32 130.78,928.85 131.09,929.37 131.41,929.9 131.72,930.44 132.04,930.97 132.36,931.51 132.67,932.06 132.99,932.61 133.31,933.16 133.63,933.71 133.96,934.26 134.28,934.82 134.6,935.38 134.93,935.95 135.25,936.52 135.58,937.09 135.9,937.66 136.23,938.23 136.56,938.81 136.89,939.39 137.22,939.97 137.55,940.56 137.88,941.14 138.22,941.73 138.55,942.32 138.89,942.92 139.22,943.51 139.56,944.11 139.9,944.71 140.24,945.31 140.58,945.91 140.92,946.51 141.26,947.12 141.6,947.73 141.95,948.34 142.29,948.95 142.64,949.56 142.98,950.17 143.33,950.79 143.68,951.41 144.03,952.02 144.38,952.64 144.73,953.26 145.09,953.89 145.44,954.51 145.8,955.13 146.15,955.76 146.51,956.38 146.87,957.01 147.23,957.64 147.59,958.27 147.95,958.9 148.31,959.53 148.68,960.16 149.04,960.79 149.41,961.42 149.78,962.06 150.14,962.69 150.51,963.33 150.88,963.96 151.26,964.6 151.63,965.23 152,965.87 152.38,966.51 152.75,967.15 153.13,967.78 153.51,968.42 153.89,969.06 154.27,969.7 154.65,970.34 155.04,970.98 155.42,971.62 155.81,972.26 156.19,972.9 156.58,973.54 156.97,974.18 157.36,974.82 157.75,975.46 158.15,976.1 158.54,976.74 158.93,977.38 159.33,978.02 159.73,978.67 160.13,979.31 160.53,979.95 160.93,980.59 161.33,981.23 161.74,981.87 162.14,982.51 162.55,983.14 162.95,983.78 163.36,984.42 163.77,985.06 164.18,985.7 164.6,986.34 165.01,986.97 165.43,987.61 165.84,988.25 166.26,988.89 166.68,989.52 167.1,990.16 167.52,990.79 167.94,991.43 168.37,992.06 168.79,992.7 169.22,993.33 169.65,993.96 170.08,994.59 170.51,995.23 170.94,995.86 171.37,996.49 171.81,997.12 172.24,997.75 172.68,998.38 173.12,999.01 173.56,999.63 174,1000.26 174.44,1000.89 174.88,1001.51 175.33,1002.14 175.77,1002.76 176.22,1003.39 176.67,1004.01 177.12,1004.63 177.57,1005.25 178.03,1005.87 178.48,1006.49 178.94,1007.11 179.39,1007.73 179.85,1008.35 180.31,1008.97 180.77,1009.58 181.23,1010.2 181.7,1010.81 182.16,1011.43 182.63,1012.04 183.1,1012.65 183.57,1013.27 184.04,1013.88 184.51,1014.49 184.98,1015.1 185.46,1015.7 185.93,1016.31 186.41,1016.92 186.89,1017.52 187.37,1018.13 187.85,1018.73 188.34,1019.34 188.82,1019.94 189.31,1020.54 189.79,1021.14 190.28,1021.74 190.77,1022.34 191.26,1022.94 191.76,1023.53 192.25,1024.13 192.75,1024.72 193.25,1025.32 193.74,1025.91 194.24,1026.5 194.75,1027.09 195.25,1027.68 195.75,1028.27 196.26,1028.86 196.77,1029.45 197.27,1030.04 197.78,1030.62 198.3,1031.21 198.81,1031.79 199.32,1032.37 199.84,1032.96 200.36,1033.54 200.87,1034.12 201.39,1034.7 201.92,1035.27 202.44,1035.85 202.96,1036.43 203.49,1037 204.02,1037.58 204.55,1038.15 205.08,1038.72 205.61,1039.29 206.14,1039.86 206.67,1040.43 207.21,1041 207.75,1041.57 208.29,1042.14 208.83,1042.7 209.37,1043.27 209.91,1043.83 210.46,1044.39 211,1044.95 211.55,1045.51 212.1,1046.07 212.65,1046.63 213.2,1047.19 213.76,1047.75 214.31,1048.3 214.87,1048.86 215.43,1049.41 215.99,1049.96 216.55,1050.51 217.11,1051.06 217.67,1051.61 218.24,1052.16 218.81,1052.71 219.37,1053.26 219.94,1053.8 220.52,1054.35 221.09,1054.89 221.66,1055.43 222.24,1055.98 222.82,1056.52 223.4,1057.06 223.98,1057.6 224.56,1058.13 225.14,1058.67 225.73,1059.21 226.31,1059.74 226.9,1060.28 227.49,1060.81 228.08,1061.34 228.67,1061.87 229.27,1062.4 229.86,1062.93 230.46,1063.46 231.06,1063.99 231.66,1064.51 232.26,1065.04 232.86,1065.56 233.47,1066.09 234.07,1066.61 234.68,1067.13 235.29,1067.65 235.9,1068.17 236.51,1068.69 237.13,1069.21 237.74,1069.72 238.36,1070.24 238.98,1070.76 239.6,1071.27 240.22,1071.78 240.84,1072.29 241.46,1072.81 242.09,1073.32 242.72,1073.83 243.35,1074.33 243.98,1074.84 244.61,1075.35 245.24,1075.85 245.88,1076.36 246.51,1076.86 247.15,1077.36 247.79,1077.87 248.43,1078.37 249.07,1078.87 249.72,1079.37 250.36,1079.86 251.01,1080.36 251.66,1080.86 252.31,1081.35 252.96,1081.85 253.62,1082.34 254.27,1082.83 254.93,1083.32 255.59,1083.82 256.25,1084.3 256.91,1084.79 257.57,1085.28 258.23,1085.77 258.9,1086.26 259.57,1086.74 260.24,1087.23 260.91,1087.71 261.58,1088.19 262.25,1088.67 262.93,1089.15 263.6,1089.64 264.28,1090.11 264.96,1090.59 265.64,1091.07 266.33,1091.55 267.01,1092.02 267.7,1092.5 268.38,1092.97 269.07,1093.44 269.76,1093.92 270.46,1094.39 271.15,1094.86 271.85,1095.33 272.54,1095.8 273.24,1096.27 273.94,1096.73 274.64,1097.2 275.35,1097.66 276.05,1098.13 276.76,1098.59 277.47,1099.06 278.18,1099.52 278.89,1099.98 279.6,1100.44 280.31,1100.9 281.03,1101.36 281.75,1101.82 282.47,1102.27 283.19,1102.73 283.91,1103.18 284.63,1103.64 285.36,1104.09 286.08,1104.55 286.81,1105 287.54,1105.45 288.27,1105.9 289.01,1106.35 289.74,1106.8 290.48,1107.25 291.22,1107.69 291.96,1108.14 292.7,1108.59 293.44,1109.03 294.18,1109.48 294.93,1109.92 295.68,1110.36 296.43,1110.8 297.18,1111.25 297.93,1111.69 298.68,1112.12 299.44,1112.56 300.19,1113 300.95,1113.44 301.71,1113.88 302.47,1114.31 303.24,1114.75 304,1115.18 304.77,1115.61 305.54,1116.05 306.31,1116.48 307.08,1116.91 307.85,1117.34 308.62,1117.77 309.4,1118.2 310.18,1118.63 310.96,1119.05 311.74,1119.48 312.52,1119.9 313.3,1120.33 314.09,1120.75 314.88,1121.18 315.67,1121.6 316.46,1122.02 317.25,1122.44 318.04,1122.86 318.84,1123.28 319.63,1123.7 320.43,1124.12 321.23,1124.54 322.03,1124.96 322.84,1125.37 323.64,1125.79 324.45,1126.2 325.26,1126.62 326.06,1127.03 326.88,1127.44 327.69,1127.86 328.5,1128.27 329.32,1128.68 330.14,1129.09 330.96,1129.5 331.78,1129.91 332.6,1130.31 333.42,1130.72 334.25,1131.13 335.08,1131.53 335.9,1131.94 336.73,1132.34 337.57,1132.75 338.4,1133.15 339.24,1133.55 340.07,1133.95 340.91,1134.35 341.75,1134.75 342.59,1135.15 343.44,1135.55 344.28,1135.95 345.13,1136.35 345.98,1136.75 346.82,1137.14 347.68,1137.54 348.53,1137.93 349.38,1138.33 350.24,1138.72 351.1,1139.11 351.96,1139.51 352.82,1139.9 353.68,1140.29 354.55,1140.68 355.41,1141.07 356.28,1141.46 357.15,1141.85 358.02,1142.24 358.89,1142.62 359.76,1143.01 360.64,1143.4 361.52,1143.78 362.4,1144.17 363.28,1144.55 364.16,1144.93 365.04,1145.32 365.93,1145.7 366.81,1146.08 367.7,1146.46 368.59,1146.84 369.48,1147.22 370.38,1147.6 371.27,1147.98 372.17,1148.36 373.07,1148.73 373.97,1149.11 374.87,1149.49 375.77,1149.86 376.68,1150.24 377.58,1150.61 378.49,1150.98 379.4,1151.36 380.31,1151.73 381.23,1152.1 382.14,1152.47 383.06,1152.84 383.97,1153.21 384.89,1153.58 385.81,1153.95 386.74,1154.32 387.66,1154.69 388.59,1155.06 389.51,1155.42 390.44,1155.79 391.37,1156.15 392.31,1156.52 393.24,1156.88 394.18,1157.25 395.11,1157.61 396.05,1157.97 396.99,1158.33 397.93,1158.7 398.88,1159.06 399.82,1159.42 400.77,1159.78 401.72,1160.14 402.67,1160.49 403.62,1160.85 404.58,1161.21 405.53,1161.57 406.49,1161.92 407.45,1162.28 408.41,1162.63 409.37,1162.99 410.33,1163.34 411.3,1163.7 412.26,1164.05 413.23,1164.4 414.2,1164.75 415.17,1165.11 416.15,1165.46 417.12,1165.81 418.1,1166.16 419.08,1166.51 420.06,1166.86 421.04,1167.2 422.02,1167.55 423,1167.9 423.99,1168.25 424.98,1168.59 425.97,1168.94 426.96,1169.28 427.95,1169.63 428.95,1169.97 429.94,1170.31 430.94,1170.66 431.94,1171 432.94,1171.34 433.94,1171.68 434.95,1172.02 435.95,1172.37 436.96,1172.71 437.97,1173.04 438.98,1173.38 439.99,1173.72 441.01,1174.06 442.02,1174.4 443.04,1174.73 444.06,1175.07 445.08,1175.41 446.1,1175.74 447.13,1176.08 448.15,1176.41 449.18,1176.75 450.21,1177.08 451.24,1177.41 452.27,1177.74 453.31,1178.08 454.34,1178.41 455.38,1178.74 456.42,1179.07 457.46,1179.4 458.5,1179.73 459.54,1180.06 460.59,1180.39 461.64,1180.72 462.68,1181.04 463.73,1181.37 464.79,1181.7 465.84,1182.02 466.9,1182.35 467.95,1182.67 469.01,1183 470.07,1183.32 471.13,1183.65 472.2,1183.97 473.26,1184.29 474.33,1184.62 475.4,1184.94 476.47,1185.26 477.54,1185.58 478.61,1185.9 479.69,1186.22 480.76,1186.54 481.84,1186.86 482.92,1187.18 484,1187.5 485.09,1187.82 486.17,1188.13 487.26,1188.45 488.35,1188.77 489.44,1189.08 490.53,1189.4 491.62,1189.72 492.71,1190.03 493.81,1190.35 494.91,1190.66 496.01,1190.97 497.11,1191.29 498.21,1191.6 499.32,1191.91 500.42,1192.22 501.53,1192.53 502.64,1192.84 503.75,1193.16 504.87,1193.47 505.98,1193.78 507.1,1194.08 508.22,1194.39 509.33,1194.7 510.46,1195.01 511.58,1195.32 512.7,1195.62 513.83,1195.93 514.96,1196.24 516.09,1196.54 517.22,1196.85 518.35,1197.15 519.49,1197.46 520.62,1197.76 521.76,1198.07 522.9,1198.37 524.04,1198.67 525.18,1198.97 526.33,1199.28 527.47,1199.58 528.62,1199.88 529.77,1200.18 530.92,1200.48 532.07,1200.78 533.23,1201.08 534.38,1201.38 535.54,1201.68 536.7,1201.98 537.86,1202.28 539.02,1202.57 540.19,1202.87 541.35,1203.17 542.52,1203.46 543.69,1203.76 544.86,1204.06 546.03,1204.35 547.21,1204.65 548.38,1204.94 549.56,1205.23 550.74,1205.53 551.92,1205.82 553.1,1206.11 554.29,1206.41 555.47,1206.7 556.66,1206.99 557.85,1207.28 559.04,1207.57 560.23,1207.86 561.43,1208.15 562.62,1208.44 563.82,1208.73 565.02,1209.02 566.22,1209.31 567.42,1209.6 568.63,1209.89 569.83,1210.18 571.04,1210.46 572.25,1210.75 573.46,1211.04 574.67,1211.32 575.89,1211.61 577.1,1211.89 578.32,1212.18 579.54,1212.46 580.76,1212.75 581.98,1213.03 583.21,1213.31 584.43,1213.6 585.66,1213.88 586.89,1214.16 588.12,1214.45 589.35,1214.73 590.58,1215.01 591.82,1215.29 593.06,1215.57 594.3,1215.85 595.54,1216.13 596.78,1216.41 598.02,1216.69 599.27,1216.97 600.52,1217.25 601.77,1217.53 603.02,1217.8 604.27,1218.08 605.52,1218.36 606.78,1218.63 608.03,1218.91 609.29,1219.19 610.55,1219.46 611.82,1219.74 613.08,1220.01 614.35,1220.29 615.61,1220.56 616.88,1220.84 618.15,1221.11 619.43,1221.38 620.7,1221.66 621.97,1221.93 623.25,1222.2 624.53,1222.47 625.81,1222.75 627.09,1223.02 628.38,1223.29 629.66,1223.56 630.95,1223.83 632.24,1224.1 633.53,1224.37 634.82,1224.64 636.12,1224.91 637.41,1225.18 638.71,1225.44 640.01,1225.71 641.31,1225.98 642.61,1226.25 643.91,1226.51 645.22,1226.78 646.53,1227.05 647.84,1227.31 649.15,1227.58 650.46,1227.84 651.77,1228.11 653.09,1228.37 654.41,1228.64 655.72,1228.9 657.04,1229.17 658.37,1229.43 659.69,1229.69 661.02,1229.96 662.34,1230.22 663.67,1230.48 665,1230.74 666.34,1231 667.67,1231.27 669,1231.53 670.34,1231.79 671.68,1232.05 673.02,1232.31 674.36,1232.57 675.71,1232.83 677.05,1233.09 678.4,1233.35 679.75,1233.6 681.1,1233.86 682.45,1234.12 683.81,1234.38 685.16,1234.64 686.52,1234.89 687.88,1235.15 689.24,1235.41 690.6,1235.66 691.97,1235.92 693.33,1236.17 694.7,1236.43 696.07,1236.68 697.44,1236.94 698.81,1237.19 700.18,1237.45 701.56,1237.7 702.94,1237.95 704.32,1238.21 705.7,1238.46 707.08,1238.71 708.46,1238.96 709.85,1239.22 711.24,1239.47 712.63,1239.72 714.02,1239.97 715.41,1240.22 716.8,1240.47 718.2,1240.72 719.6,1240.97 720.99,1241.22 722.4,1241.47 723.8,1241.72 725.2,1241.97 726.61,1242.22 728.01,1242.47 729.42,1242.71 730.83,1242.96 732.25,1243.21 733.66,1243.46 735.08,1243.7 736.49,1243.95 737.91,1244.19 739.33,1244.44 740.76,1244.69 742.18,1244.93 743.61,1245.18 745.03,1245.42 746.46,1245.67 747.89,1245.91 749.33,1246.16 750.76,1246.4 752.2,1246.64 753.63,1246.89 755.07,1247.13 756.51,1247.37 757.96,1247.61 759.4,1247.86 760.85,1248.1 762.3,1248.34 763.74,1248.58 765.2,1248.82 766.65,1249.06 768.1,1249.3 769.56,1249.54 771.02,1249.78 772.48,1250.02 773.94,1250.26 775.4,1250.5 776.86,1250.74 778.33,1250.98 779.8,1251.22 781.27,1251.46 782.74,1251.69 784.21,1251.93 785.68,1252.17 787.16,1252.41 788.64,1252.64 789.2,1252.73 790.1,1252.88" fill="none" stroke="#0000ff" stroke-width="4.5" stroke-linejoin="round" stroke-dasharray="4.25 4.25"/>
<polyline points="104.6,903.73 106.1,903.73 106.38,903.74 106.66,903.75 106.93,903.77 107.21,903.8 107.49,903.83 107.77,903.87 108.05,903.93 108.33,903.98 108.61,904.05 108.88,904.13 109.16,904.21 109.44,904.3 109.72,904.4 110,904.5 110.28,904.61 110.56,904.73 110.84,904.86 111.12,905 111.4,905.14 111.68,905.29 111.96,905.45 112.24,905.62 112.52,905.79 112.8,905.97 113.08,906.16 113.36,906.36 113.65,906.56 113.93,906.77 114.21,906.99 114.49,907.21 114.78,907.44 115.06,907.68 115.34,907.93 115.63,908.18 115.91,908.44 116.2,908.71 116.48,908.98 116.77,909.26 117.05,909.54 117.34,909.84 117.63,910.14 117.91,910.44 118.2,910.76 118.49,911.08 118.78,911.4 119.06,911.73 119.35,912.07 119.64,912.42 119.93,912.77 120.22,913.12 120.52,913.48 120.81,913.85 121.1,914.23 121.39,914.6 121.69,914.99 121.98,915.38 122.27,915.78 122.57,916.18 122.87,916.59 123.16,917 123.46,917.42 123.76,917.84 124.05,918.27 124.35,918.7 124.65,919.14 124.95,919.58 125.25,920.03 125.55,920.48 125.85,920.94 126.16,921.4 126.46,921.87 126.76,922.34 127.07,922.82 127.37,923.3 127.68,923.78 127.99,924.27 128.29,924.76 128.6,925.26 128.91,925.76 129.22,926.27 129.53,926.77 129.84,927.29 130.15,927.8 130.46,928.32 130.78,928.85 131.09,929.37 131.41,929.9 131.72,930.44 132.04,930.97 132.36,931.51 132.67,932.06 132.99,932.61 133.31,933.16 133.63,933.71 133.96,934.26 134.28,934.82 134.6,935.38 134.93,935.95 135.25,936.52 135.58,937.09 135.9,937.66 136.23,938.23 136.56,938.81 136.89,939.39 137.22,939.97 137.55,940.56 137.88,941.14 138.22,941.73 138.55,942.32 138.89,942.92 139.22,943.51 139.56,944.11 139.9,944.71 140.24,945.31 140.58,945.91 140.92,946.51 141.26,947.12 141.6,947.73 141.95,948.34 142.29,948.95 142.64,949.56 142.98,950.17 143.33,950.79 143.68,951.41 144.03,952.02 144.38,952.64 144.73,953.26 145.09,953.89 145.44,954.51 145.8,955.13 146.15,955.76 146.51,956.38 146.87,957.01 147.23,957.64 147.59,958.27 147.95,958.9 148.31,959.53 148.68,960.16 149.04,960.79 149.41,961.42 149.78,962.06 150.14,962.69 150.51,963.33 150.88,963.96 151.26,964.6 151.63,965.23 152,965.87 152.38,966.51 152.75,967.15 153.13,967.78 153.51,968.42 153.89,969.06 154.27,969.7 154.65,970.34 155.04,970.98 155.42,971.62 155.81,972.26 156.19,972.9 156.58,973.54 156.97,974.18 157.36,974.82 157.75,975.46 158.15,976.1 158.54,976.74 158.93,977.38 159.33,978.02 159.73,978.67 160.13,979.31 160.53,979.95 160.93,980.59 161.33,981.23 161.74,981.87 162.14,982.51 162.55,983.14 162.95,983.78 163.36,984.42 163.77,985.06 164.18,985.7 164.6,986.34 165.01,986.97 165.43,987.61 165.84,988.25 166.26,988.89 166.68,989.52 167.1,990.16 167.52,990.79 167.94,991.43 168.37,992.06 168.79,992.7 169.22,993.33 169.65,993.96 170.08,994.59 170.51,995.23 170.94,995.86 171.37,996.49 171.81,997.12 172.24,997.75 172.68,998.38 173.12,999.01 173.56,999.63 174,1000.26 174.44,1000.89 174.88,1001.51 175.33,1002.14 175.77,1002.76 176.22,1003.39 176.67,1004.01 177.12,1004.63 177.57,1005.25 178.03,1005.87 178.48,1006.49 178.94,1007.11 179.39,1007.73 179.85,1008.35 180.31,1008.97 180.77,1009.58 181.23,1010.2 181.7,1010.81 182.16,1011.43 182.63,1012.04 183.1,1012.65 183.57,1013.27 184.04,1013.88 184.51,1014.49 184.98,1015.1 185.46,1015.7 185.93,1016.31 186.41,1016.92 186.89,1017.52 187.37,1018.13 187.85,1018.73 188.34,1019.34 188.82,1019.94 189.31,1020.54 189.79,1021.14 190.28,1021.74 190.77,1022.34 191.26,1022.94 191.76,1023.53 192.25,1024.13 192.75,1024.72 193.25,1025.32 193.74,1025.91 194.24,1026.5 194.75,1027.09 195.25,1027.68 195.75,1028.27 196.26,1028.86 196.77,1029.45 197.27,1030.04 197.78,1030.62 198.3,1031.21 198.81,1031.79 199.32,1032.37 199.84,1032.96 200.36,1033.54 200.87,1034.12 201.39,1034.7 201.92,1035.27 202.44,1035.85 202.96,1036.43 203.49,1037 204.02,1037.58 204.55,1038.15 205.08,1038.72 205.61,1039.29 206.14,1039.86 206.67,1040.43 207.21,1041 207.75,1041.57 208.29,1042.14 208.83,1042.7 209.37,1043.27 209.91,1043.83 210.46,1044.39 211,1044.95 211.55,1045.51 212.1,1046.07 212.65,1046.63 213.2,1047.19 213.76,1047.75 214.31,1048.3 214.87,1048.86 215.43,1049.41 215.99,1049.96 216.55,1050.51 217.11,1051.06 217.67,1051.61 218.24,1052.16 218.81,1052.71 219.37,1053.26 219.94,1053.8 220.52,1054.35 221.09,1054.89 221.66,1055.43 222.24,1055.98 222.82,1056.52 223.4,1057.06 223.98,1057.6 224.56,1058.13 225.14,1058.67 225.73,1059.21 226.31,1059.74 226.9,1060.28 227.49,1060.81 228.08,1061.34 228.67,1061.87 229.27,1062.4 229.86,1062.93 230.46,1063.46 231.06,1063.99 231.66,1064.51 232.26,1065.04 232.86,1065.56 233.47,1066.09 234.07,1066.61 234.68,1067.13 235.29,1067.65 235.9,1068.17 236.51,1068.69 237.13,1069.21 237.74,1069.72 238.36,1070.24 238.98,1070.76 239.6,1071.27 240.22,1071.78 240.84,1072.29 241.46,1072.81 242.09,1073.32 242.72,1073.83 243.35,1074.33 243.98,1074.84 244.61,1075.35 245.24,1075.85 245.88,1076.36 246.51,1076.86 247.15,1077.36 247.79,1077.87 248.43,1078.37 249.07,1078.87 249.72,1079.37 250.36,1079.86 251.01,1080.36 251.66,1080.86 252.31,1081.35 252.96,1081.85 253.62,1082.34 254.27,1082.83 254.93,1083.32 255.59,1083.82 256.25,1084.3 256.91,1084.79 257.57,1085.28 258.23,1085.77 258.9,1086.26 259.57,1086.74 260.24,1087.23 260.91,1087.71 261.58,1088.19 262.25,1088.67 262.93,1089.15 263.6,1089.64 264.28,1090.11 264.96,1090.59 265.64,1091.07 266.33,1091.55 267.01,1092.02 267.7,1092.5 268.38,1092.97 269.07,1093.44 269.76,1093.92 270.46,1094.39 271.15,1094.86 271.85,1095.33 272.54,1095.8 273.24,1096.27 273.94,1096.73 274.64,1097.2 275.35,1097.66 276.05,1098.13 276.76,1098.59 277.47,1099.06 278.18,1099.52 278.89,1099.98 279.6,1100.44 280.31,1100.9 281.03,1101.36 281.75,1101.82 282.47,1102.27 283.19,1102.73 283.91,1103.18 284.63,1103.64 285.36,1104.09 286.08,1104.55 286.81,1105 287.54,1105.45 288.27,1105.9 289.01,1106.35 289.74,1106.8 290.48,1107.25 291.22,1107.69 291.96,1108.14 292.7,1108.59 293.44,1109.03 294.18,1109.48 294.93,1109.92 295.68,1110.36 296.43,1110.8 297.18,1111.25 297.93,1111.69 298.68,1112.12 299.44,1112.56 300.19,1113 300.95,1113.44 301.71,1113.88 302.47,1114.31 303.24,1114.75 304,1115.18 304.77,1115.61 305.54,1116.05 306.31,1116.48 307.08,1116.91 307.85,1117.34 308.62,1117.77 309.4,1118.2 310.18,1118.63 310.96,1119.05 311.74,1119.48 312.52,1119.9 313.3,1120.33 314.09,1120.75 314.88,1121.18 315.67,1121.6 316.46,1122.02 317.25,1122.44 318.04,1122.86 318.84,1123.28 319.63,1123.7 320.43,1124.12 321.23,1124.54 322.03,1124.96 322.84,1125.37 323.64,1125.79 324.45,1126.2 325.26,1126.62 326.06,1127.03 326.88,1127.44 327.69,1127.86 328.5,1128.27 329.32,1128.68 330.14,1129.09 330.96,1129.5 331.78,1129.91 332.6,1130.31 333.42,1130.72 334.25,1131.13 335.08,1131.53 335.9,1131.94 336.73,1132.34 337.57,1132.75 338.4,1133.15 339.24,1133.55 340.07,1133.95 340.91,1134.35 341.75,1134.75 342.59,1135.15 343.44,1135.55 344.28,1135.95 345.13,1136.35 345.98,1136.75 346.82,1137.14 347.68,1137.54 348.53,1137.93 349.38,1138.33 350.24,1138.72 351.1,1139.11 351.96,1139.51 352.82,1139.9 353.68,1140.29 354.55,1140.68 355.41,1141.07 356.28,1141.46 357.15,1141.85 358.02,1142.24 358.89,1142.62 359.76,1143.01 360.64,1143.4 361.52,1143.78 362.4,1144.17 363.28,1144.55 364.16,1144.93 365.04,1145.32 365.93,1145.7 366.81,1146.08 367.7,1146.46 368.59,1146.84 369.48,1147.22 370.38,1147.6 371.27,1147.98 372.17,1148.36 373.07,1148.73 373.97,1149.11 374.87,1149.49 375.77,1149.86 376.68,1150.24 377.58,1150.61 378.49,1150.98 379.4,1151.36 380.31,1151.73 381.23,1152.1 382.14,1152.47 383.06,1152.84 383.97,1153.21 384.89,1153.58 385.81,1153.95 386.74,1154.32 387.66,1154.69 388.59,1155.06 389.51,1155.42 390.44,1155.79 391.37,1156.15 392.31,1156.52 393.24,1156.88 394.18,1157.25 395.11,1157.61 396.05,1157.97 396.99,1158.33 397.93,1158.7 398.88,1159.06 399.82,1159.42 400.77,1159.78 401.72,1160.14 402.67,1160.49 403.62,1160.85 404.58,1161.21 405.53,1161.57 406.49,1161.92 407.45,1162.28 408.41,1162.63 409.37,1162.99 410.33,1163.34 411.3,1163.7 412.26,1164.05 413.23,1164.4 414.2,1164.75 415.17,1165.11 416.15,1165.46 417.12,1165.81 418.1,1166.16 419.08,1166.51 420.06,1166.86 421.04,1167.2 422.02,1167.55 423,1167.9 423.99,1168.25 424.98,1168.59 425.97,1168.94 426.96,1169.28 427.95,1169.63 428.95,1169.97 429.94,1170.31 430.94,1170.66 431.94,1171 432.94,1171.34 433.94,1171.68 434.95,1172.02 435.95,1172.37 436.96,1172.71 437.97,1173.04 438.98,1173.38 439.99,1173.72 441.01,1174.06 442.02,1174.4 443.04,1174.73 444.06,1175.07 445.08,1175.41 446.1,1175.74 447.13,1176.08 448.15,1176.41 449.18,1176.75 450.21,1177.08 451.24,1177.41 452.27,1177.74 453.31,1178.08 454.34,1178.41 455.38,1178.74 456.42,1179.07 457.46,1179.4 458.5,1179.73 459.54,1180.06 460.59,1180.39 461.64,1180.72 462.68,1181.04 463.73,1181.37 464.79,1181.7 465.84,1182.02 466.9,1182.35 467.95,1182.67 469.01,1183 470.07,1183.32 471.13,1183.65 472.2,1183.97 473.26,1184.29 474.33,1184.62 475.4,1184.94 476.47,1185.26 477.54,1185.58 478.61,1185.9 479.69,1186.22 480.76,1186.54 481.84,1186.86 482.92,1187.18 484,1187.5 485.09,1187.82 486.17,1188.13 487.26,1188.45 488.35,1188.77 489.44,1189.08 490.53,1189.4 491.62,1189.72 492.71,1190.03 493.81,1190.35 494.91,1190.66 496.01,1190.97 497.11,1191.29 498.21,1191.6 499.32,1191.91 500.42,1192.22 501.53,1192.53 502.64,1192.84 503.75,1193.16 504.87,1193.47 505.98,1193.78 507.1,1194.08 508.22,1194.39 509.33,1194.7 510.46,1195.01 511.58,1195.32 512.7,1195.62 513.83,1195.93 514.96,1196.24 516.09,1196.54 517.22,1196.85 518.35,1197.15 519.49,1197.46 520.62,1197.76 521.76,1198.07 522.9,1198.37 524.04,1198.67 525.18,1198.97 526.33,1199.28 527.47,1199.58 528.62,1199.88 529.77,1200.18 530.92,1200.48 532.07,1200.78 533.23,1201.08 534.38,1201.38 535.54,1201.68 536.7,1201.98 537.86,1202.28 539.02,1202.57 540.19,1202.87 541.35,1203.17 542.52,1203.46 543.69,1203.76 544.86,1204.06 546.03,1204.35 547.21,1204.65 548.38,1204.94 549.56,1205.23 550.74,1205.53 551.92,1205.82 553.1,1206.11 554.29,1206.41 555.47,1206.7 556.66,1206.99 557.85,1207.28 559.04,1207.57 560.23,1207.86 561.43,1208.15 562.62,1208.44 563.82,1208.73 565.02,1209.02 566.22,1209.31 567.42,1209.6 568.63,1209.89 569.83,1210.18 571.04,1210.46 572.25,1210.75 573.46,1211.04 574.67,1211.32 575.89,1211.61 577.1,1211.89 578.32,1212.18 579.54,1212.46 580.76,1212.75 581.98,1213.03 583.21,1213.31 584.43,1213.6 585.66,1213.88 586.89,1214.16 588.12,1214.45 589.35,1214.73 590.58,1215.01 591.82,1215.29 593.06,1215.57 594.3,1215.85 595.54,1216.13 596.78,1216.41 598.02,1216.69 599.27,1216.97 600.52,1217.25 601.77,1217.53 603.02,1217.8 604.27,1218.08 605.52,1218.36 606.78,1218.63 608.03,1218.91 609.29,1219.19 610.55,1219.46 611.82,1219.74 613.08,1220.01 614.35,1220.29 615.61,1220.56 616.88,1220.84 618.15,1221.11 619.43,1221.38 620.7,1221.66 621.97,1221.93 623.25,1222.2 624.53,1222.47 625.81,1222.75 627.09,1223.02 628.38,1223.29 629.66,1223.56 630.95,1223.83 632.24,1224.1 633.53,1224.37 634.82,1224.64 636.12,1224.91 637.41,1225.18 638.71,1225.44 640.01,1225.71 641.31,1225.98 642.61,1226.25 643.91,1226.51 645.22,1226.78 646.53,1227.05 647.84,1227.31 649.15,1227.58 650.46,1227.84 651.77,1228.11 653.09,1228.37 654.41,1228.64 655.72,1228.9 657.04,1229.17 658.37,1229.43 659.69,1229.69 661.02,1229.96 662.34,1230.22 663.67,1230.48 665,1230.74 666.34,1231 667.67,1231.27 669,1231.53 670.34,1231.79 671.68,1232.05 673.02,1232.31 674.36,1232.57 675.71,1232.83 677.05,1233.09 678.4,1233.35 679.75,1233.6 681.1,1233.86 682.45,1234.12 683.81,1234.38 685.16,1234.64 686.52,1234.89 687.88,1235.15 689.24,1235.41 690.6,1235.66 691.97,1235.92 693.33,1236.17 694.7,1236.43 696.07,1236.68 697.44,1236.94 698.81,1237.19 700.18,1237.45 701.56,1237.7 702.94,1237.95 704.32,1238.21 705.7,1238.46 707.08,1238.71 708.46,1238.96 709.85,1239.22 711.24,1239.47 712.63,1239.72 714.02,1239.97 715.41,1240.22 716.8,1240.47 718.2,1240.72 719.6,1240.97 720.99,1241.22 722.4,1241.47 723.8,1241.72 725.2,1241.97 726.61,1242.22 728.01,1242.47 729.42,1242.71 730.83,1242.96 732.25,1243.21 733.66,1243.46 735.08,1243.7 736.49,1243.95 737.91,1244.19 739.33,1244.44 740.76,1244.69 742.18,1244.93 743.61,1245.18 745.03,1245.42 746.46,1245.67 747.89,1245.91 749.33,1246.16 750.76,1246.4 752.2,1246.64 753.63,1246.89 755.07,1247.13 756.51,1247.37 757.96,1247.61 759.4,1247.86 760.85,1248.1 762.3,1248.34 763.74,1248.58 765.2,1248.82 766.65,1249.06 768.1,1249.3 769.56,1249.54 771.02,1249.78 772.48,1250.02 773.94,1250.26 775.4,1250.5 776.86,1250.74 778.33,1250.98 779.8,1251.22 781.27,1251.46 782.74,1251.69 784.21,1251.93 785.68,1252.17 787.16,1252.41 788.64,1252.64 789.2,1252.73 790.1,1252.88" fill="none" stroke="#ff0000" stroke-width="4.5" stroke-linejoin="round" stroke-dasharray="17 4.25 8.5 4.25"/>
<text transform="translate(106.1 1346.3) scale(1 1.045)" font-size="30" text-anchor="middle" fill="#262626">0</text>
<text transform="translate(242.72 1346.3) scale(1 1.045)" font-size="30" text-anchor="middle" fill="#262626">100</text>
<text transform="translate(379.34 1346.3) scale(1 1.045)" font-size="30" text-anchor="middle" fill="#262626">200</text>
<text transform="translate(515.96 1346.3) scale(1 1.045)" font-size="30" text-anchor="middle" fill="#262626">300</text>
<text transform="translate(652.58 1346.3) scale(1 1.045)" font-size="30" text-anchor="middle" fill="#262626">400</text>
<text transform="translate(789.2 1346.3) scale(1 1.045)" font-size="30" text-anchor="middle" fill="#262626">500</text>
<text transform="translate(94.9 1318.05) scale(1 1.045)" font-size="30" text-anchor="end" fill="#262626">5</text>
<text transform="translate(94.9 1237.9) scale(1 1.045)" font-size="30" text-anchor="end" fill="#262626">6</text>
<text transform="translate(94.9 1157.74) scale(1 1.045)" font-size="30" text-anchor="end" fill="#262626">7</text>
<text transform="translate(94.9 1077.59) scale(1 1.045)" font-size="30" text-anchor="end" fill="#262626">8</text>
<text transform="translate(94.9 997.43) scale(1 1.045)" font-size="30" text-anchor="end" fill="#262626">9</text>
<text transform="translate(94.9 917.28) scale(1 1.045)" font-size="30" text-anchor="end" fill="#262626">10</text>
<text transform="translate(94.9 837.13) scale(1 1.045)" font-size="30" text-anchor="end" fill="#262626">11</text>
<text x="447.4" y="1388.7" font-size="32.8" text-anchor="middle" fill="#262626" xml:space="preserve">time (ps)</text>
<text x="32.7" y="1045.3" font-size="32.8" text-anchor="middle" fill="#262626" transform="rotate(-90 32.7 1045.3)" xml:space="preserve"><tspan>log</tspan><tspan dy="16.4" font-size="26.24">10</tspan><tspan dy="-16.4"> </tspan><tspan font-style="italic">(d|E|/dr)</tspan></text>
<text x="2.2" y="775.2" font-size="32.8" text-anchor="start" fill="#000" font-weight="bold" xml:space="preserve">(c)</text>
<path d="M473.9 854.3H537.4" stroke="#000000" stroke-width="4.5" fill="none"/>
<text x="541.3" y="858.92" font-size="23.1" text-anchor="start" fill="#000" xml:space="preserve"><tspan font-style="italic" font-family='"Liberation Serif", "DejaVu Serif", serif' font-size="23.56">σ</tspan><tspan dy="11.55" dx="2.08" font-size="18.48">r0</tspan><tspan dy="-11.55" dx="0.23"> = 2</tspan><tspan dx="1.39" font-style="italic" font-family='"Liberation Serif", "DejaVu Serif", serif' font-size="26.57">μ</tspan><tspan dx="0.81">m, simulation</tspan></text>
<path d="M473.9 895.3H537.4" stroke="#00ff00" stroke-width="4.5" fill="none" stroke-dasharray="17 17"/>
<text x="541.3" y="899.92" font-size="23.1" text-anchor="start" fill="#000" xml:space="preserve"><tspan font-style="italic" font-family='"Liberation Serif", "DejaVu Serif", serif' font-size="23.56">σ</tspan><tspan dy="11.55" dx="2.08" font-size="18.48">r0</tspan><tspan dy="-11.55" dx="0.23"> = 2</tspan><tspan dx="1.39" font-style="italic" font-family='"Liberation Serif", "DejaVu Serif", serif' font-size="26.57">μ</tspan><tspan dx="0.81">m, theory</tspan></text>
<path d="M473.9 936.1H537.4" stroke="#0000ff" stroke-width="4.5" fill="none" stroke-dasharray="4.25 4.25"/>
<text x="541.3" y="940.72" font-size="23.1" text-anchor="start" fill="#000" xml:space="preserve"><tspan font-style="italic" font-family='"Liberation Serif", "DejaVu Serif", serif' font-size="23.56">σ</tspan><tspan dy="11.55" dx="2.08" font-size="18.48">r0</tspan><tspan dy="-11.55" dx="0.23"> = 5</tspan><tspan dx="1.39" font-style="italic" font-family='"Liberation Serif", "DejaVu Serif", serif' font-size="26.57">μ</tspan><tspan dx="0.81">m, simulation</tspan></text>
<path d="M473.9 976.8H537.4" stroke="#ff0000" stroke-width="4.5" fill="none" stroke-dasharray="17 4.25 8.5 4.25"/>
<text x="541.3" y="981.42" font-size="23.1" text-anchor="start" fill="#000" xml:space="preserve"><tspan font-style="italic" font-family='"Liberation Serif", "DejaVu Serif", serif' font-size="23.56">σ</tspan><tspan dy="11.55" dx="2.08" font-size="18.48">r0</tspan><tspan dy="-11.55" dx="0.23"> = 5</tspan><tspan dx="1.39" font-style="italic" font-family='"Liberation Serif", "DejaVu Serif", serif' font-size="26.57">μ</tspan><tspan dx="0.81">m, theory</tspan></text>
<path d="M1013.37 1306.4v-8.57M1013.37 774.4v8.57M1150.1 1306.4v-8.57M1150.1 774.4v8.57M1286.82 1306.4v-8.57M1286.82 774.4v8.57M1423.55 1306.4v-8.57M1423.55 774.4v8.57M1560.27 1306.4v-8.57M1560.27 774.4v8.57M999.7 1209.67h8.57M1697 1209.67h-8.57M999.7 1112.95h8.57M1697 1112.95h-8.57M999.7 1016.22h8.57M1697 1016.22h-8.57M999.7 919.49h8.57M1697 919.49h-8.57M999.7 822.76h8.57M1697 822.76h-8.57" stroke="#262626" stroke-width="3" fill="none"/>
<rect x="999.7" y="774.4" width="697.3" height="532" fill="none" stroke="#262626" stroke-width="3"/>
<polyline points="1013.37,1306.4 1013.52,1290.75 1013.66,1275.11 1013.81,1259.53 1013.96,1244.01 1014.1,1228.58 1014.25,1213.26 1014.4,1198.08 1014.54,1183.05 1014.69,1168.2 1014.84,1153.54 1014.98,1139.09 1015.13,1124.87 1015.28,1110.91 1015.43,1097.21 1015.58,1083.78 1015.73,1070.66 1015.87,1057.84 1016.02,1045.34 1016.17,1033.17 1016.32,1021.34 1016.48,1009.86 1016.63,998.74 1016.78,987.99 1016.93,977.6 1017.08,967.6 1017.24,957.97 1017.39,948.72 1017.55,939.86 1017.7,931.38 1017.86,923.29 1018.01,915.58 1018.17,908.25 1018.33,901.3 1018.49,894.73 1018.65,888.53 1018.81,882.7 1018.97,877.23 1019.13,872.12 1019.29,867.36 1019.46,862.94 1019.62,858.86 1019.79,855.11 1019.95,851.68 1020.12,848.57 1020.29,845.76 1020.46,843.25 1020.63,841.03 1020.8,839.08 1020.97,837.41 1021.14,836.01 1021.31,834.85 1021.49,833.94 1021.66,833.27 1021.84,832.82 1022.02,832.59 1022.2,832.57 1022.38,832.75 1022.56,833.13 1022.74,833.69 1022.92,834.42 1023.11,835.32 1023.29,836.38 1023.48,837.6 1023.67,838.96 1023.86,840.45 1024.05,842.08 1024.24,843.83 1024.43,845.7 1024.62,847.68 1024.82,849.76 1025.02,851.94 1025.21,854.21 1025.41,856.56 1025.61,859 1025.81,861.51 1026.02,864.09 1026.22,866.74 1026.42,869.44 1026.63,872.2 1026.84,875.02 1027.05,877.88 1027.26,880.78 1027.47,883.72 1027.68,886.7 1027.9,889.71 1028.11,892.74 1028.33,895.81 1028.55,898.89 1028.77,902 1028.99,905.12 1029.21,908.25 1029.44,911.4 1029.66,914.55 1029.89,917.71 1030.12,920.88 1030.35,924.05 1030.58,927.22 1030.81,930.38 1031.04,933.55 1031.28,936.71 1031.52,939.86 1031.76,943.01 1032,946.15 1032.24,949.27 1032.48,952.39 1032.72,955.49 1032.97,958.58 1033.22,961.66 1033.47,964.72 1033.72,967.76 1033.97,970.78 1034.22,973.79 1034.48,976.78 1034.73,979.75 1034.99,982.7 1035.25,985.63 1035.51,988.54 1035.78,991.43 1036.04,994.29 1036.31,997.14 1036.57,999.96 1036.84,1002.76 1037.11,1005.53 1037.38,1008.28 1037.66,1011.01 1037.93,1013.72 1038.21,1016.4 1038.49,1019.05 1038.77,1021.69 1039.05,1024.3 1039.33,1026.88 1039.62,1029.44 1039.9,1031.98 1040.19,1034.49 1040.48,1036.98 1040.77,1039.44 1041.06,1041.88 1041.36,1044.29 1041.65,1046.68 1041.95,1049.05 1042.25,1051.39 1042.55,1053.71 1042.85,1056 1043.16,1058.28 1043.46,1060.52 1043.77,1062.75 1044.08,1064.95 1044.39,1067.12 1044.7,1069.28 1045.02,1071.41 1045.33,1073.52 1045.65,1075.61 1045.97,1077.67 1046.29,1079.71 1046.61,1081.73 1046.93,1083.73 1047.26,1085.71 1047.58,1087.66 1047.91,1089.6 1048.24,1091.51 1048.58,1093.4 1048.91,1095.27 1049.24,1097.12 1049.58,1098.96 1049.92,1100.77 1050.26,1102.56 1050.6,1104.33 1050.95,1106.08 1051.29,1107.81 1051.64,1109.53 1051.99,1111.22 1052.34,1112.9 1052.69,1114.55 1053.04,1116.19 1053.4,1117.81 1053.76,1119.42 1054.12,1121 1054.48,1122.57 1054.84,1124.12 1055.2,1125.66 1055.57,1127.17 1055.94,1128.68 1056.31,1130.16 1056.68,1131.63 1057.05,1133.08 1057.42,1134.51 1057.8,1135.94 1058.18,1137.34 1058.56,1138.73 1058.94,1140.1 1059.32,1141.46 1059.7,1142.81 1060.09,1144.14 1060.48,1145.45 1060.87,1146.75 1061.26,1148.04 1061.65,1149.31 1062.05,1150.57 1062.45,1151.82 1062.84,1153.05 1063.24,1154.27 1063.65,1155.48 1064.05,1156.67 1064.45,1157.85 1064.86,1159.02 1065.27,1160.17 1065.68,1161.31 1066.09,1162.44 1066.51,1163.56 1066.92,1164.67 1067.34,1165.77 1067.76,1166.85 1068.18,1167.92 1068.6,1168.98 1069.03,1170.03 1069.45,1171.07 1069.88,1172.1 1070.31,1173.11 1070.74,1174.12 1071.17,1175.12 1071.61,1176.1 1072.05,1177.08 1072.48,1178.04 1072.92,1179 1073.37,1179.94 1073.81,1180.88 1074.26,1181.81 1074.7,1182.72 1075.15,1183.63 1075.6,1184.53 1076.05,1185.42 1076.51,1186.3 1076.96,1187.17 1077.42,1188.03 1077.88,1188.88 1078.34,1189.73 1078.81,1190.56 1079.27,1191.39 1079.74,1192.21 1080.21,1193.02 1080.68,1193.83 1081.15,1194.62 1081.62,1195.41 1082.1,1196.19 1082.57,1196.96 1083.05,1197.73 1083.53,1198.48 1084.02,1199.23 1084.5,1199.98 1084.99,1200.71 1085.47,1201.44 1085.96,1202.16 1086.45,1202.87 1086.95,1203.58 1087.44,1204.28 1087.94,1204.97 1088.44,1205.66 1088.94,1206.34 1089.44,1207.01 1089.94,1207.68 1090.45,1208.34 1090.96,1209 1091.46,1209.64 1091.98,1210.29 1092.49,1210.92 1093,1211.55 1093.52,1212.18 1094.04,1212.79 1094.56,1213.41 1095.08,1214.01 1095.6,1214.62 1096.13,1215.21 1096.65,1215.8 1097.18,1216.39 1097.71,1216.97 1098.24,1217.54 1098.78,1218.11 1099.31,1218.67 1099.85,1219.23 1100.39,1219.78 1100.93,1220.33 1101.48,1220.88 1102.02,1221.41 1102.57,1221.95 1103.11,1222.48 1103.66,1223 1104.22,1223.52 1104.77,1224.04 1105.33,1224.55 1105.88,1225.05 1106.44,1225.55 1107,1226.05 1107.57,1226.54 1108.13,1227.03 1108.7,1227.51 1109.26,1227.99 1109.83,1228.47 1110.41,1228.94 1110.98,1229.41 1111.55,1229.87 1112.13,1230.33 1112.71,1230.78 1113.29,1231.23 1113.87,1231.68 1114.46,1232.13 1115.04,1232.56 1115.63,1233 1116.22,1233.43 1116.81,1233.86 1117.41,1234.29 1118,1234.71 1118.6,1235.13 1119.2,1235.54 1119.8,1235.95 1120.4,1236.36 1121,1236.76 1121.61,1237.16 1122.22,1237.56 1122.83,1237.95 1123.44,1238.34 1124.05,1238.73 1124.66,1239.12 1125.28,1239.5 1125.9,1239.87 1126.52,1240.25 1127.14,1240.62 1127.77,1240.99 1128.39,1241.36 1129.02,1241.72 1129.65,1242.08 1130.28,1242.44 1130.91,1242.79 1131.55,1243.14 1132.18,1243.49 1132.82,1243.83 1133.46,1244.18 1134.1,1244.52 1134.75,1244.86 1135.39,1245.19 1136.04,1245.52 1136.69,1245.85 1137.34,1246.18 1137.99,1246.5 1138.65,1246.83 1139.3,1247.14 1139.96,1247.46 1140.62,1247.78 1141.28,1248.09 1141.95,1248.4 1142.61,1248.7 1143.28,1249.01 1143.95,1249.31 1144.62,1249.61 1145.29,1249.91 1145.97,1250.2 1146.64,1250.5 1147.32,1250.79 1148,1251.08 1148.68,1251.36 1149.37,1251.65 1150.05,1251.93 1150.74,1252.21 1151.43,1252.49 1152.12,1252.77 1152.81,1253.04 1153.51,1253.31 1154.2,1253.58 1154.9,1253.85 1155.6,1254.12 1156.3,1254.38 1157.01,1254.64 1157.71,1254.9 1158.42,1255.16 1159.13,1255.42 1159.84,1255.67 1160.55,1255.92 1161.27,1256.17 1161.98,1256.42 1162.7,1256.67 1163.42,1256.91 1164.14,1257.16 1164.87,1257.4 1165.59,1257.64 1166.32,1257.88 1167.05,1258.11 1167.78,1258.35 1168.51,1258.58 1169.25,1258.81 1169.98,1259.04 1170.72,1259.27 1171.46,1259.5 1172.2,1259.72 1172.95,1259.95 1173.69,1260.17 1174.44,1260.39 1175.19,1260.61 1175.94,1260.83 1176.69,1261.04 1177.45,1261.26 1178.2,1261.47 1178.96,1261.68 1179.72,1261.89 1180.48,1262.1 1181.25,1262.31 1182.01,1262.51 1182.78,1262.72 1183.55,1262.92 1184.32,1263.12 1185.09,1263.32 1185.87,1263.52 1186.64,1263.72 1187.42,1263.91 1188.2,1264.11 1188.98,1264.3 1189.77,1264.49 1190.55,1264.68 1191.34,1264.87 1192.13,1265.06 1192.92,1265.25 1193.71,1265.43 1194.51,1265.62 1195.31,1265.8 1196.1,1265.98 1196.9,1266.17 1197.71,1266.35 1198.51,1266.52 1199.32,1266.7 1200.12,1266.88 1200.93,1267.05 1201.74,1267.23 1202.56,1267.4 1203.37,1267.57 1204.19,1267.74 1205.01,1267.91 1205.83,1268.08 1206.65,1268.25 1207.47,1268.41 1208.3,1268.58 1209.13,1268.74 1209.95,1268.91 1210.79,1269.07 1211.62,1269.23 1212.45,1269.39 1213.29,1269.55 1214.13,1269.71 1214.97,1269.86 1215.81,1270.02 1216.66,1270.17 1217.5,1270.33 1218.35,1270.48 1219.2,1270.63 1220.05,1270.78 1220.9,1270.93 1221.76,1271.08 1222.62,1271.23 1223.47,1271.38 1224.33,1271.52 1225.2,1271.67 1226.06,1271.82 1226.93,1271.96 1227.8,1272.1 1228.66,1272.24 1229.54,1272.39 1230.41,1272.53 1231.28,1272.66 1232.16,1272.8 1233.04,1272.94 1233.92,1273.08 1234.8,1273.21 1235.69,1273.35 1236.57,1273.48 1237.46,1273.62 1238.35,1273.75 1239.24,1273.88 1240.14,1274.01 1241.03,1274.14 1241.93,1274.27 1242.83,1274.4 1243.73,1274.53 1244.63,1274.66 1245.54,1274.79 1246.44,1274.91 1247.35,1275.04 1248.26,1275.16 1249.17,1275.29 1250.09,1275.41 1251,1275.53 1251.92,1275.65 1252.84,1275.77 1253.76,1275.89 1254.68,1276.01 1255.61,1276.13 1256.53,1276.25 1257.46,1276.37 1258.39,1276.48 1259.32,1276.6 1260.26,1276.72 1261.19,1276.83 1262.13,1276.94 1263.07,1277.06 1264.01,1277.17 1264.95,1277.28 1265.9,1277.39 1266.85,1277.5 1267.79,1277.62 1268.74,1277.72 1269.7,1277.83 1270.65,1277.94 1271.61,1278.05 1272.56,1278.16 1273.52,1278.26 1274.49,1278.37 1275.45,1278.48 1276.41,1278.58 1277.38,1278.68 1278.35,1278.79 1279.32,1278.89 1280.29,1278.99 1281.27,1279.1 1282.24,1279.2 1283.22,1279.3 1284.2,1279.4 1285.18,1279.5 1286.16,1279.6 1287.15,1279.7 1288.14,1279.79 1289.13,1279.89 1290.12,1279.99 1291.11,1280.08 1292.1,1280.18 1293.1,1280.28 1294.1,1280.37 1295.1,1280.47 1296.1,1280.56 1297.1,1280.65 1298.11,1280.75 1299.12,1280.84 1300.13,1280.93 1301.14,1281.02 1302.15,1281.11 1303.16,1281.2 1304.18,1281.29 1305.2,1281.38 1306.22,1281.47 1307.24,1281.56 1308.26,1281.65 1309.29,1281.74 1310.32,1281.82 1311.35,1281.91 1312.38,1282 1313.41,1282.08 1314.45,1282.17 1315.48,1282.25 1316.52,1282.34 1317.56,1282.42 1318.6,1282.51 1319.65,1282.59 1320.69,1282.67 1321.74,1282.75 1322.79,1282.84 1323.84,1282.92 1324.9,1283 1325.95,1283.08 1327.01,1283.16 1328.07,1283.24 1329.13,1283.32 1330.19,1283.4 1331.25,1283.48 1332.32,1283.55 1333.39,1283.63 1334.46,1283.71 1335.53,1283.79 1336.6,1283.86 1337.68,1283.94 1338.76,1284.02 1339.83,1284.09 1340.92,1284.17 1342,1284.24 1343.08,1284.32 1344.17,1284.39 1345.26,1284.46 1346.35,1284.54 1347.44,1284.61 1348.53,1284.68 1349.63,1284.75 1350.73,1284.83 1351.83,1284.9 1352.93,1284.97 1354.03,1285.04 1355.13,1285.11 1356.24,1285.18 1357.35,1285.25 1358.46,1285.32 1359.57,1285.39 1360.69,1285.46 1361.8,1285.53 1362.92,1285.59 1364.04,1285.66 1365.16,1285.73 1366.28,1285.8 1367.41,1285.86 1368.54,1285.93 1369.66,1286 1370.79,1286.06 1371.93,1286.13 1373.06,1286.19 1374.2,1286.26 1375.34,1286.32 1376.48,1286.39 1377.62,1286.45 1378.76,1286.51 1379.91,1286.58 1381.05,1286.64 1382.2,1286.7 1383.35,1286.76 1384.51,1286.83 1385.66,1286.89 1386.82,1286.95 1387.97,1287.01 1389.13,1287.07 1390.3,1287.13 1391.46,1287.19 1392.63,1287.25 1393.79,1287.31 1394.96,1287.37 1396.13,1287.43 1397.31,1287.49 1398.48,1287.55 1399.66,1287.61 1400.84,1287.67 1402.02,1287.73 1403.2,1287.78 1404.38,1287.84 1405.57,1287.9 1406.76,1287.95 1407.95,1288.01 1409.14,1288.07 1410.33,1288.12 1411.53,1288.18 1412.72,1288.24 1413.92,1288.29 1415.12,1288.35 1416.32,1288.4 1417.53,1288.46 1418.73,1288.51 1419.94,1288.56 1421.15,1288.62 1422.36,1288.67 1423.58,1288.72 1424.79,1288.78 1426.01,1288.83 1427.23,1288.88 1428.45,1288.94 1429.67,1288.99 1430.9,1289.04 1432.12,1289.09 1433.35,1289.14 1434.58,1289.19 1435.81,1289.25 1437.05,1289.3 1438.28,1289.35 1439.52,1289.4 1440.76,1289.45 1442,1289.5 1443.25,1289.55 1444.49,1289.6 1445.74,1289.65 1446.99,1289.7 1448.24,1289.74 1449.49,1289.79 1450.74,1289.84 1452,1289.89 1453.26,1289.94 1454.52,1289.99 1455.78,1290.03 1457.04,1290.08 1458.31,1290.13 1459.57,1290.17 1460.84,1290.22 1462.11,1290.27 1463.38,1290.31 1464.66,1290.36 1465.94,1290.41 1467.21,1290.45 1468.49,1290.5 1469.77,1290.54 1471.06,1290.59 1472.34,1290.63 1473.63,1290.68 1474.92,1290.72 1476.21,1290.77 1477.5,1290.81 1478.8,1290.86 1480.1,1290.9 1481.39,1290.94 1482.69,1290.99 1484,1291.03 1485.3,1291.07 1486.61,1291.12 1487.91,1291.16 1489.22,1291.2 1490.53,1291.25 1491.85,1291.29 1493.16,1291.33 1494.48,1291.37 1495.8,1291.41 1497.12,1291.45 1498.44,1291.5 1499.77,1291.54 1501.09,1291.58 1502.42,1291.62 1503.75,1291.66 1505.08,1291.7 1506.41,1291.74 1507.75,1291.78 1509.09,1291.82 1510.43,1291.86 1511.77,1291.9 1513.11,1291.94 1514.45,1291.98 1515.8,1292.02 1517.15,1292.06 1518.5,1292.1 1519.85,1292.14 1521.2,1292.17 1522.56,1292.21 1523.92,1292.25 1525.28,1292.29 1526.64,1292.33 1528,1292.37 1529.37,1292.4 1530.73,1292.44 1532.1,1292.48 1533.47,1292.52 1534.84,1292.55 1536.22,1292.59 1537.59,1292.63 1538.97,1292.66 1540.35,1292.7 1541.73,1292.74 1543.12,1292.77 1544.5,1292.81 1545.89,1292.84 1547.28,1292.88 1548.67,1292.92 1550.06,1292.95 1551.45,1292.99 1552.85,1293.02 1554.25,1293.06 1555.65,1293.09 1557.05,1293.13 1558.45,1293.16 1559.86,1293.2 1561.27,1293.23 1562.68,1293.27 1564.09,1293.3 1565.5,1293.33 1566.92,1293.37 1568.33,1293.4 1569.75,1293.43 1571.17,1293.47 1572.59,1293.5 1574.02,1293.53 1575.44,1293.57 1576.87,1293.6 1578.3,1293.63 1579.73,1293.67 1581.16,1293.7 1582.6,1293.73 1584.04,1293.76 1585.48,1293.8 1586.92,1293.83 1588.36,1293.86 1589.8,1293.89 1591.25,1293.92 1592.7,1293.96 1594.15,1293.99 1595.6,1294.02 1597.05,1294.05 1598.51,1294.08 1599.96,1294.11 1601.42,1294.14 1602.88,1294.17 1604.35,1294.2 1605.81,1294.24 1607.28,1294.27 1608.75,1294.3 1610.22,1294.33 1611.69,1294.36 1613.16,1294.39 1614.64,1294.42 1616.12,1294.45 1617.6,1294.48 1619.08,1294.51 1620.56,1294.53 1622.05,1294.56 1623.53,1294.59 1625.02,1294.62 1626.51,1294.65 1628,1294.68 1629.5,1294.71 1630.99,1294.74 1632.49,1294.77 1633.99,1294.8 1635.49,1294.82 1637,1294.85 1638.5,1294.88 1640.01,1294.91 1641.52,1294.94 1643.03,1294.96 1644.54,1294.99 1646.06,1295.02 1647.57,1295.05 1649.09,1295.07 1650.61,1295.1 1652.13,1295.13 1653.66,1295.16 1655.18,1295.18 1656.71,1295.21 1658.24,1295.24 1659.77,1295.26 1661.3,1295.29 1662.84,1295.32 1664.38,1295.34 1665.91,1295.37 1667.45,1295.4 1669,1295.42 1670.54,1295.45 1672.09,1295.48 1673.63,1295.5 1675.18,1295.53 1676.74,1295.55 1678.29,1295.58 1679.84,1295.6 1681.4,1295.63 1682.96,1295.66 1684.52,1295.68 1686.08,1295.71 1687.65,1295.73 1689.21,1295.76 1690.78,1295.78 1692.35,1295.81 1693.92,1295.83 1695.5,1295.86 1697,1295.88 1697.9,1295.89" fill="none" stroke="#0000ff" stroke-width="4.5" stroke-linejoin="round"/>
<polyline points="1013.37,1306.4 1013.65,1304.49 1013.93,1302.58 1014.21,1300.67 1014.49,1298.77 1014.76,1296.86 1015.04,1294.96 1015.32,1293.06 1015.6,1291.17 1015.88,1289.28 1016.16,1287.4 1016.44,1285.53 1016.72,1283.66 1017,1281.8 1017.28,1279.95 1017.55,1278.1 1017.83,1276.27 1018.11,1274.45 1018.39,1272.63 1018.67,1270.83 1018.95,1269.04 1019.24,1267.26 1019.52,1265.49 1019.8,1263.74 1020.08,1262 1020.36,1260.28 1020.64,1258.57 1020.92,1256.87 1021.21,1255.19 1021.49,1253.53 1021.77,1251.88 1022.05,1250.25 1022.34,1248.64 1022.62,1247.04 1022.91,1245.47 1023.19,1243.91 1023.48,1242.37 1023.76,1240.85 1024.05,1239.34 1024.33,1237.86 1024.62,1236.4 1024.91,1234.96 1025.19,1233.54 1025.48,1232.14 1025.77,1230.76 1026.06,1229.4 1026.35,1228.06 1026.64,1226.75 1026.93,1225.45 1027.22,1224.18 1027.51,1222.93 1027.8,1221.7 1028.09,1220.5 1028.38,1219.31 1028.68,1218.15 1028.97,1217.02 1029.26,1215.9 1029.56,1214.81 1029.85,1213.74 1030.15,1212.69 1030.45,1211.66 1030.74,1210.66 1031.04,1209.68 1031.34,1208.72 1031.64,1207.79 1031.94,1206.88 1032.24,1205.99 1032.54,1205.12 1032.84,1204.27 1033.14,1203.45 1033.44,1202.65 1033.75,1201.87 1034.05,1201.11 1034.36,1200.38 1034.66,1199.66 1034.97,1198.97 1035.27,1198.3 1035.58,1197.65 1035.89,1197.02 1036.2,1196.41 1036.51,1195.83 1036.82,1195.26 1037.13,1194.71 1037.44,1194.18 1037.76,1193.68 1038.07,1193.19 1038.38,1192.72 1038.7,1192.27 1039.02,1191.84 1039.33,1191.43 1039.65,1191.04 1039.97,1190.66 1040.29,1190.31 1040.61,1189.97 1040.93,1189.65 1041.25,1189.34 1041.57,1189.06 1041.9,1188.79 1042.22,1188.53 1042.55,1188.3 1042.87,1188.08 1043.2,1187.87 1043.53,1187.68 1043.86,1187.51 1044.19,1187.35 1044.52,1187.21 1044.85,1187.08 1045.18,1186.96 1045.51,1186.86 1045.85,1186.77 1046.18,1186.7 1046.52,1186.64 1046.86,1186.59 1047.2,1186.56 1047.54,1186.54 1047.88,1186.53 1048.22,1186.53 1048.56,1186.54 1048.9,1186.57 1049.25,1186.61 1049.59,1186.66 1049.94,1186.72 1050.28,1186.79 1050.63,1186.87 1050.98,1186.96 1051.33,1187.06 1051.68,1187.17 1052.04,1187.29 1052.39,1187.42 1052.74,1187.56 1053.1,1187.7 1053.46,1187.86 1053.81,1188.02 1054.17,1188.2 1054.53,1188.38 1054.89,1188.57 1055.26,1188.76 1055.62,1188.97 1055.98,1189.18 1056.35,1189.39 1056.71,1189.62 1057.08,1189.85 1057.45,1190.09 1057.82,1190.33 1058.19,1190.58 1058.56,1190.84 1058.94,1191.1 1059.31,1191.37 1059.69,1191.64 1060.06,1191.92 1060.44,1192.2 1060.82,1192.49 1061.2,1192.78 1061.58,1193.08 1061.96,1193.38 1062.35,1193.69 1062.73,1194 1063.12,1194.31 1063.5,1194.63 1063.89,1194.96 1064.28,1195.28 1064.67,1195.61 1065.07,1195.94 1065.46,1196.28 1065.85,1196.62 1066.25,1196.96 1066.64,1197.31 1067.04,1197.65 1067.44,1198 1067.84,1198.36 1068.24,1198.71 1068.65,1199.07 1069.05,1199.43 1069.46,1199.79 1069.86,1200.16 1070.27,1200.52 1070.68,1200.89 1071.09,1201.26 1071.5,1201.63 1071.91,1202 1072.33,1202.38 1072.74,1202.75 1073.16,1203.13 1073.58,1203.51 1074,1203.88 1074.42,1204.26 1074.84,1204.64 1075.26,1205.03 1075.69,1205.41 1076.11,1205.79 1076.54,1206.17 1076.97,1206.56 1077.4,1206.94 1077.83,1207.33 1078.26,1207.71 1078.69,1208.1 1079.13,1208.49 1079.56,1208.87 1080,1209.26 1080.44,1209.65 1080.88,1210.03 1081.32,1210.42 1081.76,1210.81 1082.21,1211.19 1082.65,1211.58 1083.1,1211.96 1083.55,1212.35 1084,1212.74 1084.45,1213.12 1084.9,1213.51 1085.35,1213.89 1085.81,1214.27 1086.26,1214.66 1086.72,1215.04 1087.18,1215.42 1087.64,1215.8 1088.1,1216.18 1088.56,1216.57 1089.03,1216.94 1089.49,1217.32 1089.96,1217.7 1090.43,1218.08 1090.9,1218.45 1091.37,1218.83 1091.84,1219.21 1092.32,1219.58 1092.79,1219.95 1093.27,1220.32 1093.75,1220.69 1094.23,1221.06 1094.71,1221.43 1095.19,1221.8 1095.67,1222.17 1096.16,1222.53 1096.64,1222.9 1097.13,1223.26 1097.62,1223.62 1098.11,1223.98 1098.6,1224.34 1099.1,1224.7 1099.59,1225.06 1100.09,1225.42 1100.59,1225.77 1101.08,1226.12 1101.58,1226.48 1102.09,1226.83 1102.59,1227.18 1103.09,1227.53 1103.6,1227.87 1104.11,1228.22 1104.62,1228.56 1105.13,1228.91 1105.64,1229.25 1106.15,1229.59 1106.67,1229.93 1107.18,1230.27 1107.7,1230.6 1108.22,1230.94 1108.74,1231.27 1109.26,1231.61 1109.79,1231.94 1110.31,1232.27 1110.84,1232.59 1111.36,1232.92 1111.89,1233.25 1112.42,1233.57 1112.96,1233.89 1113.49,1234.21 1114.02,1234.53 1114.56,1234.85 1115.1,1235.17 1115.64,1235.48 1116.18,1235.8 1116.72,1236.11 1117.27,1236.42 1117.81,1236.73 1118.36,1237.04 1118.91,1237.35 1119.46,1237.65 1120.01,1237.96 1120.56,1238.26 1121.11,1238.56 1121.67,1238.86 1122.23,1239.16 1122.78,1239.46 1123.34,1239.75 1123.91,1240.05 1124.47,1240.34 1125.03,1240.63 1125.6,1240.92 1126.17,1241.21 1126.73,1241.49 1127.31,1241.78 1127.88,1242.06 1128.45,1242.35 1129.03,1242.63 1129.6,1242.91 1130.18,1243.19 1130.76,1243.46 1131.34,1243.74 1131.92,1244.01 1132.51,1244.29 1133.09,1244.56 1133.68,1244.83 1134.27,1245.1 1134.86,1245.36 1135.45,1245.63 1136.04,1245.9 1136.63,1246.16 1137.23,1246.42 1137.83,1246.68 1138.43,1246.94 1139.03,1247.2 1139.63,1247.46 1140.23,1247.71 1140.84,1247.97 1141.44,1248.22 1142.05,1248.47 1142.66,1248.72 1143.27,1248.97 1143.89,1249.22 1144.5,1249.46 1145.12,1249.71 1145.73,1249.95 1146.35,1250.19 1146.97,1250.44 1147.59,1250.68 1148.22,1250.91 1148.84,1251.15 1149.47,1251.39 1150.09,1251.62 1150.72,1251.86 1151.36,1252.09 1151.99,1252.32 1152.62,1252.55 1153.26,1252.78 1153.89,1253.01 1154.53,1253.23 1155.17,1253.46 1155.81,1253.68 1156.46,1253.9 1157.1,1254.13 1157.75,1254.35 1158.4,1254.57 1159.05,1254.78 1159.7,1255 1160.35,1255.22 1161,1255.43 1161.66,1255.64 1162.32,1255.86 1162.97,1256.07 1163.63,1256.28 1164.3,1256.49 1164.96,1256.7 1165.62,1256.9 1166.29,1257.11 1166.96,1257.31 1167.63,1257.52 1168.3,1257.72 1168.97,1257.92 1169.65,1258.12 1170.32,1258.32 1171,1258.52 1171.68,1258.71 1172.36,1258.91 1173.04,1259.11 1173.72,1259.3 1174.41,1259.49 1175.09,1259.68 1175.78,1259.88 1176.47,1260.07 1177.16,1260.25 1177.86,1260.44 1178.55,1260.63 1179.25,1260.82 1179.94,1261 1180.64,1261.18 1181.34,1261.37 1182.05,1261.55 1182.75,1261.73 1183.46,1261.91 1184.16,1262.09 1184.87,1262.27 1185.58,1262.44 1186.29,1262.62 1187.01,1262.8 1187.72,1262.97 1188.44,1263.14 1189.15,1263.32 1189.87,1263.49 1190.6,1263.66 1191.32,1263.83 1192.04,1264 1192.77,1264.17 1193.5,1264.33 1194.22,1264.5 1194.96,1264.66 1195.69,1264.83 1196.42,1264.99 1197.16,1265.16 1197.89,1265.32 1198.63,1265.48 1199.37,1265.64 1200.11,1265.8 1200.86,1265.96 1201.6,1266.11 1202.35,1266.27 1203.1,1266.43 1203.85,1266.58 1204.6,1266.74 1205.35,1266.89 1206.1,1267.04 1206.86,1267.2 1207.62,1267.35 1208.38,1267.5 1209.14,1267.65 1209.9,1267.8 1210.66,1267.94 1211.43,1268.09 1212.19,1268.24 1212.96,1268.38 1213.73,1268.53 1214.51,1268.67 1215.28,1268.82 1216.05,1268.96 1216.83,1269.1 1217.61,1269.24 1218.39,1269.38 1219.17,1269.52 1219.95,1269.66 1220.74,1269.8 1221.52,1269.94 1222.31,1270.08 1223.1,1270.21 1223.89,1270.35 1224.68,1270.48 1225.48,1270.62 1226.27,1270.75 1227.07,1270.88 1227.87,1271.02 1228.67,1271.15 1229.47,1271.28 1230.28,1271.41 1231.08,1271.54 1231.89,1271.67 1232.7,1271.8 1233.51,1271.92 1234.32,1272.05 1235.13,1272.18 1235.95,1272.3 1236.76,1272.43 1237.58,1272.55 1238.4,1272.68 1239.22,1272.8 1240.05,1272.92 1240.87,1273.04 1241.7,1273.16 1242.52,1273.29 1243.35,1273.41 1244.19,1273.52 1245.02,1273.64 1245.85,1273.76 1246.69,1273.88 1247.53,1274 1248.36,1274.11 1249.21,1274.23 1250.05,1274.34 1250.89,1274.46 1251.74,1274.57 1252.58,1274.69 1253.43,1274.8 1254.28,1274.91 1255.14,1275.02 1255.99,1275.14 1256.84,1275.25 1257.7,1275.36 1258.56,1275.47 1259.42,1275.58 1260.28,1275.69 1261.14,1275.79 1262.01,1275.9 1262.88,1276.01 1263.74,1276.11 1264.61,1276.22 1265.49,1276.33 1266.36,1276.43 1267.23,1276.54 1268.11,1276.64 1268.99,1276.74 1269.87,1276.85 1270.75,1276.95 1271.63,1277.05 1272.51,1277.15 1273.4,1277.25 1274.29,1277.35 1275.18,1277.45 1276.07,1277.55 1276.96,1277.65 1277.85,1277.75 1278.75,1277.85 1279.65,1277.95 1280.55,1278.04 1281.45,1278.14 1282.35,1278.24 1283.25,1278.33 1284.16,1278.43 1285.07,1278.52 1285.97,1278.62 1286.88,1278.71 1287.8,1278.8 1288.71,1278.9 1289.63,1278.99 1290.54,1279.08 1291.46,1279.17 1292.38,1279.27 1293.3,1279.36 1294.23,1279.45 1295.15,1279.54 1296.08,1279.63 1297.01,1279.72 1297.94,1279.8 1298.87,1279.89 1299.8,1279.98 1300.73,1280.07 1301.67,1280.16 1302.61,1280.24 1303.55,1280.33 1304.49,1280.41 1305.43,1280.5 1306.38,1280.58 1307.32,1280.67 1308.27,1280.75 1309.22,1280.84 1310.17,1280.92 1311.12,1281 1312.08,1281.09 1313.03,1281.17 1313.99,1281.25 1314.95,1281.33 1315.91,1281.41 1316.87,1281.5 1317.84,1281.58 1318.8,1281.66 1319.77,1281.74 1320.74,1281.82 1321.71,1281.89 1322.68,1281.97 1323.66,1282.05 1324.63,1282.13 1325.61,1282.21 1326.59,1282.28 1327.57,1282.36 1328.55,1282.44 1329.54,1282.51 1330.52,1282.59 1331.51,1282.67 1332.5,1282.74 1333.49,1282.82 1334.48,1282.89 1335.47,1282.96 1336.47,1283.04 1337.46,1283.11 1338.46,1283.18 1339.46,1283.26 1340.47,1283.33 1341.47,1283.4 1342.47,1283.47 1343.48,1283.55 1344.49,1283.62 1345.5,1283.69 1346.51,1283.76 1347.52,1283.83 1348.54,1283.9 1349.56,1283.97 1350.57,1284.04 1351.59,1284.11 1352.61,1284.17 1353.64,1284.24 1354.66,1284.31 1355.69,1284.38 1356.72,1284.45 1357.75,1284.51 1358.78,1284.58 1359.81,1284.65 1360.85,1284.71 1361.88,1284.78 1362.92,1284.85 1363.96,1284.91 1365,1284.98 1366.04,1285.04 1367.09,1285.11 1368.13,1285.17 1369.18,1285.23 1370.23,1285.3 1371.28,1285.36 1372.34,1285.43 1373.39,1285.49 1374.45,1285.55 1375.5,1285.61 1376.56,1285.68 1377.62,1285.74 1378.69,1285.8 1379.75,1285.86 1380.82,1285.92 1381.88,1285.98 1382.95,1286.04 1384.02,1286.1 1385.1,1286.16 1386.17,1286.22 1387.25,1286.28 1388.32,1286.34 1389.4,1286.4 1390.48,1286.46 1391.57,1286.52 1392.65,1286.58 1393.74,1286.63 1394.82,1286.69 1395.91,1286.75 1397,1286.81 1398.1,1286.86 1399.19,1286.92 1400.29,1286.98 1401.38,1287.03 1402.48,1287.09 1403.58,1287.15 1404.68,1287.2 1405.79,1287.26 1406.89,1287.31 1408,1287.37 1409.11,1287.42 1410.22,1287.48 1411.33,1287.53 1412.45,1287.59 1413.56,1287.64 1414.68,1287.69 1415.8,1287.75 1416.92,1287.8 1418.04,1287.85 1419.16,1287.91 1420.29,1287.96 1421.42,1288.01 1422.55,1288.06 1423.68,1288.11 1424.81,1288.17 1425.94,1288.22 1427.08,1288.27 1428.21,1288.32 1429.35,1288.37 1430.49,1288.42 1431.63,1288.47 1432.78,1288.52 1433.92,1288.57 1435.07,1288.62 1436.22,1288.67 1437.37,1288.72 1438.52,1288.77 1439.67,1288.82 1440.83,1288.87 1441.99,1288.92 1443.15,1288.96 1444.31,1289.01 1445.47,1289.06 1446.63,1289.11 1447.8,1289.16 1448.96,1289.2 1450.13,1289.25 1451.3,1289.3 1452.47,1289.35 1453.65,1289.39 1454.82,1289.44 1456,1289.49 1457.18,1289.53 1458.36,1289.58 1459.54,1289.62 1460.72,1289.67 1461.91,1289.71 1463.09,1289.76 1464.28,1289.8 1465.47,1289.85 1466.66,1289.89 1467.86,1289.94 1469.05,1289.98 1470.25,1290.03 1471.45,1290.07 1472.65,1290.12 1473.85,1290.16 1475.05,1290.2 1476.26,1290.25 1477.46,1290.29 1478.67,1290.33 1479.88,1290.37 1481.09,1290.42 1482.31,1290.46 1483.52,1290.5 1484.74,1290.54 1485.96,1290.59 1487.18,1290.63 1488.4,1290.67 1489.62,1290.71 1490.85,1290.75 1492.07,1290.79 1493.3,1290.84 1494.53,1290.88 1495.76,1290.92 1497,1290.96 1498.23,1291 1499.47,1291.04 1500.71,1291.08 1501.95,1291.12 1503.19,1291.16 1504.43,1291.2 1505.68,1291.24 1506.92,1291.28 1508.17,1291.32 1509.42,1291.36 1510.67,1291.39 1511.93,1291.43 1513.18,1291.47 1514.44,1291.51 1515.69,1291.55 1516.95,1291.59 1518.22,1291.62 1519.48,1291.66 1520.74,1291.7 1522.01,1291.74 1523.28,1291.78 1524.55,1291.81 1525.82,1291.85 1527.09,1291.89 1528.37,1291.92 1529.65,1291.96 1530.92,1292 1532.2,1292.03 1533.49,1292.07 1534.77,1292.11 1536.05,1292.14 1537.34,1292.18 1538.63,1292.21 1539.92,1292.25 1541.21,1292.29 1542.5,1292.32 1543.8,1292.36 1545.09,1292.39 1546.39,1292.43 1547.69,1292.46 1548.99,1292.5 1550.3,1292.53 1551.6,1292.57 1552.91,1292.6 1554.22,1292.64 1555.53,1292.67 1556.84,1292.7 1558.15,1292.74 1559.47,1292.77 1560.78,1292.8 1562.1,1292.84 1563.42,1292.87 1564.74,1292.91 1566.07,1292.94 1567.39,1292.97 1568.72,1293 1570.05,1293.04 1571.38,1293.07 1572.71,1293.1 1574.04,1293.14 1575.38,1293.17 1576.71,1293.2 1578.05,1293.23 1579.39,1293.26 1580.73,1293.3 1582.08,1293.33 1583.42,1293.36 1584.77,1293.39 1586.11,1293.42 1587.46,1293.45 1588.82,1293.49 1590.17,1293.52 1591.52,1293.55 1592.88,1293.58 1594.24,1293.61 1595.6,1293.64 1596.96,1293.67 1598.32,1293.7 1599.69,1293.73 1601.06,1293.76 1602.42,1293.79 1603.8,1293.82 1605.17,1293.85 1606.54,1293.88 1607.92,1293.91 1609.29,1293.94 1610.67,1293.97 1612.05,1294 1613.43,1294.03 1614.82,1294.06 1616.2,1294.09 1617.59,1294.12 1618.98,1294.15 1620.37,1294.18 1621.76,1294.2 1623.15,1294.23 1624.55,1294.26 1625.94,1294.29 1627.34,1294.32 1628.74,1294.35 1630.14,1294.37 1631.55,1294.4 1632.95,1294.43 1634.36,1294.46 1635.77,1294.49 1637.18,1294.51 1638.59,1294.54 1640,1294.57 1641.42,1294.6 1642.84,1294.62 1644.25,1294.65 1645.67,1294.68 1647.1,1294.7 1648.52,1294.73 1649.94,1294.76 1651.37,1294.79 1652.8,1294.81 1654.23,1294.84 1655.66,1294.87 1657.1,1294.89 1658.53,1294.92 1659.97,1294.94 1661.41,1294.97 1662.85,1295 1664.29,1295.02 1665.73,1295.05 1667.18,1295.07 1668.63,1295.1 1670.07,1295.13 1671.52,1295.15 1672.98,1295.18 1674.43,1295.2 1675.89,1295.23 1677.34,1295.25 1678.8,1295.28 1680.26,1295.3 1681.72,1295.33 1683.19,1295.35 1684.65,1295.38 1686.12,1295.4 1687.59,1295.43 1689.06,1295.45 1690.53,1295.47 1692.01,1295.5 1693.48,1295.52 1694.96,1295.55 1696.44,1295.57 1697,1295.58 1697.9,1295.6" fill="none" stroke="#ff0000" stroke-width="4.5" stroke-linejoin="round" stroke-dasharray="4.25 4.25"/>
<polyline points="1026.57,774 1026.6,775.24 1026.67,777.87 1026.73,780.51 1026.8,783.17 1026.87,785.83 1026.94,788.5 1027.01,791.18 1027.08,793.87 1027.15,796.56 1027.23,799.26 1027.3,801.96 1027.38,804.67 1027.45,807.39 1027.53,810.1 1027.61,812.82 1027.69,815.54 1027.77,818.27 1027.85,820.99 1027.93,823.72 1028.01,826.45 1028.09,829.17 1028.18,831.9 1028.26,834.62 1028.35,837.34 1028.44,840.06 1028.53,842.78 1028.62,845.49 1028.71,848.2 1028.8,850.91 1028.89,853.61 1028.98,856.31 1029.08,859 1029.17,861.69 1029.27,864.37 1029.36,867.04 1029.46,869.7 1029.56,872.36 1029.66,875.02 1029.76,877.66 1029.86,880.3 1029.96,882.92 1030.07,885.54 1030.17,888.15 1030.28,890.75 1030.38,893.34 1030.49,895.93 1030.6,898.5 1030.71,901.06 1030.82,903.61 1030.93,906.15 1031.04,908.68 1031.15,911.2 1031.26,913.71 1031.38,916.2 1031.49,918.69 1031.61,921.16 1031.73,923.62 1031.85,926.07 1031.96,928.51 1032.08,930.93 1032.21,933.34 1032.33,935.74 1032.45,938.13 1032.57,940.5 1032.7,942.87 1032.82,945.21 1032.95,947.55 1033.08,949.87 1033.21,952.18 1033.34,954.48 1033.47,956.76 1033.6,959.03 1033.73,961.29 1033.86,963.53 1034,965.76 1034.13,967.97 1034.27,970.17 1034.41,972.36 1034.54,974.54 1034.68,976.7 1034.82,978.84 1034.96,980.98 1035.1,983.1 1035.25,985.2 1035.39,987.29 1035.53,989.37 1035.68,991.44 1035.83,993.49 1035.97,995.53 1036.12,997.55 1036.27,999.56 1036.42,1001.56 1036.57,1003.54 1036.72,1005.51 1036.87,1007.46 1037.03,1009.41 1037.18,1011.34 1037.34,1013.25 1037.5,1015.15 1037.65,1017.04 1037.81,1018.92 1037.97,1020.78 1038.13,1022.63 1038.29,1024.46 1038.45,1026.28 1038.62,1028.09 1038.78,1029.89 1038.95,1031.67 1039.11,1033.44 1039.28,1035.2 1039.45,1036.94 1039.61,1038.67 1039.78,1040.39 1039.95,1042.1 1040.13,1043.79 1040.3,1045.47 1040.47,1047.14 1040.65,1048.8 1040.82,1050.44 1041,1052.08 1041.17,1053.7 1041.35,1055.3 1041.53,1056.9 1041.71,1058.48 1041.89,1060.05 1042.07,1061.61 1042.26,1063.16 1042.44,1064.7 1042.62,1066.22 1042.81,1067.73 1043,1069.24 1043.18,1070.73 1043.37,1072.21 1043.56,1073.67 1043.75,1075.13 1043.94,1076.58 1044.13,1078.01 1044.33,1079.43 1044.52,1080.85 1044.72,1082.25 1044.91,1083.64 1045.11,1085.02 1045.31,1086.39 1045.5,1087.75 1045.7,1089.1 1045.9,1090.44 1046.11,1091.76 1046.31,1093.08 1046.51,1094.39 1046.72,1095.69 1046.92,1096.98 1047.13,1098.26 1047.33,1099.52 1047.54,1100.78 1047.75,1102.03 1047.96,1103.27 1048.17,1104.5 1048.38,1105.72 1048.59,1106.93 1048.81,1108.13 1049.02,1109.33 1049.24,1110.51 1049.45,1111.68 1049.67,1112.85 1049.89,1114.01 1050.11,1115.15 1050.33,1116.29 1050.55,1117.42 1050.77,1118.54 1050.99,1119.65 1051.22,1120.76 1051.44,1121.85 1051.67,1122.94 1051.9,1124.02 1052.12,1125.09 1052.35,1126.15 1052.58,1127.21 1052.81,1128.26 1053.04,1129.29 1053.27,1130.32 1053.51,1131.35 1053.74,1132.36 1053.98,1133.37 1054.21,1134.37 1054.45,1135.36 1054.69,1136.34 1054.93,1137.32 1055.17,1138.29 1055.41,1139.25 1055.65,1140.21 1055.89,1141.16 1056.13,1142.1 1056.38,1143.03 1056.62,1143.96 1056.87,1144.88 1057.12,1145.79 1057.36,1146.69 1057.61,1147.59 1057.86,1148.48 1058.11,1149.37 1058.37,1150.25 1058.62,1151.12 1058.87,1151.99 1059.13,1152.85 1059.38,1153.7 1059.64,1154.55 1059.9,1155.39 1060.15,1156.22 1060.41,1157.05 1060.67,1157.87 1060.93,1158.68 1061.2,1159.49 1061.46,1160.3 1061.72,1161.09 1061.99,1161.89 1062.25,1162.67 1062.52,1163.45 1062.79,1164.23 1063.06,1165 1063.33,1165.76 1063.6,1166.52 1063.87,1167.27 1064.14,1168.01 1064.41,1168.75 1064.69,1169.49 1064.96,1170.22 1065.24,1170.95 1065.52,1171.66 1065.79,1172.38 1066.07,1173.09 1066.35,1173.79 1066.63,1174.49 1066.92,1175.19 1067.2,1175.87 1067.48,1176.56 1067.77,1177.24 1068.05,1177.91 1068.34,1178.58 1068.63,1179.25 1068.91,1179.91 1069.2,1180.56 1069.49,1181.21 1069.78,1181.86 1070.08,1182.5 1070.37,1183.14 1070.66,1183.77 1070.96,1184.4 1071.25,1185.02 1071.55,1185.64 1071.85,1186.25 1072.15,1186.86 1072.45,1187.47 1072.75,1188.07 1073.05,1188.67 1073.35,1189.26 1073.65,1189.85 1073.96,1190.43 1074.26,1191.02 1074.57,1191.59 1074.87,1192.17 1075.18,1192.73 1075.49,1193.3 1075.8,1193.86 1076.11,1194.42 1076.42,1194.97 1076.74,1195.52 1077.05,1196.07 1077.36,1196.61 1077.68,1197.15 1078,1197.68 1078.31,1198.21 1078.63,1198.74 1078.95,1199.26 1079.27,1199.78 1079.59,1200.3 1079.91,1200.81 1080.24,1201.32 1080.56,1201.83 1080.88,1202.33 1081.21,1202.83 1081.54,1203.33 1081.86,1203.82 1082.19,1204.31 1082.52,1204.8 1082.85,1205.28 1083.18,1205.76 1083.51,1206.24 1083.85,1206.71 1084.18,1207.18 1084.52,1207.65 1084.85,1208.11 1085.19,1208.57 1085.53,1209.03 1085.87,1209.48 1086.21,1209.94 1086.55,1210.39 1086.89,1210.83 1087.23,1211.27 1087.57,1211.72 1087.92,1212.15 1088.26,1212.59 1088.61,1213.02 1088.96,1213.45 1089.3,1213.87 1089.65,1214.3 1090,1214.72 1090.35,1215.13 1090.71,1215.55 1091.06,1215.96 1091.41,1216.37 1091.77,1216.78 1092.12,1217.18 1092.48,1217.59 1092.84,1217.99 1093.19,1218.38 1093.55,1218.78 1093.91,1219.17 1094.27,1219.56 1094.64,1219.94 1095,1220.33 1095.36,1220.71 1095.73,1221.09 1096.09,1221.47 1096.46,1221.84 1096.83,1222.22 1097.2,1222.59 1097.57,1222.95 1097.94,1223.32 1098.31,1223.68 1098.68,1224.04 1099.05,1224.4 1099.43,1224.76 1099.8,1225.11 1100.18,1225.47 1100.56,1225.82 1100.93,1226.16 1101.31,1226.51 1101.69,1226.85 1102.07,1227.19 1102.46,1227.53 1102.84,1227.87 1103.22,1228.21 1103.61,1228.54 1103.99,1228.87 1104.38,1229.2 1104.76,1229.53 1105.15,1229.85 1105.54,1230.17 1105.93,1230.5 1106.32,1230.81 1106.72,1231.13 1107.11,1231.45 1107.5,1231.76 1107.9,1232.07 1108.29,1232.38 1108.69,1232.69 1109.09,1233 1109.48,1233.3 1109.88,1233.6 1110.28,1233.9 1110.69,1234.2 1111.09,1234.5 1111.49,1234.8 1111.9,1235.09 1112.3,1235.38 1112.71,1235.67 1113.11,1235.96 1113.52,1236.25 1113.93,1236.53 1114.34,1236.82 1114.75,1237.1 1115.16,1237.38 1115.57,1237.66 1115.99,1237.93 1116.4,1238.21 1116.82,1238.48 1117.23,1238.75 1117.65,1239.03 1118.07,1239.29 1118.49,1239.56 1118.91,1239.83 1119.33,1240.09 1119.75,1240.36 1120.17,1240.62 1120.6,1240.88 1121.02,1241.14 1121.45,1241.39 1121.87,1241.65 1122.3,1241.9 1122.73,1242.15 1123.16,1242.41 1123.59,1242.66 1124.02,1242.9 1124.45,1243.15 1124.89,1243.4 1125.32,1243.64 1125.75,1243.88 1126.19,1244.13 1126.63,1244.37 1127.06,1244.6 1127.5,1244.84 1127.94,1245.08 1128.38,1245.31 1128.82,1245.55 1129.27,1245.78 1129.71,1246.01 1130.15,1246.24 1130.6,1246.47 1131.05,1246.69 1131.49,1246.92 1131.94,1247.15 1132.39,1247.37 1132.84,1247.59 1133.29,1247.81 1133.74,1248.03 1134.19,1248.25 1134.65,1248.47 1135.1,1248.68 1135.56,1248.9 1136.01,1249.11 1136.47,1249.33 1136.93,1249.54 1137.39,1249.75 1137.85,1249.96 1138.31,1250.17 1138.77,1250.37 1139.24,1250.58 1139.7,1250.78 1140.16,1250.99 1140.63,1251.19 1141.1,1251.39 1141.56,1251.59 1142.03,1251.79 1142.5,1251.99 1142.97,1252.19 1143.44,1252.39 1143.92,1252.58 1144.39,1252.78 1144.86,1252.97 1145.34,1253.16 1145.82,1253.35 1146.29,1253.54 1146.77,1253.73 1147.25,1253.92 1147.73,1254.11 1148.21,1254.29 1148.69,1254.48 1149.17,1254.66 1149.66,1254.85 1150.14,1255.03 1150.63,1255.21 1151.11,1255.39 1151.6,1255.57 1152.09,1255.75 1152.58,1255.93 1153.07,1256.11 1153.56,1256.28 1154.05,1256.46 1154.54,1256.63 1155.04,1256.81 1155.53,1256.98 1156.03,1257.15 1156.52,1257.32 1157.02,1257.49 1157.52,1257.66 1158.02,1257.83 1158.52,1258 1159.02,1258.16 1159.52,1258.33 1160.03,1258.49 1160.53,1258.66 1161.04,1258.82 1161.54,1258.98 1162.05,1259.14 1162.56,1259.31 1163.06,1259.47 1163.57,1259.62 1164.08,1259.78 1164.6,1259.94 1165.11,1260.1 1165.62,1260.25 1166.14,1260.41 1166.65,1260.56 1167.17,1260.72 1167.68,1260.87 1168.2,1261.02 1168.72,1261.17 1169.24,1261.33 1169.76,1261.48 1170.28,1261.63 1170.81,1261.77 1171.33,1261.92 1171.86,1262.07 1172.38,1262.22 1172.91,1262.36 1173.44,1262.51 1173.96,1262.65 1174.49,1262.79 1175.02,1262.94 1175.55,1263.08 1176.09,1263.22 1176.62,1263.36 1177.15,1263.5 1177.69,1263.64 1178.22,1263.78 1178.76,1263.92 1179.3,1264.06 1179.84,1264.19 1180.38,1264.33 1180.92,1264.47 1181.46,1264.6 1182,1264.74 1182.54,1264.87 1183.09,1265 1183.63,1265.14 1184.18,1265.27 1184.73,1265.4 1185.27,1265.53 1185.82,1265.66 1186.37,1265.79 1186.92,1265.92 1187.48,1266.05 1188.03,1266.17 1188.58,1266.3 1189.14,1266.43 1189.69,1266.55 1190.25,1266.68 1190.81,1266.8 1191.36,1266.93 1191.92,1267.05 1192.48,1267.17 1193.04,1267.3 1193.61,1267.42 1194.17,1267.54 1194.73,1267.66 1195.3,1267.78 1195.86,1267.9 1196.43,1268.02 1197,1268.14 1197.57,1268.26 1198.14,1268.37 1198.71,1268.49 1199.28,1268.61 1199.85,1268.72 1200.42,1268.84 1201,1268.95 1201.57,1269.07 1202.15,1269.18 1202.72,1269.3 1203.3,1269.41 1203.88,1269.52 1204.46,1269.63 1205.04,1269.74 1205.62,1269.86 1206.21,1269.97 1206.79,1270.08 1207.37,1270.19 1207.96,1270.29 1208.55,1270.4 1209.13,1270.51 1209.72,1270.62 1210.31,1270.73 1210.9,1270.83 1211.49,1270.94 1212.08,1271.04 1212.68,1271.15 1213.27,1271.25 1213.86,1271.36 1214.46,1271.46 1215.06,1271.56 1215.65,1271.67 1216.25,1271.77 1216.85,1271.87 1217.45,1271.97 1218.05,1272.07 1218.65,1272.18 1219.26,1272.28 1219.86,1272.38 1220.47,1272.47 1221.07,1272.57 1221.68,1272.67 1222.29,1272.77 1222.9,1272.87 1223.51,1272.97 1224.12,1273.06 1224.73,1273.16 1225.34,1273.25 1225.95,1273.35 1226.57,1273.45 1227.18,1273.54 1227.8,1273.63 1228.42,1273.73 1229.03,1273.82 1229.65,1273.92 1230.27,1274.01 1230.89,1274.1 1231.52,1274.19 1232.14,1274.28 1232.76,1274.38 1233.39,1274.47 1234.01,1274.56 1234.64,1274.65 1235.27,1274.74 1235.89,1274.83 1236.52,1274.92 1237.15,1275 1237.78,1275.09 1238.42,1275.18 1239.05,1275.27 1239.68,1275.36 1240.32,1275.44 1240.95,1275.53 1241.59,1275.62 1242.23,1275.7 1242.87,1275.79 1243.51,1275.87 1244.15,1275.96 1244.79,1276.04 1245.43,1276.12 1246.07,1276.21 1246.72,1276.29 1247.36,1276.37 1248.01,1276.46 1248.66,1276.54 1249.3,1276.62 1249.95,1276.7 1250.6,1276.78 1251.25,1276.87 1251.91,1276.95 1252.56,1277.03 1253.21,1277.11 1253.87,1277.19 1254.52,1277.27 1255.18,1277.34 1255.84,1277.42 1256.49,1277.5 1257.15,1277.58 1257.81,1277.66 1258.47,1277.74 1259.14,1277.81 1259.8,1277.89 1260.46,1277.97 1261.13,1278.04 1261.79,1278.12 1262.46,1278.19 1263.13,1278.27 1263.8,1278.34 1264.46,1278.42 1265.14,1278.49 1265.81,1278.57 1266.48,1278.64 1267.15,1278.72 1267.83,1278.79 1268.5,1278.86 1269.18,1278.93 1269.85,1279.01 1270.53,1279.08 1271.21,1279.15 1271.89,1279.22 1272.57,1279.29 1273.25,1279.37 1273.93,1279.44 1274.62,1279.51 1275.3,1279.58 1275.99,1279.65 1276.67,1279.72 1277.36,1279.79 1278.05,1279.86 1278.74,1279.92 1279.43,1279.99 1280.12,1280.06 1280.81,1280.13 1281.5,1280.2 1282.2,1280.27 1282.89,1280.33 1283.59,1280.4 1284.28,1280.47 1284.98,1280.53 1285.68,1280.6 1286.38,1280.67 1287.08,1280.73 1287.78,1280.8 1288.48,1280.86 1289.19,1280.93 1289.89,1280.99 1290.6,1281.06 1291.3,1281.12 1292.01,1281.19 1292.72,1281.25 1293.42,1281.31 1294.13,1281.38 1294.84,1281.44 1295.56,1281.5 1296.27,1281.57 1296.98,1281.63 1297.7,1281.69 1298.41,1281.75 1299.13,1281.81 1299.84,1281.88 1300.56,1281.94 1301.28,1282 1302,1282.06 1302.72,1282.12 1303.44,1282.18 1304.17,1282.24 1304.89,1282.3 1305.61,1282.36 1306.34,1282.42 1307.07,1282.48 1307.79,1282.54 1308.52,1282.6 1309.25,1282.65 1309.98,1282.71 1310.71,1282.77 1311.44,1282.83 1312.18,1282.89 1312.91,1282.94 1313.65,1283 1314.38,1283.06 1315.12,1283.12 1315.86,1283.17 1316.59,1283.23 1317.33,1283.29 1318.07,1283.34 1318.82,1283.4 1319.56,1283.45 1320.3,1283.51 1321.05,1283.57 1321.79,1283.62 1322.54,1283.68 1323.28,1283.73 1324.03,1283.78 1324.78,1283.84 1325.53,1283.89 1326.28,1283.95 1327.03,1284 1327.79,1284.05 1328.54,1284.11 1329.29,1284.16 1330.05,1284.21 1330.8,1284.27 1331.56,1284.32 1332.32,1284.37 1333.08,1284.42 1333.84,1284.48 1334.6,1284.53 1335.36,1284.58 1336.13,1284.63 1336.89,1284.68 1337.65,1284.73 1338.42,1284.79 1339.19,1284.84 1339.95,1284.89 1340.72,1284.94 1341.49,1284.99 1342.26,1285.04 1343.03,1285.09 1343.8,1285.14 1344.58,1285.19 1345.35,1285.24 1346.13,1285.29 1346.9,1285.34 1347.68,1285.38 1348.46,1285.43 1349.24,1285.48 1350.02,1285.53 1350.8,1285.58 1351.58,1285.63 1352.36,1285.67 1353.14,1285.72 1353.93,1285.77 1354.71,1285.82 1355.5,1285.86 1356.29,1285.91 1357.08,1285.96 1357.86,1286.01 1358.65,1286.05 1359.44,1286.1 1360.24,1286.15 1361.03,1286.19 1361.82,1286.24 1362.62,1286.28 1363.41,1286.33 1364.21,1286.37 1365.01,1286.42 1365.81,1286.47 1366.6,1286.51 1367.41,1286.56 1368.21,1286.6 1369.01,1286.64 1369.81,1286.69 1370.62,1286.73 1371.42,1286.78 1372.23,1286.82 1373.03,1286.87 1373.84,1286.91 1374.65,1286.95 1375.46,1287 1376.27,1287.04 1377.08,1287.08 1377.89,1287.13 1378.71,1287.17 1379.52,1287.21 1380.34,1287.25 1381.15,1287.3 1381.97,1287.34 1382.79,1287.38 1383.61,1287.42 1384.43,1287.47 1385.25,1287.51 1386.07,1287.55 1386.89,1287.59 1387.71,1287.63 1388.54,1287.67 1389.36,1287.71 1390.19,1287.76 1391.02,1287.8 1391.85,1287.84 1392.68,1287.88 1393.51,1287.92 1394.34,1287.96 1395.17,1288 1396,1288.04 1396.84,1288.08 1397.67,1288.12 1398.51,1288.16 1399.34,1288.2 1400.18,1288.24 1401.02,1288.28 1401.86,1288.32 1402.7,1288.35 1403.54,1288.39 1404.38,1288.43 1405.23,1288.47 1406.07,1288.51 1406.91,1288.55 1407.76,1288.59 1408.61,1288.62 1409.46,1288.66 1410.3,1288.7 1411.15,1288.74 1412,1288.78 1412.86,1288.81 1413.71,1288.85 1414.56,1288.89 1415.42,1288.93 1416.27,1288.96 1417.13,1289 1417.99,1289.04 1418.84,1289.07 1419.7,1289.11 1420.56,1289.15 1421.42,1289.18 1422.29,1289.22 1423.15,1289.25 1424.01,1289.29 1424.88,1289.33 1425.74,1289.36 1426.61,1289.4 1427.48,1289.43 1428.34,1289.47 1429.21,1289.5 1430.08,1289.54 1430.96,1289.58 1431.83,1289.61 1432.7,1289.65 1433.57,1289.68 1434.45,1289.71 1435.33,1289.75 1436.2,1289.78 1437.08,1289.82 1437.96,1289.85 1438.84,1289.89 1439.72,1289.92 1440.6,1289.96 1441.48,1289.99 1442.37,1290.02 1443.25,1290.06 1444.14,1290.09 1445.02,1290.12 1445.91,1290.16 1446.8,1290.19 1447.69,1290.22 1448.58,1290.26 1449.47,1290.29 1450.36,1290.32 1451.25,1290.36 1452.15,1290.39 1453.04,1290.42 1453.94,1290.45 1454.83,1290.49 1455.73,1290.52 1456.63,1290.55 1457.53,1290.58 1458.43,1290.61 1459.33,1290.65 1460.23,1290.68 1461.13,1290.71 1462.04,1290.74 1462.94,1290.77 1463.85,1290.8 1464.75,1290.84 1465.66,1290.87 1466.57,1290.9 1467.48,1290.93 1468.39,1290.96 1469.3,1290.99 1470.21,1291.02 1471.13,1291.05 1472.04,1291.08 1472.96,1291.11 1473.87,1291.14 1474.79,1291.17 1475.71,1291.2 1476.63,1291.23 1477.55,1291.26 1478.47,1291.29 1479.39,1291.32 1480.31,1291.35 1481.24,1291.38 1482.16,1291.41 1483.09,1291.44 1484.01,1291.47 1484.94,1291.5 1485.87,1291.53 1486.8,1291.56 1487.73,1291.59 1488.66,1291.62 1489.59,1291.65 1490.52,1291.68 1491.46,1291.7 1492.39,1291.73 1493.33,1291.76 1494.26,1291.79 1495.2,1291.82 1496.14,1291.85 1497.08,1291.88 1498.02,1291.9 1498.96,1291.93 1499.9,1291.96 1500.85,1291.99 1501.79,1292.02 1502.73,1292.04 1503.68,1292.07 1504.63,1292.1 1505.58,1292.13 1506.52,1292.15 1507.47,1292.18 1508.42,1292.21 1509.38,1292.24 1510.33,1292.26 1511.28,1292.29 1512.24,1292.32 1513.19,1292.34 1514.15,1292.37 1515.11,1292.4 1516.06,1292.42 1517.02,1292.45 1517.98,1292.48 1518.94,1292.5 1519.91,1292.53 1520.87,1292.56 1521.83,1292.58 1522.8,1292.61 1523.76,1292.63 1524.73,1292.66 1525.7,1292.69 1526.66,1292.71 1527.63,1292.74 1528.6,1292.76 1529.58,1292.79 1530.55,1292.82 1531.52,1292.84 1532.49,1292.87 1533.47,1292.89 1534.45,1292.92 1535.42,1292.94 1536.4,1292.97 1537.38,1292.99 1538.36,1293.02 1539.34,1293.04 1540.32,1293.07 1541.3,1293.09 1542.29,1293.12 1543.27,1293.14 1544.26,1293.17 1545.24,1293.19 1546.23,1293.22 1547.22,1293.24 1548.21,1293.26 1549.2,1293.29 1550.19,1293.31 1551.18,1293.34 1552.17,1293.36 1553.16,1293.38 1554.16,1293.41 1555.15,1293.43 1556.15,1293.46 1557.15,1293.48 1558.15,1293.5 1559.15,1293.53 1560.15,1293.55 1561.15,1293.57 1562.15,1293.6 1563.15,1293.62 1564.16,1293.64 1565.16,1293.67 1566.17,1293.69 1567.17,1293.71 1568.18,1293.74 1569.19,1293.76 1570.2,1293.78 1571.21,1293.81 1572.22,1293.83 1573.23,1293.85 1574.25,1293.87 1575.26,1293.9 1576.28,1293.92 1577.29,1293.94 1578.31,1293.96 1579.33,1293.99 1580.34,1294.01 1581.36,1294.03 1582.39,1294.05 1583.41,1294.07 1584.43,1294.1 1585.45,1294.12 1586.48,1294.14 1587.5,1294.16 1588.53,1294.18 1589.56,1294.21 1590.58,1294.23 1591.61,1294.25 1592.64,1294.27 1593.67,1294.29 1594.71,1294.31 1595.74,1294.34 1596.77,1294.36 1597.81,1294.38 1598.84,1294.4 1599.88,1294.42 1600.92,1294.44 1601.96,1294.46 1603,1294.48 1604.04,1294.51 1605.08,1294.53 1606.12,1294.55 1607.16,1294.57 1608.21,1294.59 1609.25,1294.61 1610.3,1294.63 1611.34,1294.65 1612.39,1294.67 1613.44,1294.69 1614.49,1294.71 1615.54,1294.73 1616.59,1294.75 1617.65,1294.77 1618.7,1294.79 1619.75,1294.81 1620.81,1294.83 1621.86,1294.85 1622.92,1294.87 1623.98,1294.89 1625.04,1294.91 1626.1,1294.93 1627.16,1294.95 1628.22,1294.97 1629.28,1294.99 1630.35,1295.01 1631.41,1295.03 1632.48,1295.05 1633.54,1295.07 1634.61,1295.09 1635.68,1295.11 1636.75,1295.13 1637.82,1295.15 1638.89,1295.17 1639.96,1295.19 1641.04,1295.21 1642.11,1295.23 1643.19,1295.24 1644.26,1295.26 1645.34,1295.28 1646.42,1295.3 1647.49,1295.32 1648.57,1295.34 1649.65,1295.36 1650.74,1295.38 1651.82,1295.4 1652.9,1295.41 1653.99,1295.43 1655.07,1295.45 1656.16,1295.47 1657.24,1295.49 1658.33,1295.51 1659.42,1295.53 1660.51,1295.54 1661.6,1295.56 1662.69,1295.58 1663.79,1295.6 1664.88,1295.62 1665.97,1295.63 1667.07,1295.65 1668.17,1295.67 1669.26,1295.69 1670.36,1295.71 1671.46,1295.72 1672.56,1295.74 1673.66,1295.76 1674.76,1295.78 1675.87,1295.8 1676.97,1295.81 1678.08,1295.83 1679.18,1295.85 1680.29,1295.87 1681.4,1295.88 1682.5,1295.9 1683.61,1295.92 1684.72,1295.93 1685.84,1295.95 1686.95,1295.97 1688.06,1295.99 1689.17,1296 1690.29,1296.02 1691.41,1296.04 1692.52,1296.06 1693.64,1296.07 1694.76,1296.09 1695.88,1296.11 1697,1296.12 1697.9,1296.14" fill="none" stroke="#000000" stroke-width="4.5" stroke-linejoin="round" stroke-dasharray="17 4.25 8.5 4.25"/>
<text transform="translate(1013.37 1347) scale(1 1.045)" font-size="30" text-anchor="middle" fill="#262626">0</text>
<text transform="translate(1150.1 1347) scale(1 1.045)" font-size="30" text-anchor="middle" fill="#262626">100</text>
<text transform="translate(1286.82 1347) scale(1 1.045)" font-size="30" text-anchor="middle" fill="#262626">200</text>
<text transform="translate(1423.55 1347) scale(1 1.045)" font-size="30" text-anchor="middle" fill="#262626">300</text>
<text transform="translate(1560.27 1347) scale(1 1.045)" font-size="30" text-anchor="middle" fill="#262626">400</text>
<text transform="translate(1697 1347) scale(1 1.045)" font-size="30" text-anchor="middle" fill="#262626">500</text>
<text transform="translate(988.7 1318.25) scale(1 1.045)" font-size="30" text-anchor="end" fill="#262626">0</text>
<text transform="translate(988.7 1221.52) scale(1 1.045)" font-size="30" text-anchor="end" fill="#262626">0.5</text>
<text transform="translate(988.7 1124.8) scale(1 1.045)" font-size="30" text-anchor="end" fill="#262626">1</text>
<text transform="translate(988.7 1028.07) scale(1 1.045)" font-size="30" text-anchor="end" fill="#262626">1.5</text>
<text transform="translate(988.7 931.34) scale(1 1.045)" font-size="30" text-anchor="end" fill="#262626">2</text>
<text transform="translate(988.7 834.61) scale(1 1.045)" font-size="30" text-anchor="end" fill="#262626">2.5</text>
<text x="1347.9" y="1389.8" font-size="32.8" text-anchor="middle" fill="#262626" xml:space="preserve">time (ps)</text>
<text x="932.5" y="1040" font-size="32.8" text-anchor="middle" fill="#262626" transform="rotate(-90 932.5 1040)" xml:space="preserve"><tspan font-style="italic" font-family='"Liberation Serif", "DejaVu Serif", serif' font-size="37.72">κ</tspan><tspan dx="1.31"> (S/m)</tspan></text>
<text x="893.5" y="765.2" font-size="32.8" text-anchor="start" fill="#000" font-weight="bold" xml:space="preserve">(d)</text>
<path d="M1491.8 821.5H1557" stroke="#0000ff" stroke-width="4.5" fill="none"/>
<text x="1562.4" y="826.12" font-size="23.1" text-anchor="start" fill="#000" xml:space="preserve"><tspan font-style="italic" font-family='"Liberation Serif", "DejaVu Serif", serif' font-size="23.56">σ</tspan><tspan dy="11.55" dx="2.08" font-size="18.48">r0</tspan><tspan dy="-11.55" dx="0.23"> = 2</tspan><tspan dx="1.39" font-style="italic" font-family='"Liberation Serif", "DejaVu Serif", serif' font-size="26.57">μ</tspan><tspan dx="0.81">m</tspan></text>
<path d="M1491.8 863H1557" stroke="#ff0000" stroke-width="4.5" fill="none" stroke-dasharray="4.25 4.25"/>
<text x="1562.4" y="867.62" font-size="23.1" text-anchor="start" fill="#000" xml:space="preserve"><tspan font-style="italic" font-family='"Liberation Serif", "DejaVu Serif", serif' font-size="23.56">σ</tspan><tspan dy="11.55" dx="2.08" font-size="18.48">r0</tspan><tspan dy="-11.55" dx="0.23"> = 5</tspan><tspan dx="1.39" font-style="italic" font-family='"Liberation Serif", "DejaVu Serif", serif' font-size="26.57">μ</tspan><tspan dx="0.81">m</tspan></text>
<path d="M1491.8 904.9H1557" stroke="#000000" stroke-width="4.5" fill="none" stroke-dasharray="17 4.25 8.5 4.25"/>
<text x="1562.4" y="909.52" font-size="23.1" text-anchor="start" fill="#000" xml:space="preserve"><tspan>3</tspan><tspan font-style="italic" font-family='"Liberation Serif", "DejaVu Serif", serif' font-size="23.1">ϵ</tspan><tspan dy="11.55" dx="1.16" font-size="18.48">0</tspan><tspan dy="-11.55"> / t</tspan></text>
</svg>
</body>
</html>
